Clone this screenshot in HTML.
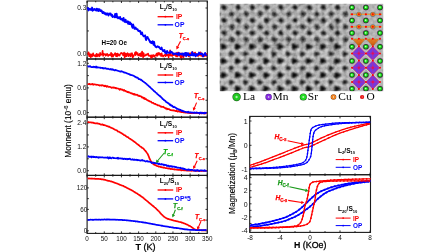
<!DOCTYPE html>
<html><head><meta charset="utf-8"><style>
html,body{margin:0;padding:0;background:#fff;}
body{width:448px;height:252px;overflow:hidden;}
svg{display:block;}
</style></head><body>
<svg width="448" height="252" viewBox="0 0 448 252">
<rect width="448" height="252" fill="#fff"/>
<g font-family='"Liberation Sans", Arial, sans-serif'>
<rect x="87.1" y="1" width="120.2" height="58" fill="none" stroke="#1a1a1a" stroke-width="1.1"/>
<line x1="87.1" y1="59" x2="87.1" y2="57" stroke="#1a1a1a" stroke-width="0.9"/>
<line x1="87.1" y1="1" x2="87.1" y2="3" stroke="#1a1a1a" stroke-width="0.9"/>
<line x1="95.69" y1="59" x2="95.69" y2="57.7" stroke="#1a1a1a" stroke-width="0.9"/>
<line x1="95.69" y1="1" x2="95.69" y2="2.3" stroke="#1a1a1a" stroke-width="0.9"/>
<line x1="104.27" y1="59" x2="104.27" y2="57" stroke="#1a1a1a" stroke-width="0.9"/>
<line x1="104.27" y1="1" x2="104.27" y2="3" stroke="#1a1a1a" stroke-width="0.9"/>
<line x1="112.86" y1="59" x2="112.86" y2="57.7" stroke="#1a1a1a" stroke-width="0.9"/>
<line x1="112.86" y1="1" x2="112.86" y2="2.3" stroke="#1a1a1a" stroke-width="0.9"/>
<line x1="121.44" y1="59" x2="121.44" y2="57" stroke="#1a1a1a" stroke-width="0.9"/>
<line x1="121.44" y1="1" x2="121.44" y2="3" stroke="#1a1a1a" stroke-width="0.9"/>
<line x1="130.03" y1="59" x2="130.03" y2="57.7" stroke="#1a1a1a" stroke-width="0.9"/>
<line x1="130.03" y1="1" x2="130.03" y2="2.3" stroke="#1a1a1a" stroke-width="0.9"/>
<line x1="138.61" y1="59" x2="138.61" y2="57" stroke="#1a1a1a" stroke-width="0.9"/>
<line x1="138.61" y1="1" x2="138.61" y2="3" stroke="#1a1a1a" stroke-width="0.9"/>
<line x1="147.2" y1="59" x2="147.2" y2="57.7" stroke="#1a1a1a" stroke-width="0.9"/>
<line x1="147.2" y1="1" x2="147.2" y2="2.3" stroke="#1a1a1a" stroke-width="0.9"/>
<line x1="155.79" y1="59" x2="155.79" y2="57" stroke="#1a1a1a" stroke-width="0.9"/>
<line x1="155.79" y1="1" x2="155.79" y2="3" stroke="#1a1a1a" stroke-width="0.9"/>
<line x1="164.37" y1="59" x2="164.37" y2="57.7" stroke="#1a1a1a" stroke-width="0.9"/>
<line x1="164.37" y1="1" x2="164.37" y2="2.3" stroke="#1a1a1a" stroke-width="0.9"/>
<line x1="172.96" y1="59" x2="172.96" y2="57" stroke="#1a1a1a" stroke-width="0.9"/>
<line x1="172.96" y1="1" x2="172.96" y2="3" stroke="#1a1a1a" stroke-width="0.9"/>
<line x1="181.54" y1="59" x2="181.54" y2="57.7" stroke="#1a1a1a" stroke-width="0.9"/>
<line x1="181.54" y1="1" x2="181.54" y2="2.3" stroke="#1a1a1a" stroke-width="0.9"/>
<line x1="190.13" y1="59" x2="190.13" y2="57" stroke="#1a1a1a" stroke-width="0.9"/>
<line x1="190.13" y1="1" x2="190.13" y2="3" stroke="#1a1a1a" stroke-width="0.9"/>
<line x1="198.71" y1="59" x2="198.71" y2="57.7" stroke="#1a1a1a" stroke-width="0.9"/>
<line x1="198.71" y1="1" x2="198.71" y2="2.3" stroke="#1a1a1a" stroke-width="0.9"/>
<line x1="207.3" y1="59" x2="207.3" y2="57" stroke="#1a1a1a" stroke-width="0.9"/>
<line x1="207.3" y1="1" x2="207.3" y2="3" stroke="#1a1a1a" stroke-width="0.9"/>
<line x1="87.1" y1="8" x2="88.9" y2="8" stroke="#1a1a1a" stroke-width="0.9"/>
<line x1="207.3" y1="8" x2="205.5" y2="8" stroke="#1a1a1a" stroke-width="0.9"/>
<line x1="87.1" y1="53.9" x2="88.9" y2="53.9" stroke="#1a1a1a" stroke-width="0.9"/>
<line x1="207.3" y1="53.9" x2="205.5" y2="53.9" stroke="#1a1a1a" stroke-width="0.9"/>
<line x1="87.1" y1="30.95" x2="88.9" y2="30.95" stroke="#1a1a1a" stroke-width="0.9"/>
<line x1="207.3" y1="30.95" x2="205.5" y2="30.95" stroke="#1a1a1a" stroke-width="0.9"/>
<text transform="translate(86.4,10.45) scale(0.95,1)" text-anchor="end" font-size="7.0" fill="#111">0.3</text>
<text transform="translate(86.4,56.35) scale(0.95,1)" text-anchor="end" font-size="7.0" fill="#111">0.0</text>
<rect x="87.1" y="59" width="120.2" height="58.2" fill="none" stroke="#1a1a1a" stroke-width="1.1"/>
<line x1="87.1" y1="117.2" x2="87.1" y2="115.2" stroke="#1a1a1a" stroke-width="0.9"/>
<line x1="87.1" y1="59" x2="87.1" y2="61" stroke="#1a1a1a" stroke-width="0.9"/>
<line x1="95.69" y1="117.2" x2="95.69" y2="115.9" stroke="#1a1a1a" stroke-width="0.9"/>
<line x1="95.69" y1="59" x2="95.69" y2="60.3" stroke="#1a1a1a" stroke-width="0.9"/>
<line x1="104.27" y1="117.2" x2="104.27" y2="115.2" stroke="#1a1a1a" stroke-width="0.9"/>
<line x1="104.27" y1="59" x2="104.27" y2="61" stroke="#1a1a1a" stroke-width="0.9"/>
<line x1="112.86" y1="117.2" x2="112.86" y2="115.9" stroke="#1a1a1a" stroke-width="0.9"/>
<line x1="112.86" y1="59" x2="112.86" y2="60.3" stroke="#1a1a1a" stroke-width="0.9"/>
<line x1="121.44" y1="117.2" x2="121.44" y2="115.2" stroke="#1a1a1a" stroke-width="0.9"/>
<line x1="121.44" y1="59" x2="121.44" y2="61" stroke="#1a1a1a" stroke-width="0.9"/>
<line x1="130.03" y1="117.2" x2="130.03" y2="115.9" stroke="#1a1a1a" stroke-width="0.9"/>
<line x1="130.03" y1="59" x2="130.03" y2="60.3" stroke="#1a1a1a" stroke-width="0.9"/>
<line x1="138.61" y1="117.2" x2="138.61" y2="115.2" stroke="#1a1a1a" stroke-width="0.9"/>
<line x1="138.61" y1="59" x2="138.61" y2="61" stroke="#1a1a1a" stroke-width="0.9"/>
<line x1="147.2" y1="117.2" x2="147.2" y2="115.9" stroke="#1a1a1a" stroke-width="0.9"/>
<line x1="147.2" y1="59" x2="147.2" y2="60.3" stroke="#1a1a1a" stroke-width="0.9"/>
<line x1="155.79" y1="117.2" x2="155.79" y2="115.2" stroke="#1a1a1a" stroke-width="0.9"/>
<line x1="155.79" y1="59" x2="155.79" y2="61" stroke="#1a1a1a" stroke-width="0.9"/>
<line x1="164.37" y1="117.2" x2="164.37" y2="115.9" stroke="#1a1a1a" stroke-width="0.9"/>
<line x1="164.37" y1="59" x2="164.37" y2="60.3" stroke="#1a1a1a" stroke-width="0.9"/>
<line x1="172.96" y1="117.2" x2="172.96" y2="115.2" stroke="#1a1a1a" stroke-width="0.9"/>
<line x1="172.96" y1="59" x2="172.96" y2="61" stroke="#1a1a1a" stroke-width="0.9"/>
<line x1="181.54" y1="117.2" x2="181.54" y2="115.9" stroke="#1a1a1a" stroke-width="0.9"/>
<line x1="181.54" y1="59" x2="181.54" y2="60.3" stroke="#1a1a1a" stroke-width="0.9"/>
<line x1="190.13" y1="117.2" x2="190.13" y2="115.2" stroke="#1a1a1a" stroke-width="0.9"/>
<line x1="190.13" y1="59" x2="190.13" y2="61" stroke="#1a1a1a" stroke-width="0.9"/>
<line x1="198.71" y1="117.2" x2="198.71" y2="115.9" stroke="#1a1a1a" stroke-width="0.9"/>
<line x1="198.71" y1="59" x2="198.71" y2="60.3" stroke="#1a1a1a" stroke-width="0.9"/>
<line x1="207.3" y1="117.2" x2="207.3" y2="115.2" stroke="#1a1a1a" stroke-width="0.9"/>
<line x1="207.3" y1="59" x2="207.3" y2="61" stroke="#1a1a1a" stroke-width="0.9"/>
<line x1="87.1" y1="63.3" x2="88.9" y2="63.3" stroke="#1a1a1a" stroke-width="0.9"/>
<line x1="207.3" y1="63.3" x2="205.5" y2="63.3" stroke="#1a1a1a" stroke-width="0.9"/>
<line x1="87.1" y1="87.9" x2="88.9" y2="87.9" stroke="#1a1a1a" stroke-width="0.9"/>
<line x1="207.3" y1="87.9" x2="205.5" y2="87.9" stroke="#1a1a1a" stroke-width="0.9"/>
<line x1="87.1" y1="112.6" x2="88.9" y2="112.6" stroke="#1a1a1a" stroke-width="0.9"/>
<line x1="207.3" y1="112.6" x2="205.5" y2="112.6" stroke="#1a1a1a" stroke-width="0.9"/>
<line x1="87.1" y1="75.6" x2="88.9" y2="75.6" stroke="#1a1a1a" stroke-width="0.9"/>
<line x1="207.3" y1="75.6" x2="205.5" y2="75.6" stroke="#1a1a1a" stroke-width="0.9"/>
<line x1="87.1" y1="100.25" x2="88.9" y2="100.25" stroke="#1a1a1a" stroke-width="0.9"/>
<line x1="207.3" y1="100.25" x2="205.5" y2="100.25" stroke="#1a1a1a" stroke-width="0.9"/>
<text transform="translate(86.4,65.75) scale(0.95,1)" text-anchor="end" font-size="7.0" fill="#111">1.2</text>
<text transform="translate(86.4,90.35) scale(0.95,1)" text-anchor="end" font-size="7.0" fill="#111">0.6</text>
<text transform="translate(86.4,115.05) scale(0.95,1)" text-anchor="end" font-size="7.0" fill="#111">0.0</text>
<rect x="87.1" y="117.2" width="120.2" height="58.2" fill="none" stroke="#1a1a1a" stroke-width="1.1"/>
<line x1="87.1" y1="175.4" x2="87.1" y2="173.4" stroke="#1a1a1a" stroke-width="0.9"/>
<line x1="87.1" y1="117.2" x2="87.1" y2="119.2" stroke="#1a1a1a" stroke-width="0.9"/>
<line x1="95.69" y1="175.4" x2="95.69" y2="174.1" stroke="#1a1a1a" stroke-width="0.9"/>
<line x1="95.69" y1="117.2" x2="95.69" y2="118.5" stroke="#1a1a1a" stroke-width="0.9"/>
<line x1="104.27" y1="175.4" x2="104.27" y2="173.4" stroke="#1a1a1a" stroke-width="0.9"/>
<line x1="104.27" y1="117.2" x2="104.27" y2="119.2" stroke="#1a1a1a" stroke-width="0.9"/>
<line x1="112.86" y1="175.4" x2="112.86" y2="174.1" stroke="#1a1a1a" stroke-width="0.9"/>
<line x1="112.86" y1="117.2" x2="112.86" y2="118.5" stroke="#1a1a1a" stroke-width="0.9"/>
<line x1="121.44" y1="175.4" x2="121.44" y2="173.4" stroke="#1a1a1a" stroke-width="0.9"/>
<line x1="121.44" y1="117.2" x2="121.44" y2="119.2" stroke="#1a1a1a" stroke-width="0.9"/>
<line x1="130.03" y1="175.4" x2="130.03" y2="174.1" stroke="#1a1a1a" stroke-width="0.9"/>
<line x1="130.03" y1="117.2" x2="130.03" y2="118.5" stroke="#1a1a1a" stroke-width="0.9"/>
<line x1="138.61" y1="175.4" x2="138.61" y2="173.4" stroke="#1a1a1a" stroke-width="0.9"/>
<line x1="138.61" y1="117.2" x2="138.61" y2="119.2" stroke="#1a1a1a" stroke-width="0.9"/>
<line x1="147.2" y1="175.4" x2="147.2" y2="174.1" stroke="#1a1a1a" stroke-width="0.9"/>
<line x1="147.2" y1="117.2" x2="147.2" y2="118.5" stroke="#1a1a1a" stroke-width="0.9"/>
<line x1="155.79" y1="175.4" x2="155.79" y2="173.4" stroke="#1a1a1a" stroke-width="0.9"/>
<line x1="155.79" y1="117.2" x2="155.79" y2="119.2" stroke="#1a1a1a" stroke-width="0.9"/>
<line x1="164.37" y1="175.4" x2="164.37" y2="174.1" stroke="#1a1a1a" stroke-width="0.9"/>
<line x1="164.37" y1="117.2" x2="164.37" y2="118.5" stroke="#1a1a1a" stroke-width="0.9"/>
<line x1="172.96" y1="175.4" x2="172.96" y2="173.4" stroke="#1a1a1a" stroke-width="0.9"/>
<line x1="172.96" y1="117.2" x2="172.96" y2="119.2" stroke="#1a1a1a" stroke-width="0.9"/>
<line x1="181.54" y1="175.4" x2="181.54" y2="174.1" stroke="#1a1a1a" stroke-width="0.9"/>
<line x1="181.54" y1="117.2" x2="181.54" y2="118.5" stroke="#1a1a1a" stroke-width="0.9"/>
<line x1="190.13" y1="175.4" x2="190.13" y2="173.4" stroke="#1a1a1a" stroke-width="0.9"/>
<line x1="190.13" y1="117.2" x2="190.13" y2="119.2" stroke="#1a1a1a" stroke-width="0.9"/>
<line x1="198.71" y1="175.4" x2="198.71" y2="174.1" stroke="#1a1a1a" stroke-width="0.9"/>
<line x1="198.71" y1="117.2" x2="198.71" y2="118.5" stroke="#1a1a1a" stroke-width="0.9"/>
<line x1="207.3" y1="175.4" x2="207.3" y2="173.4" stroke="#1a1a1a" stroke-width="0.9"/>
<line x1="207.3" y1="117.2" x2="207.3" y2="119.2" stroke="#1a1a1a" stroke-width="0.9"/>
<line x1="87.1" y1="123" x2="88.9" y2="123" stroke="#1a1a1a" stroke-width="0.9"/>
<line x1="207.3" y1="123" x2="205.5" y2="123" stroke="#1a1a1a" stroke-width="0.9"/>
<line x1="87.1" y1="146.9" x2="88.9" y2="146.9" stroke="#1a1a1a" stroke-width="0.9"/>
<line x1="207.3" y1="146.9" x2="205.5" y2="146.9" stroke="#1a1a1a" stroke-width="0.9"/>
<line x1="87.1" y1="170.7" x2="88.9" y2="170.7" stroke="#1a1a1a" stroke-width="0.9"/>
<line x1="207.3" y1="170.7" x2="205.5" y2="170.7" stroke="#1a1a1a" stroke-width="0.9"/>
<line x1="87.1" y1="134.95" x2="88.9" y2="134.95" stroke="#1a1a1a" stroke-width="0.9"/>
<line x1="207.3" y1="134.95" x2="205.5" y2="134.95" stroke="#1a1a1a" stroke-width="0.9"/>
<line x1="87.1" y1="158.8" x2="88.9" y2="158.8" stroke="#1a1a1a" stroke-width="0.9"/>
<line x1="207.3" y1="158.8" x2="205.5" y2="158.8" stroke="#1a1a1a" stroke-width="0.9"/>
<text transform="translate(86.4,125.45) scale(0.95,1)" text-anchor="end" font-size="7.0" fill="#111">2.4</text>
<text transform="translate(86.4,149.35) scale(0.95,1)" text-anchor="end" font-size="7.0" fill="#111">1.2</text>
<text transform="translate(86.4,173.15) scale(0.95,1)" text-anchor="end" font-size="7.0" fill="#111">0.0</text>
<rect x="87.1" y="175.4" width="120.2" height="58" fill="none" stroke="#1a1a1a" stroke-width="1.1"/>
<line x1="87.1" y1="233.4" x2="87.1" y2="231.4" stroke="#1a1a1a" stroke-width="0.9"/>
<line x1="87.1" y1="175.4" x2="87.1" y2="177.4" stroke="#1a1a1a" stroke-width="0.9"/>
<line x1="95.69" y1="233.4" x2="95.69" y2="232.1" stroke="#1a1a1a" stroke-width="0.9"/>
<line x1="95.69" y1="175.4" x2="95.69" y2="176.7" stroke="#1a1a1a" stroke-width="0.9"/>
<line x1="104.27" y1="233.4" x2="104.27" y2="231.4" stroke="#1a1a1a" stroke-width="0.9"/>
<line x1="104.27" y1="175.4" x2="104.27" y2="177.4" stroke="#1a1a1a" stroke-width="0.9"/>
<line x1="112.86" y1="233.4" x2="112.86" y2="232.1" stroke="#1a1a1a" stroke-width="0.9"/>
<line x1="112.86" y1="175.4" x2="112.86" y2="176.7" stroke="#1a1a1a" stroke-width="0.9"/>
<line x1="121.44" y1="233.4" x2="121.44" y2="231.4" stroke="#1a1a1a" stroke-width="0.9"/>
<line x1="121.44" y1="175.4" x2="121.44" y2="177.4" stroke="#1a1a1a" stroke-width="0.9"/>
<line x1="130.03" y1="233.4" x2="130.03" y2="232.1" stroke="#1a1a1a" stroke-width="0.9"/>
<line x1="130.03" y1="175.4" x2="130.03" y2="176.7" stroke="#1a1a1a" stroke-width="0.9"/>
<line x1="138.61" y1="233.4" x2="138.61" y2="231.4" stroke="#1a1a1a" stroke-width="0.9"/>
<line x1="138.61" y1="175.4" x2="138.61" y2="177.4" stroke="#1a1a1a" stroke-width="0.9"/>
<line x1="147.2" y1="233.4" x2="147.2" y2="232.1" stroke="#1a1a1a" stroke-width="0.9"/>
<line x1="147.2" y1="175.4" x2="147.2" y2="176.7" stroke="#1a1a1a" stroke-width="0.9"/>
<line x1="155.79" y1="233.4" x2="155.79" y2="231.4" stroke="#1a1a1a" stroke-width="0.9"/>
<line x1="155.79" y1="175.4" x2="155.79" y2="177.4" stroke="#1a1a1a" stroke-width="0.9"/>
<line x1="164.37" y1="233.4" x2="164.37" y2="232.1" stroke="#1a1a1a" stroke-width="0.9"/>
<line x1="164.37" y1="175.4" x2="164.37" y2="176.7" stroke="#1a1a1a" stroke-width="0.9"/>
<line x1="172.96" y1="233.4" x2="172.96" y2="231.4" stroke="#1a1a1a" stroke-width="0.9"/>
<line x1="172.96" y1="175.4" x2="172.96" y2="177.4" stroke="#1a1a1a" stroke-width="0.9"/>
<line x1="181.54" y1="233.4" x2="181.54" y2="232.1" stroke="#1a1a1a" stroke-width="0.9"/>
<line x1="181.54" y1="175.4" x2="181.54" y2="176.7" stroke="#1a1a1a" stroke-width="0.9"/>
<line x1="190.13" y1="233.4" x2="190.13" y2="231.4" stroke="#1a1a1a" stroke-width="0.9"/>
<line x1="190.13" y1="175.4" x2="190.13" y2="177.4" stroke="#1a1a1a" stroke-width="0.9"/>
<line x1="198.71" y1="233.4" x2="198.71" y2="232.1" stroke="#1a1a1a" stroke-width="0.9"/>
<line x1="198.71" y1="175.4" x2="198.71" y2="176.7" stroke="#1a1a1a" stroke-width="0.9"/>
<line x1="207.3" y1="233.4" x2="207.3" y2="231.4" stroke="#1a1a1a" stroke-width="0.9"/>
<line x1="207.3" y1="175.4" x2="207.3" y2="177.4" stroke="#1a1a1a" stroke-width="0.9"/>
<line x1="87.1" y1="187.9" x2="88.9" y2="187.9" stroke="#1a1a1a" stroke-width="0.9"/>
<line x1="207.3" y1="187.9" x2="205.5" y2="187.9" stroke="#1a1a1a" stroke-width="0.9"/>
<line x1="87.1" y1="209.4" x2="88.9" y2="209.4" stroke="#1a1a1a" stroke-width="0.9"/>
<line x1="207.3" y1="209.4" x2="205.5" y2="209.4" stroke="#1a1a1a" stroke-width="0.9"/>
<line x1="87.1" y1="230.8" x2="88.9" y2="230.8" stroke="#1a1a1a" stroke-width="0.9"/>
<line x1="207.3" y1="230.8" x2="205.5" y2="230.8" stroke="#1a1a1a" stroke-width="0.9"/>
<line x1="87.1" y1="198.65" x2="88.9" y2="198.65" stroke="#1a1a1a" stroke-width="0.9"/>
<line x1="207.3" y1="198.65" x2="205.5" y2="198.65" stroke="#1a1a1a" stroke-width="0.9"/>
<line x1="87.1" y1="220.1" x2="88.9" y2="220.1" stroke="#1a1a1a" stroke-width="0.9"/>
<line x1="207.3" y1="220.1" x2="205.5" y2="220.1" stroke="#1a1a1a" stroke-width="0.9"/>
<text transform="translate(87.2,190.35) scale(0.9,1)" text-anchor="end" font-size="7.0" fill="#111">120</text>
<text transform="translate(87.2,211.85) scale(0.9,1)" text-anchor="end" font-size="7.0" fill="#111">60</text>
<text transform="translate(87.2,233.25) scale(0.9,1)" text-anchor="end" font-size="7.0" fill="#111">0</text>
<polyline points="87.6,54.02 88.1,54.27 88.6,52.22 89.1,56.24 89.6,54.07 90.1,54.24 90.6,57.24 91.1,54.26 91.6,56.61 92.1,56.41 92.6,54.72 93.1,53.27 93.6,55.42 94.1,55.67 94.6,56.01 95.1,54.98 95.6,56.29 96.1,55.91 96.6,53.69 97.1,56.54 97.6,55.1 98.1,54.25 98.6,54.53 99.1,56.39 99.6,56.03 100.1,52.84 100.6,55 101.1,54.74 101.6,54.7 102.1,53.82 102.6,50.81 103.1,55.89 103.6,53.82 104.1,54.47 104.6,54.21 105.1,54.06 105.6,55.75 106.1,55.34 106.6,54.12 107.1,53.81 107.6,54.36 108.1,56.01 108.6,55.04 109.1,55.17 109.6,54.52 110.1,54.6 110.6,55.15 111.1,52.78 111.6,56.75 112.1,53.99 112.6,54.25 113.1,56.44 113.6,55.16 114.1,54.95 114.6,54.23 115.1,53.1 115.6,54.31 116.1,56.27 116.6,53.87 117.1,56.47 117.6,53.6 118.1,54.06 118.6,55.48 119.1,54.9 119.6,55.69 120.1,54.05 120.6,53.71 121.1,52.75 121.6,53.52 122.1,53.66 122.6,53.26 123.1,55.25 123.6,54.14 124.1,52.61 124.6,57.76 125.1,53.94 125.6,53.46 126.1,56.33 126.6,56.24 127.1,53.58 127.6,53.2 128.1,53.75 128.6,56.2 129.1,54.29 129.6,53.97 130.1,54.87 130.6,56.28 131.1,53.3 131.6,54.46 132.1,53.31 132.6,57.4 133.1,56.99 133.6,55.99 134.1,54.75 134.6,54.34 135.1,52.48 135.6,55.22 136.1,51.93 136.6,53.38 137.1,54.09 137.6,53.07 138.1,55.56 138.6,55.52 139.1,55.2 139.6,53.81 140.1,55.68 140.6,53.23 141.1,56.26 141.6,53.85 142.1,51.5 142.6,54.35 143.1,57.37 143.6,53.15 144.1,54.68 144.6,55.92 145.1,55.48 145.6,55.43 146.1,54.31 146.6,54.99 147.1,54.94 147.6,54.16 148.1,53.61 148.6,55.06 149.1,56.01 149.6,55.64 150.1,55.47 150.6,55.48 151.1,57.87 151.6,55.2 152.1,56.1 152.6,57.15 153.1,54.96 153.6,55.2 154.1,56.1 154.6,56.84 155.1,55.26 155.6,55.32 156.1,55 156.6,53.51 157.1,55.97 157.6,54.61 158.1,52.92 158.6,54.73 159.1,52.91 159.6,53.74 160.1,54.92 160.6,53.85 161.1,56.14 161.6,53.22 162.1,55.21 162.6,55.55 163.1,56.59 163.6,55.97 164.1,55.18 164.6,55 165.1,54.84 165.6,56.22 166.1,53.64 166.6,55.51 167.1,54.8 167.6,55.19 168.1,54.61 168.6,57.37 169.1,54.16 169.6,55.2 170.1,50.19 170.6,55.61 171.1,55.43 171.6,55.4 172.1,56.04 172.6,53.18 173.1,54.92 173.6,53.5 174.1,55.18 174.6,53.55 175.1,53.81 175.6,54.84 176.1,56.52 176.6,55.58 177.1,52.57 177.6,56.53 178.1,53.83 178.6,52.51 179.1,54.43 179.6,54.6 180.1,56.34 180.6,57.38 181.1,53.39 181.6,57.76 182.1,56.71 182.6,55.88 183.1,55.34 183.6,57.25 184.1,53.96 184.6,54.37 185.1,55.08 185.6,53.34 186.1,55.46 186.6,54.79 187.1,53.34 187.6,55.33 188.1,53.7 188.6,56.43 189.1,53.75 189.6,55.94 190.1,53.08 190.6,55.34 191.1,53.97 191.6,54.97 192.1,54.17 192.6,51.93 193.1,53.64 193.6,55 194.1,55.12 194.6,53.23 195.1,52.47 195.6,53.91 196.1,54.67 196.6,54.19 197.1,53.99 197.6,55.9 198.1,56.03 198.6,55.77 199.1,53.84 199.6,55.01 200.1,54.7 200.6,52.27 201.1,55.93 201.6,55.02 202.1,53.59 202.6,56.55 203.1,55.8 203.6,55.9 204.1,56.3 204.6,55.74 205.1,53.46 205.6,54.47 206.1,56.07 206.6,53.04" fill="none" stroke="#f00" stroke-width="1.6" stroke-linejoin="round"/>
<polyline points="87.6,7.17 88.1,9.28 88.6,10.47 89.1,8.82 89.6,9.02 90.1,8.81 90.6,9.86 91.1,9.27 91.6,10.04 92.1,7.58 92.6,10.83 93.1,9.26 93.6,10.01 94.1,9.1 94.6,9.03 95.1,9.85 95.6,10.27 96.1,9.43 96.6,8.63 97.1,10.67 97.6,9.42 98.1,9.03 98.6,11.06 99.1,10.24 99.6,9.24 100.1,10.48 100.6,11.01 101.1,10.52 101.6,10.44 102.1,12.1 102.6,13.12 103.1,12.25 103.6,11.97 104.1,13.24 104.6,13.76 105.1,12.99 105.6,13.98 106.1,14.64 106.6,13.63 107.1,13.23 107.6,14.5 108.1,14.57 108.6,15.53 109.1,13.37 109.6,14.16 110.1,14.13 110.6,13.42 111.1,15.33 111.6,15.86 112.1,14.8 112.6,16.96 113.1,16.57 113.6,16.53 114.1,16.47 114.6,17.15 115.1,14.04 115.6,17.15 116.1,17.32 116.6,13.67 117.1,17.44 117.6,17.07 118.1,18.26 118.6,17.3 119.1,17.92 119.6,18.48 120.1,16.85 120.6,19.18 121.1,18.75 121.6,19.55 122.1,18.84 122.6,20.61 123.1,20.21 123.6,18.04 124.1,20.96 124.6,21.83 125.1,21.06 125.6,19.68 126.1,22.3 126.6,22.18 127.1,21.94 127.6,21.38 128.1,23.84 128.6,21.77 129.1,23.84 129.6,24.02 130.1,22.46 130.6,24.05 131.1,23.45 131.6,25.07 132.1,26.87 132.6,27.72 133.1,24.49 133.6,26.02 134.1,27.64 134.6,28.87 135.1,28.19 135.6,27.5 136.1,28.92 136.6,29.05 137.1,29.3 137.6,29.23 138.1,30.73 138.6,31.09 139.1,30.75 139.6,31.47 140.1,30.91 140.6,32.13 141.1,34.19 141.6,33.33 142.1,32.6 142.6,34.89 143.1,35.4 143.6,36.27 144.1,35.89 144.6,35.85 145.1,35.37 145.6,38.46 146.1,40.09 146.6,37.31 147.1,37.92 147.6,37.04 148.1,38.64 148.6,39.06 149.1,39.99 149.6,40.95 150.1,42.25 150.6,41.67 151.1,42.96 151.6,42.11 152.1,43.24 152.6,41.31 153.1,41.58 153.6,44.89 154.1,41.95 154.6,45.42 155.1,45.75 155.6,46.84 156.1,46.71 156.6,47.26 157.1,46.53 157.6,46.32 158.1,46.62 158.6,47.18 159.1,46.89 159.6,47.76 160.1,48.49 160.6,49.12 161.1,48.84 161.6,47.6 162.1,49.62 162.6,50.15 163.1,51.2 163.6,50.93 164.1,49.98 164.6,50.11 165.1,52.91 165.6,51.91 166.1,53.12 166.6,53.58 167.1,50.96 167.6,52.27 168.1,52.5 168.6,52.75 169.1,52.88 169.6,52.7 170.1,52.8 170.6,51.33 171.1,52.72 171.6,52.28 172.1,52.3 172.6,52.76 173.1,53.9 173.6,54.2 174.1,53.81 174.6,53.91 175.1,53.79 175.6,53.37 176.1,53.72 176.6,53.48 177.1,54.39 177.6,54.09 178.1,54.68 178.6,52.91 179.1,55.05 179.6,53.51 180.1,53.57 180.6,54.1 181.1,53.78 181.6,54.62 182.1,53.82 182.6,53.37 183.1,53.6 183.6,55.67 184.1,54.49 184.6,53.35 185.1,54.49 185.6,53.02 186.1,56.21 186.6,53.08 187.1,54.99 187.6,55.07 188.1,53.18 188.6,54.86 189.1,55.53 189.6,55.04 190.1,54.85 190.6,55.51 191.1,54.77 191.6,54.95 192.1,52.12 192.6,55.25 193.1,53.76 193.6,55.42 194.1,54.19 194.6,53.65 195.1,55.04 195.6,56.31 196.1,55.62 196.6,54.22 197.1,55.38 197.6,54.3 198.1,54.62 198.6,54.34 199.1,52.55 199.6,53.76 200.1,53.78 200.6,54.1 201.1,53.37 201.6,53.33 202.1,53.88 202.6,55.57 203.1,56.37 203.6,54.77 204.1,54.29 204.6,54.54 205.1,52.98 205.6,54.94 206.1,55.22 206.6,54.39" fill="none" stroke="#00f" stroke-width="1.9" stroke-linejoin="round"/>
<polyline points="87.6,84.12 88.1,84.18 88.6,84.17 89.1,83.94 89.6,83.82 90.1,84.48 90.6,84.23 91.1,84.38 91.6,84.23 92.1,83.88 92.6,84.11 93.1,84.82 93.6,84.32 94.1,84.47 94.6,84.25 95.1,84.53 95.6,84.62 96.1,84.71 96.6,84.8 97.1,84.72 97.6,84.78 98.1,84.98 98.6,85.12 99.1,85.07 99.6,85.6 100.1,85.28 100.6,85.34 101.1,85.21 101.6,85.71 102.1,85.27 102.6,85.2 103.1,85.45 103.6,85.93 104.1,85.57 104.6,86.27 105.1,86.03 105.6,85.74 106.1,86.15 106.6,86.75 107.1,86.18 107.6,86.16 108.1,86.71 108.6,87 109.1,87.02 109.6,86.77 110.1,87 110.6,87.12 111.1,87.43 111.6,87.77 112.1,87.3 112.6,87.75 113.1,87.44 113.6,87.77 114.1,87.49 114.6,87.64 115.1,88.03 115.6,87.81 116.1,88.37 116.6,88.12 117.1,88.39 117.6,88.47 118.1,88.53 118.6,88.77 119.1,89.13 119.6,89.77 120.1,88.83 120.6,89.34 121.1,89.37 121.6,89.35 122.1,89.81 122.6,89.69 123.1,90.08 123.6,90.59 124.1,89.97 124.6,90.73 125.1,90.99 125.6,90.84 126.1,91.41 126.6,91.58 127.1,91.61 127.6,92.21 128.1,91.78 128.6,92.48 129.1,92.46 129.6,92.45 130.1,92.86 130.6,93.01 131.1,93.48 131.6,93.08 132.1,93.57 132.6,93.67 133.1,94.33 133.6,93.81 134.1,94.51 134.6,93.96 135.1,94.63 135.6,94.66 136.1,94.94 136.6,94.82 137.1,94.66 137.6,94.93 138.1,95.81 138.6,95.71 139.1,95.62 139.6,96.25 140.1,96.03 140.6,96.25 141.1,96.36 141.6,97.2 142.1,97.64 142.6,97.17 143.1,97.76 143.6,98.2 144.1,98.77 144.6,97.93 145.1,98.85 145.6,99.26 146.1,99.01 146.6,99.77 147.1,99.99 147.6,100.39 148.1,100.33 148.6,100.83 149.1,100.83 149.6,101.39 150.1,101.53 150.6,101.65 151.1,101.65 151.6,102.66 152.1,102.78 152.6,102.97 153.1,102.83 153.6,103.15 154.1,103.9 154.6,103.9 155.1,103.74 155.6,104.2 156.1,104.45 156.6,104.58 157.1,104.62 157.6,105.38 158.1,105.43 158.6,105.45 159.1,105.31 159.6,105.77 160.1,106.12 160.6,106.54 161.1,106.43 161.6,107 162.1,106.95 162.6,106.92 163.1,106.6 163.6,107.19 164.1,107.29 164.6,107.8 165.1,108.1 165.6,108.53 166.1,108.35 166.6,108.24 167.1,109.28 167.6,108.94 168.1,108.96 168.6,109.12 169.1,109 169.6,109.65 170.1,109.74 170.6,110.18 171.1,110.2 171.6,110.28 172.1,110.51 172.6,110.25 173.1,110.33 173.6,110.54 174.1,110.35 174.6,110.73 175.1,110.79 175.6,111.14 176.1,111.07 176.6,110.69 177.1,111.27 177.6,111.71 178.1,110.99 178.6,111.34 179.1,111.62 179.6,111.36 180.1,111.63 180.6,111.85 181.1,111.58 181.6,112.05 182.1,112.14 182.6,111.78 183.1,112.17 183.6,112.49 184.1,112.24 184.6,112.45 185.1,112.56 185.6,112.4 186.1,112.76 186.6,112.66 187.1,112.36 187.6,112.78 188.1,112.9 188.6,112.92 189.1,112.59 189.6,112.89 190.1,113.14 190.6,112.87 191.1,113.12 191.6,113.17 192.1,112.85 192.6,113.04 193.1,112.81 193.6,113.17 194.1,112.89 194.6,112.79 195.1,112.93 195.6,112.93 196.1,113.06 196.6,113.09 197.1,112.69 197.6,112.83 198.1,113.1 198.6,113.14 199.1,113.05 199.6,113.69 200.1,113.32 200.6,113.03 201.1,113.24 201.6,113.4 202.1,113.16 202.6,112.64 203.1,113.1 203.6,113.1 204.1,113.62 204.6,112.63 205.1,113.48 205.6,113.06 206.1,113.33 206.6,113.03" fill="none" stroke="#f00" stroke-width="1.7" stroke-linejoin="round"/>
<polyline points="87.6,66.67 88.1,66.25 88.6,66.73 89.1,66.72 89.6,66.37 90.1,66.11 90.6,66.79 91.1,66.78 91.6,67.26 92.1,67.08 92.6,66.97 93.1,67.25 93.6,66.62 94.1,66.99 94.6,66.93 95.1,67.49 95.6,67.25 96.1,66.4 96.6,67.57 97.1,67.06 97.6,67.54 98.1,67.28 98.6,67.52 99.1,67.68 99.6,67.64 100.1,67.41 100.6,68.07 101.1,67.88 101.6,67.85 102.1,68.1 102.6,67.85 103.1,68.53 103.6,68.19 104.1,68.29 104.6,68.36 105.1,68.12 105.6,68.13 106.1,68.56 106.6,68.67 107.1,69 107.6,68.85 108.1,68.55 108.6,69.04 109.1,69.19 109.6,69.32 110.1,69.24 110.6,68.94 111.1,69.63 111.6,69.24 112.1,69.66 112.6,69.22 113.1,69.9 113.6,69.61 114.1,70.18 114.6,70.45 115.1,70.4 115.6,69.92 116.1,70.08 116.6,70.21 117.1,70.7 117.6,70.74 118.1,70.81 118.6,70.96 119.1,71.15 119.6,71.29 120.1,71.68 120.6,71.37 121.1,71.56 121.6,71.19 122.1,71.46 122.6,71.76 123.1,71.78 123.6,72.29 124.1,72.65 124.6,72.43 125.1,72.58 125.6,72.74 126.1,73.07 126.6,73.07 127.1,73.49 127.6,73.64 128.1,73.83 128.6,74.11 129.1,74.12 129.6,74.33 130.1,74.93 130.6,74.67 131.1,75.08 131.6,75.09 132.1,75.17 132.6,75.38 133.1,75.5 133.6,75.92 134.1,75.99 134.6,76.26 135.1,76.9 135.6,76.8 136.1,77.36 136.6,77.39 137.1,77.79 137.6,77.69 138.1,78.14 138.6,79.04 139.1,78.87 139.6,79.21 140.1,79.32 140.6,79.79 141.1,79.62 141.6,80.05 142.1,80.74 142.6,81.21 143.1,81.3 143.6,81.76 144.1,82.12 144.6,82.58 145.1,82.75 145.6,83.12 146.1,83.89 146.6,83.91 147.1,84.53 147.6,85.04 148.1,85.36 148.6,86.11 149.1,86.36 149.6,86.89 150.1,87.09 150.6,87.6 151.1,88.36 151.6,88.76 152.1,89.01 152.6,89.67 153.1,90.07 153.6,90.52 154.1,91.34 154.6,91.29 155.1,91.95 155.6,92.41 156.1,92.69 156.6,92.91 157.1,93.83 157.6,94.18 158.1,94.59 158.6,95.04 159.1,95.51 159.6,95.75 160.1,96.52 160.6,96.46 161.1,97.37 161.6,97.47 162.1,98.21 162.6,98.93 163.1,99.13 163.6,99.51 164.1,100.18 164.6,100.4 165.1,100.77 165.6,101.17 166.1,102.04 166.6,102.22 167.1,102.56 167.6,102.53 168.1,103.36 168.6,103.26 169.1,104.07 169.6,104.03 170.1,105.15 170.6,104.59 171.1,105.65 171.6,105.87 172.1,105.54 172.6,106.22 173.1,106.93 173.6,107.13 174.1,106.71 174.6,107.26 175.1,107.36 175.6,107.65 176.1,108 176.6,108.86 177.1,108.67 177.6,108.81 178.1,109.01 178.6,109.48 179.1,109.69 179.6,109.49 180.1,110.29 180.6,109.83 181.1,110.21 181.6,110.56 182.1,111.04 182.6,110.69 183.1,111.01 183.6,111.42 184.1,111.4 184.6,111.67 185.1,111.79 185.6,111.73 186.1,111.94 186.6,112.12 187.1,111.99 187.6,112.48 188.1,111.66 188.6,111.99 189.1,112.64 189.6,112.44 190.1,112.22 190.6,112.53 191.1,112.75 191.6,112.39 192.1,112.76 192.6,112.57 193.1,112.61 193.6,112.66 194.1,112.98 194.6,112.45 195.1,112.66 195.6,112.94 196.1,112.48 196.6,112.41 197.1,112.96 197.6,112.83 198.1,112.81 198.6,112.89 199.1,112.63 199.6,113.61 200.1,112.65 200.6,112.8 201.1,112.56 201.6,112.82 202.1,113.32 202.6,112.95 203.1,113.1 203.6,112.84 204.1,113.42 204.6,113.01 205.1,112.66 205.6,113.17 206.1,112.89 206.6,113.14" fill="none" stroke="#00f" stroke-width="1.7" stroke-linejoin="round"/>
<polyline points="87.6,122.02 88.1,122.2 88.6,122.14 89.1,122.32 89.6,122.25 90.1,122.29 90.6,122.38 91.1,122.43 91.6,122.55 92.1,122.81 92.6,122.59 93.1,122.61 93.6,122.89 94.1,123.19 94.6,123.2 95.1,123.32 95.6,123.41 96.1,123.26 96.6,123.46 97.1,123.22 97.6,123.57 98.1,123.81 98.6,123.65 99.1,123.69 99.6,123.89 100.1,124.18 100.6,124.4 101.1,124.69 101.6,124.66 102.1,124.43 102.6,124.45 103.1,124.87 103.6,125.11 104.1,124.92 104.6,125.19 105.1,125.34 105.6,125.54 106.1,125.67 106.6,125.9 107.1,126.13 107.6,126.18 108.1,126.44 108.6,126.78 109.1,126.62 109.6,126.82 110.1,127.23 110.6,127.61 111.1,127.64 111.6,127.98 112.1,128.05 112.6,128.45 113.1,128.51 113.6,128.92 114.1,129.14 114.6,129.4 115.1,129.78 115.6,130.01 116.1,130.07 116.6,130.51 117.1,130.47 117.6,131.06 118.1,131.55 118.6,131.57 119.1,131.85 119.6,132.1 120.1,132.49 120.6,132.64 121.1,133.08 121.6,133.28 122.1,133.58 122.6,133.97 123.1,134.27 123.6,134.39 124.1,135.17 124.6,135.26 125.1,135.37 125.6,136.03 126.1,136.22 126.6,136.57 127.1,136.96 127.6,137.09 128.1,137.17 128.6,137.84 129.1,138.21 129.6,138.63 130.1,138.75 130.6,139.14 131.1,139.55 131.6,139.81 132.1,140.15 132.6,140.56 133.1,140.75 133.6,141.41 134.1,141.47 134.6,141.94 135.1,142.26 135.6,142.58 136.1,143.1 136.6,143.54 137.1,143.98 137.6,144.29 138.1,144.58 138.6,145.16 139.1,145.31 139.6,145.9 140.1,146.35 140.6,146.73 141.1,146.88 141.6,147.18 142.1,147.91 142.6,148.01 143.1,148.27 143.6,148.76 144.1,149.39 144.6,150.05 145.1,150.46 145.6,151.2 146.1,151.71 146.6,152.39 147.1,153.16 147.6,153.81 148.1,154.88 148.6,156.06 149.1,157.37 149.6,158.71 150.1,159.59 150.6,160.62 151.1,161.32 151.6,162.13 152.1,162.72 152.6,163.44 153.1,163.77 153.6,164.18 154.1,164.75 154.6,164.53 155.1,165.03 155.6,165.08 156.1,165.61 156.6,165.86 157.1,166.07 157.6,166.19 158.1,166.22 158.6,166.68 159.1,166.65 159.6,166.72 160.1,166.74 160.6,167.04 161.1,167.05 161.6,167.17 162.1,167.35 162.6,167.46 163.1,167.44 163.6,167.8 164.1,167.63 164.6,167.71 165.1,167.97 165.6,168.04 166.1,168.12 166.6,168.15 167.1,168.29 167.6,168.3 168.1,168.24 168.6,168.61 169.1,168.47 169.6,168.64 170.1,168.83 170.6,168.82 171.1,169.22 171.6,168.79 172.1,168.94 172.6,169.11 173.1,169.34 173.6,169.22 174.1,169.14 174.6,169.52 175.1,169.34 175.6,169.49 176.1,169.68 176.6,169.56 177.1,169.65 177.6,169.81 178.1,169.79 178.6,169.9 179.1,169.8 179.6,169.94 180.1,169.87 180.6,169.87 181.1,170.31 181.6,170.2 182.1,170.3 182.6,170.12 183.1,170.27 183.6,170.29 184.1,170.18 184.6,170.45 185.1,170.33 185.6,170.42 186.1,170.29 186.6,170.61 187.1,170.6 187.6,170.57 188.1,170.43 188.6,170.49 189.1,170.72 189.6,170.56 190.1,170.64 190.6,170.64 191.1,170.5 191.6,170.83 192.1,170.43 192.6,170.71 193.1,170.68 193.6,170.51 194.1,170.76 194.6,170.8 195.1,170.75 195.6,170.66 196.1,170.82 196.6,170.91 197.1,170.82 197.6,171.01 198.1,170.91 198.6,170.91 199.1,171 199.6,170.76 200.1,170.78 200.6,170.91 201.1,170.92 201.6,171.05 202.1,171.01 202.6,170.9 203.1,170.91 203.6,170.85 204.1,170.85 204.6,170.84 205.1,171.01 205.6,170.84 206.1,170.86 206.6,170.92" fill="none" stroke="#f00" stroke-width="1.7" stroke-linejoin="round"/>
<polyline points="87.6,156.58 88.1,156.66 88.6,156.19 89.1,156.85 89.6,156.7 90.1,156.85 90.6,156.91 91.1,156.38 91.6,157.46 92.1,156.92 92.6,156.95 93.1,156.48 93.6,157.11 94.1,157.08 94.6,156.91 95.1,157.09 95.6,157.37 96.1,156.99 96.6,156.88 97.1,157.46 97.6,157.22 98.1,157.13 98.6,157.78 99.1,157.27 99.6,157.21 100.1,157.35 100.6,157.2 101.1,157.38 101.6,157.39 102.1,157.22 102.6,157.34 103.1,157.51 103.6,157.55 104.1,157.63 104.6,157.71 105.1,157.6 105.6,157.7 106.1,157.5 106.6,157.56 107.1,157.91 107.6,157.18 108.1,157.8 108.6,158.52 109.1,157.3 109.6,158.17 110.1,157.38 110.6,157.94 111.1,158.29 111.6,158.28 112.1,157.71 112.6,157.65 113.1,157.64 113.6,158.21 114.1,157.97 114.6,158.1 115.1,158.2 115.6,158.27 116.1,158.34 116.6,158.27 117.1,157.87 117.6,158.67 118.1,157.66 118.6,158.69 119.1,158.26 119.6,158.4 120.1,158.36 120.6,158.43 121.1,158.56 121.6,158.53 122.1,158.37 122.6,158.89 123.1,158.57 123.6,159.09 124.1,158.76 124.6,158.66 125.1,158.99 125.6,159.14 126.1,158.73 126.6,158.93 127.1,159.4 127.6,158.83 128.1,158.91 128.6,159.21 129.1,158.91 129.6,158.64 130.1,158.88 130.6,159.44 131.1,159.55 131.6,159.59 132.1,159.58 132.6,159.22 133.1,159.75 133.6,159.91 134.1,159.5 134.6,159.96 135.1,159.68 135.6,159.87 136.1,159.97 136.6,159.56 137.1,160.35 137.6,159.83 138.1,160.07 138.6,160.03 139.1,160.32 139.6,160.37 140.1,160.33 140.6,160.73 141.1,160.51 141.6,160.4 142.1,159.85 142.6,160.56 143.1,160.63 143.6,160.55 144.1,160.63 144.6,161.06 145.1,161.25 145.6,161.54 146.1,161.43 146.6,161.05 147.1,161.38 147.6,161.06 148.1,161.68 148.6,161.68 149.1,161.54 149.6,161.77 150.1,161.84 150.6,161.85 151.1,162.45 151.6,163 152.1,162.54 152.6,162.71 153.1,162.6 153.6,162.58 154.1,163.33 154.6,162.8 155.1,163.1 155.6,163.08 156.1,163.37 156.6,163.31 157.1,163.58 157.6,163.23 158.1,163.63 158.6,164.11 159.1,163.62 159.6,163.82 160.1,164.45 160.6,164.31 161.1,164.59 161.6,163.87 162.1,164.58 162.6,164.33 163.1,164.4 163.6,164.95 164.1,165.25 164.6,164.68 165.1,164.87 165.6,165.1 166.1,165.31 166.6,165.11 167.1,166.1 167.6,165.78 168.1,165.63 168.6,165.69 169.1,166.49 169.6,166.57 170.1,165.98 170.6,166.28 171.1,166.61 171.6,166.09 172.1,166.33 172.6,166.91 173.1,166.5 173.6,166.66 174.1,166.52 174.6,166.76 175.1,167.22 175.6,166.93 176.1,166.91 176.6,167.17 177.1,167.87 177.6,167.57 178.1,167.48 178.6,167.76 179.1,167.94 179.6,167.96 180.1,167.59 180.6,168.23 181.1,168.21 181.6,168.6 182.1,168.16 182.6,168.89 183.1,168.62 183.6,168.43 184.1,169.3 184.6,168.95 185.1,169.27 185.6,169.24 186.1,169.65 186.6,169.73 187.1,169.81 187.6,169.79 188.1,169.28 188.6,169.33 189.1,169.88 189.6,169.66 190.1,170.09 190.6,170.08 191.1,169.75 191.6,169.9 192.1,169.93 192.6,170.04 193.1,170.26 193.6,170.52 194.1,170.71 194.6,170.15 195.1,170.27 195.6,170.82 196.1,170.67 196.6,170.51 197.1,169.87 197.6,170.22 198.1,170.53 198.6,170.35 199.1,171.01 199.6,170.55 200.1,170.6 200.6,170.26 201.1,170.29 201.6,170.39 202.1,170.41 202.6,170.51 203.1,170.67 203.6,170.64 204.1,170.84 204.6,170.25 205.1,170.65 205.6,170.66 206.1,171 206.6,170.54" fill="none" stroke="#00f" stroke-width="1.7" stroke-linejoin="round"/>
<polyline points="87.6,178.53 88.1,178.43 88.6,178.54 89.1,178.54 89.6,178.47 90.1,178.49 90.6,178.53 91.1,178.6 91.6,178.47 92.1,178.65 92.6,178.57 93.1,178.77 93.6,178.76 94.1,178.63 94.6,178.63 95.1,178.91 95.6,178.78 96.1,178.81 96.6,178.75 97.1,178.81 97.6,178.91 98.1,178.93 98.6,178.84 99.1,179.04 99.6,179.01 100.1,178.97 100.6,179.19 101.1,179.16 101.6,179.32 102.1,179.3 102.6,179.46 103.1,179.4 103.6,179.66 104.1,179.61 104.6,179.86 105.1,179.76 105.6,180.07 106.1,180.26 106.6,180.36 107.1,180.55 107.6,180.49 108.1,180.83 108.6,180.97 109.1,180.87 109.6,181.03 110.1,181.18 110.6,181.36 111.1,181.51 111.6,181.44 112.1,181.84 112.6,181.93 113.1,182.03 113.6,182.36 114.1,182.42 114.6,182.72 115.1,182.85 115.6,182.97 116.1,183.27 116.6,183.43 117.1,183.52 117.6,183.63 118.1,183.91 118.6,184.21 119.1,184.34 119.6,184.71 120.1,184.8 120.6,185 121.1,185.22 121.6,185.33 122.1,185.6 122.6,185.77 123.1,185.85 123.6,186.12 124.1,186.55 124.6,186.69 125.1,186.94 125.6,187.07 126.1,187.38 126.6,187.73 127.1,187.92 127.6,188.12 128.1,188.54 128.6,188.67 129.1,188.9 129.6,189.28 130.1,189.32 130.6,189.77 131.1,189.9 131.6,190.2 132.1,190.49 132.6,190.83 133.1,191.11 133.6,191.41 134.1,191.69 134.6,192.09 135.1,192.41 135.6,192.64 136.1,192.96 136.6,193.19 137.1,193.45 137.6,193.92 138.1,194.2 138.6,194.61 139.1,194.73 139.6,195.44 140.1,195.47 140.6,195.93 141.1,196.37 141.6,196.55 142.1,197 142.6,197.26 143.1,197.7 143.6,198.05 144.1,198.61 144.6,199.02 145.1,199.38 145.6,199.91 146.1,200.34 146.6,200.65 147.1,201.05 147.6,201.47 148.1,201.88 148.6,202.45 149.1,202.78 149.6,203.16 150.1,203.58 150.6,204.05 151.1,204.38 151.6,204.84 152.1,205.21 152.6,205.73 153.1,206.12 153.6,206.32 154.1,206.84 154.6,207.33 155.1,207.67 155.6,208.21 156.1,208.63 156.6,209.12 157.1,209.55 157.6,210.08 158.1,210.61 158.6,210.96 159.1,211.53 159.6,212.07 160.1,212.86 160.6,213.32 161.1,213.89 161.6,214.41 162.1,214.85 162.6,215.32 163.1,215.91 163.6,216.26 164.1,216.83 164.6,217.08 165.1,217.4 165.6,217.67 166.1,217.97 166.6,218.24 167.1,218.6 167.6,218.89 168.1,218.82 168.6,219.12 169.1,219.33 169.6,219.35 170.1,219.52 170.6,219.66 171.1,219.63 171.6,220 172.1,220.07 172.6,220.19 173.1,220.33 173.6,220.48 174.1,220.77 174.6,220.73 175.1,220.91 175.6,220.93 176.1,221.12 176.6,221.2 177.1,221.33 177.6,221.4 178.1,221.54 178.6,221.76 179.1,221.91 179.6,222 180.1,222.03 180.6,222.24 181.1,222.14 181.6,222.56 182.1,222.63 182.6,222.82 183.1,223.06 183.6,223.12 184.1,223.42 184.6,223.51 185.1,223.79 185.6,223.93 186.1,224.2 186.6,224.52 187.1,224.59 187.6,224.84 188.1,225.12 188.6,225.43 189.1,225.89 189.6,225.9 190.1,226.06 190.6,226.46 191.1,226.69 191.6,227.09 192.1,227.49 192.6,227.79 193.1,228.21 193.6,228.5 194.1,229.03 194.6,229.26 195.1,229.65 195.6,229.83 196.1,229.85 196.6,230.04 197.1,230.17 197.6,230.27 198.1,230.08 198.6,230.22 199.1,230.39 199.6,230.24 200.1,230.27 200.6,230.26 201.1,230.17 201.6,230.35 202.1,230.3 202.6,230.3 203.1,230.35 203.6,230.36 204.1,230.14 204.6,230.34 205.1,230.25 205.6,230.31 206.1,230.25 206.6,230.23" fill="none" stroke="#f00" stroke-width="1.7" stroke-linejoin="round"/>
<polyline points="87.6,219.98 88.1,219.88 88.6,219.84 89.1,219.83 89.6,219.84 90.1,219.81 90.6,219.61 91.1,219.72 91.6,219.75 92.1,219.82 92.6,219.86 93.1,219.66 93.6,219.88 94.1,219.72 94.6,219.74 95.1,219.65 95.6,219.64 96.1,219.8 96.6,219.66 97.1,219.66 97.6,219.75 98.1,219.79 98.6,219.53 99.1,219.63 99.6,219.64 100.1,219.78 100.6,219.83 101.1,219.62 101.6,219.65 102.1,219.69 102.6,219.71 103.1,219.59 103.6,219.68 104.1,219.56 104.6,219.4 105.1,219.5 105.6,219.63 106.1,219.67 106.6,219.43 107.1,219.46 107.6,219.61 108.1,219.34 108.6,219.65 109.1,219.69 109.6,219.37 110.1,219.67 110.6,219.59 111.1,219.73 111.6,219.64 112.1,219.6 112.6,219.64 113.1,219.71 113.6,219.66 114.1,219.66 114.6,219.55 115.1,219.72 115.6,219.7 116.1,219.86 116.6,219.72 117.1,219.73 117.6,219.71 118.1,219.83 118.6,219.78 119.1,219.76 119.6,219.96 120.1,219.99 120.6,219.83 121.1,219.81 121.6,220 122.1,219.87 122.6,220.19 123.1,219.98 123.6,220.1 124.1,219.96 124.6,220.1 125.1,220.23 125.6,220.22 126.1,220.19 126.6,220.48 127.1,220.39 127.6,220.37 128.1,220.39 128.6,220.47 129.1,220.66 129.6,220.54 130.1,220.67 130.6,220.66 131.1,220.88 131.6,220.83 132.1,220.97 132.6,221 133.1,220.97 133.6,221.13 134.1,221.2 134.6,221.1 135.1,221.31 135.6,221.6 136.1,221.35 136.6,221.49 137.1,221.4 137.6,221.61 138.1,221.6 138.6,221.78 139.1,221.78 139.6,221.76 140.1,222.02 140.6,221.99 141.1,222 141.6,222.16 142.1,222.15 142.6,222.34 143.1,222.37 143.6,222.43 144.1,222.59 144.6,222.51 145.1,222.77 145.6,222.61 146.1,222.99 146.6,222.95 147.1,223 147.6,223.05 148.1,223.25 148.6,223.28 149.1,223.37 149.6,223.56 150.1,223.53 150.6,223.64 151.1,223.79 151.6,223.93 152.1,223.93 152.6,224.05 153.1,224.14 153.6,224.29 154.1,224.44 154.6,224.34 155.1,224.5 155.6,224.6 156.1,224.74 156.6,224.91 157.1,224.88 157.6,224.98 158.1,225.15 158.6,225.04 159.1,225.17 159.6,225.28 160.1,225.4 160.6,225.51 161.1,225.53 161.6,225.8 162.1,225.69 162.6,225.82 163.1,226.01 163.6,226.07 164.1,226.09 164.6,226.21 165.1,226.33 165.6,226.35 166.1,226.48 166.6,226.44 167.1,226.61 167.6,226.55 168.1,226.7 168.6,226.76 169.1,227.04 169.6,226.98 170.1,227.12 170.6,227.11 171.1,227.24 171.6,227.32 172.1,227.35 172.6,227.57 173.1,227.44 173.6,227.71 174.1,227.95 174.6,227.74 175.1,227.88 175.6,227.83 176.1,228.03 176.6,227.96 177.1,228.22 177.6,228.2 178.1,228.16 178.6,228.27 179.1,228.32 179.6,228.5 180.1,228.67 180.6,228.64 181.1,228.65 181.6,228.76 182.1,228.91 182.6,228.78 183.1,229.1 183.6,229.16 184.1,229 184.6,229.37 185.1,229.21 185.6,229.39 186.1,229.57 186.6,229.4 187.1,229.44 187.6,229.56 188.1,229.61 188.6,229.73 189.1,229.74 189.6,229.78 190.1,229.81 190.6,229.86 191.1,229.83 191.6,229.93 192.1,229.92 192.6,229.85 193.1,230.09 193.6,229.85 194.1,230.02 194.6,229.91 195.1,230.01 195.6,230.03 196.1,230.07 196.6,230.13 197.1,229.95 197.6,230.26 198.1,230.07 198.6,229.98 199.1,229.94 199.6,230.25 200.1,230.2 200.6,230.07 201.1,230.14 201.6,230.19 202.1,230.09 202.6,230.05 203.1,230.09 203.6,230.16 204.1,230.1 204.6,230 205.1,230.16 205.6,229.96 206.1,230.04 206.6,230.21" fill="none" stroke="#00f" stroke-width="1.7" stroke-linejoin="round"/>
<text x="159.7" y="9.3" font-size="6.6" font-weight="bold" fill="#000">L<tspan font-size="4.09" dy="1.7">2</tspan><tspan dy="-1.7">/S</tspan><tspan font-size="4.09" dy="1.7">10</tspan></text>
<line x1="157.6" y1="16.7" x2="173.2" y2="16.7" stroke="#f00" stroke-width="1.3"/>
<circle cx="165.4" cy="16.7" r="0.9" fill="#f00"/>
<line x1="157.6" y1="24.8" x2="173.2" y2="24.8" stroke="#00f" stroke-width="1.3"/>
<circle cx="165.4" cy="24.8" r="0.9" fill="#00f"/>
<text x="175.9" y="19.15" font-size="6.8" font-weight="bold" fill="#f00">IP</text>
<text x="174.6" y="27.25" font-size="6.8" font-weight="bold" fill="#00f">OP</text>
<text x="159.7" y="67.9" font-size="6.6" font-weight="bold" fill="#000">L<tspan font-size="4.09" dy="1.7">4</tspan><tspan dy="-1.7">/S</tspan><tspan font-size="4.09" dy="1.7">10</tspan></text>
<line x1="157.6" y1="75" x2="173.2" y2="75" stroke="#f00" stroke-width="1.3"/>
<circle cx="165.4" cy="75" r="0.9" fill="#f00"/>
<line x1="157.6" y1="82.5" x2="173.2" y2="82.5" stroke="#00f" stroke-width="1.3"/>
<circle cx="165.4" cy="82.5" r="0.9" fill="#00f"/>
<text x="175.9" y="77.45" font-size="6.8" font-weight="bold" fill="#f00">IP</text>
<text x="174.6" y="84.95" font-size="6.8" font-weight="bold" fill="#00f">OP</text>
<text x="159.7" y="125.9" font-size="6.6" font-weight="bold" fill="#000">L<tspan font-size="4.09" dy="1.7">6</tspan><tspan dy="-1.7">/S</tspan><tspan font-size="4.09" dy="1.7">10</tspan></text>
<line x1="157.6" y1="132.8" x2="173.2" y2="132.8" stroke="#f00" stroke-width="1.3"/>
<circle cx="165.4" cy="132.8" r="0.9" fill="#f00"/>
<line x1="157.6" y1="140.7" x2="173.2" y2="140.7" stroke="#00f" stroke-width="1.3"/>
<circle cx="165.4" cy="140.7" r="0.9" fill="#00f"/>
<text x="175.9" y="135.25" font-size="6.8" font-weight="bold" fill="#f00">IP</text>
<text x="174.6" y="143.15" font-size="6.8" font-weight="bold" fill="#00f">OP</text>
<text x="159.7" y="183.3" font-size="6.6" font-weight="bold" fill="#000">L<tspan font-size="4.09" dy="1.7">20</tspan><tspan dy="-1.7">/S</tspan><tspan font-size="4.09" dy="1.7">10</tspan></text>
<line x1="157.6" y1="190" x2="173.2" y2="190" stroke="#f00" stroke-width="1.3"/>
<circle cx="165.4" cy="190" r="0.9" fill="#f00"/>
<line x1="157.6" y1="198.9" x2="173.2" y2="198.9" stroke="#00f" stroke-width="1.3"/>
<circle cx="165.4" cy="198.9" r="0.9" fill="#00f"/>
<text x="175.9" y="192.45" font-size="6.8" font-weight="bold" fill="#f00">IP</text>
<text x="174.6" y="201.35" font-size="6.8" font-weight="bold" fill="#00f">OP*5</text>
<text x="101.6" y="45.0" font-size="6.3" font-weight="bold" fill="#000">H=20 Oe</text>
<text x="178.8" y="38.3" font-size="6.6" font-style="italic" font-weight="bold" fill="#f00" stroke="#f00" stroke-width="0.25">T<tspan font-size="3.96" dy="1.9" font-style="normal">C-s</tspan></text>
<line x1="180.5" y1="41.2" x2="177.56" y2="47.07" stroke="#f00" stroke-width="1.1"/><polygon points="176.4,49.4 176.27,45.87 179.31,47.39" fill="#f00"/>
<text x="194" y="98.4" font-size="6.6" font-style="italic" font-weight="bold" fill="#f00" stroke="#f00" stroke-width="0.25">T<tspan font-size="3.96" dy="1.9" font-style="normal">C-s</tspan></text>
<line x1="196.6" y1="102.6" x2="194.2" y2="108.4" stroke="#f00" stroke-width="1.1"/><polygon points="193.2,110.8 192.82,107.29 195.96,108.59" fill="#f00"/>
<text x="163.2" y="154" font-size="6.6" font-style="italic" font-weight="bold" fill="#0a0" stroke="#0a0" stroke-width="0.25">T<tspan font-size="3.96" dy="1.9" font-style="normal">C-f</tspan></text>
<line x1="164.2" y1="153" x2="157.47" y2="161.01" stroke="#1a9a1a" stroke-width="1.1"/><polygon points="155.8,163 156.49,159.53 159.1,161.72" fill="#1a9a1a"/>
<text x="194.6" y="158" font-size="6.6" font-style="italic" font-weight="bold" fill="#f00" stroke="#f00" stroke-width="0.25">T<tspan font-size="3.96" dy="1.9" font-style="normal">C-s</tspan></text>
<line x1="197.2" y1="160.8" x2="194.34" y2="166.66" stroke="#f00" stroke-width="1.1"/><polygon points="193.2,169 193.03,165.47 196.09,166.96" fill="#f00"/>
<text x="173.1" y="207.9" font-size="6.6" font-style="italic" font-weight="bold" fill="#1a9a1a" stroke="#1a9a1a" stroke-width="0.25">T<tspan font-size="3.96" dy="1.9" font-style="normal">C-f</tspan></text>
<line x1="175.4" y1="209.8" x2="173.33" y2="215.17" stroke="#1a9a1a" stroke-width="1.1"/><polygon points="172.4,217.6 171.93,214.1 175.1,215.32" fill="#1a9a1a"/>
<text x="195" y="219.3" font-size="6.6" font-style="italic" font-weight="bold" fill="#f00" stroke="#f00" stroke-width="0.25">T<tspan font-size="3.96" dy="1.9" font-style="normal">C-s</tspan></text>
<line x1="201" y1="221.2" x2="198.25" y2="227.42" stroke="#f00" stroke-width="1.1"/><polygon points="197.2,229.8 196.9,226.28 200.01,227.65" fill="#f00"/>
<text transform="translate(87.1,240.9) scale(0.9,1)" text-anchor="middle" font-size="7.0" fill="#111">0</text>
<text transform="translate(104.27,240.9) scale(0.9,1)" text-anchor="middle" font-size="7.0" fill="#111">50</text>
<text transform="translate(121.44,240.9) scale(0.9,1)" text-anchor="middle" font-size="7.0" fill="#111">100</text>
<text transform="translate(138.61,240.9) scale(0.9,1)" text-anchor="middle" font-size="7.0" fill="#111">150</text>
<text transform="translate(155.79,240.9) scale(0.9,1)" text-anchor="middle" font-size="7.0" fill="#111">200</text>
<text transform="translate(172.96,240.9) scale(0.9,1)" text-anchor="middle" font-size="7.0" fill="#111">250</text>
<text transform="translate(190.13,240.9) scale(0.9,1)" text-anchor="middle" font-size="7.0" fill="#111">300</text>
<text transform="translate(207.3,240.9) scale(0.9,1)" text-anchor="middle" font-size="7.0" fill="#111">350</text>
<text x="135.4" y="249.9" font-size="9.1" fill="#000" stroke="#000" stroke-width="0.3"><tspan font-weight="bold" stroke-width="0.15">T</tspan> (K)</text>
<text transform="translate(70.9,157.8) rotate(-90)" font-size="8.4" fill="#000" stroke="#000" stroke-width="0.12">Monnent (10<tspan font-size="5.9" dy="-3.2">-6</tspan><tspan dy="3.2"> emu)</tspan></text>
</g>
<g font-family='"Liberation Sans", Arial, sans-serif'>
<rect x="249.7" y="116.4" width="120.8" height="58.3" fill="none" stroke="#1a1a1a" stroke-width="1.1"/>
<line x1="250" y1="174.7" x2="250" y2="172.7" stroke="#1a1a1a" stroke-width="0.9"/>
<line x1="250" y1="116.4" x2="250" y2="118.4" stroke="#1a1a1a" stroke-width="0.9"/>
<line x1="265" y1="174.7" x2="265" y2="173.4" stroke="#1a1a1a" stroke-width="0.9"/>
<line x1="265" y1="116.4" x2="265" y2="117.7" stroke="#1a1a1a" stroke-width="0.9"/>
<line x1="280" y1="174.7" x2="280" y2="172.7" stroke="#1a1a1a" stroke-width="0.9"/>
<line x1="280" y1="116.4" x2="280" y2="118.4" stroke="#1a1a1a" stroke-width="0.9"/>
<line x1="295" y1="174.7" x2="295" y2="173.4" stroke="#1a1a1a" stroke-width="0.9"/>
<line x1="295" y1="116.4" x2="295" y2="117.7" stroke="#1a1a1a" stroke-width="0.9"/>
<line x1="310" y1="174.7" x2="310" y2="172.7" stroke="#1a1a1a" stroke-width="0.9"/>
<line x1="310" y1="116.4" x2="310" y2="118.4" stroke="#1a1a1a" stroke-width="0.9"/>
<line x1="325" y1="174.7" x2="325" y2="173.4" stroke="#1a1a1a" stroke-width="0.9"/>
<line x1="325" y1="116.4" x2="325" y2="117.7" stroke="#1a1a1a" stroke-width="0.9"/>
<line x1="340" y1="174.7" x2="340" y2="172.7" stroke="#1a1a1a" stroke-width="0.9"/>
<line x1="340" y1="116.4" x2="340" y2="118.4" stroke="#1a1a1a" stroke-width="0.9"/>
<line x1="355" y1="174.7" x2="355" y2="173.4" stroke="#1a1a1a" stroke-width="0.9"/>
<line x1="355" y1="116.4" x2="355" y2="117.7" stroke="#1a1a1a" stroke-width="0.9"/>
<line x1="370" y1="174.7" x2="370" y2="172.7" stroke="#1a1a1a" stroke-width="0.9"/>
<line x1="370" y1="116.4" x2="370" y2="118.4" stroke="#1a1a1a" stroke-width="0.9"/>
<line x1="249.7" y1="121" x2="251.5" y2="121" stroke="#1a1a1a" stroke-width="0.9"/>
<line x1="249.7" y1="145.3" x2="251.5" y2="145.3" stroke="#1a1a1a" stroke-width="0.9"/>
<line x1="249.7" y1="169.6" x2="251.5" y2="169.6" stroke="#1a1a1a" stroke-width="0.9"/>
<line x1="249.7" y1="133.15" x2="251.5" y2="133.15" stroke="#1a1a1a" stroke-width="0.9"/>
<line x1="249.7" y1="157.45" x2="251.5" y2="157.45" stroke="#1a1a1a" stroke-width="0.9"/>
<text transform="translate(247.6,123.75) scale(0.92,1)" text-anchor="end" font-size="7.6" fill="#111">1</text>
<text transform="translate(247.6,148.05) scale(0.92,1)" text-anchor="end" font-size="7.6" fill="#111">0</text>
<text transform="translate(247.6,172.35) scale(0.92,1)" text-anchor="end" font-size="7.6" fill="#111">-1</text>
<rect x="249.7" y="174.7" width="120.8" height="57.7" fill="none" stroke="#1a1a1a" stroke-width="1.1"/>
<line x1="250" y1="232.4" x2="250" y2="230.4" stroke="#1a1a1a" stroke-width="0.9"/>
<line x1="250" y1="174.7" x2="250" y2="176.7" stroke="#1a1a1a" stroke-width="0.9"/>
<line x1="265" y1="232.4" x2="265" y2="231.1" stroke="#1a1a1a" stroke-width="0.9"/>
<line x1="265" y1="174.7" x2="265" y2="176" stroke="#1a1a1a" stroke-width="0.9"/>
<line x1="280" y1="232.4" x2="280" y2="230.4" stroke="#1a1a1a" stroke-width="0.9"/>
<line x1="280" y1="174.7" x2="280" y2="176.7" stroke="#1a1a1a" stroke-width="0.9"/>
<line x1="295" y1="232.4" x2="295" y2="231.1" stroke="#1a1a1a" stroke-width="0.9"/>
<line x1="295" y1="174.7" x2="295" y2="176" stroke="#1a1a1a" stroke-width="0.9"/>
<line x1="310" y1="232.4" x2="310" y2="230.4" stroke="#1a1a1a" stroke-width="0.9"/>
<line x1="310" y1="174.7" x2="310" y2="176.7" stroke="#1a1a1a" stroke-width="0.9"/>
<line x1="325" y1="232.4" x2="325" y2="231.1" stroke="#1a1a1a" stroke-width="0.9"/>
<line x1="325" y1="174.7" x2="325" y2="176" stroke="#1a1a1a" stroke-width="0.9"/>
<line x1="340" y1="232.4" x2="340" y2="230.4" stroke="#1a1a1a" stroke-width="0.9"/>
<line x1="340" y1="174.7" x2="340" y2="176.7" stroke="#1a1a1a" stroke-width="0.9"/>
<line x1="355" y1="232.4" x2="355" y2="231.1" stroke="#1a1a1a" stroke-width="0.9"/>
<line x1="355" y1="174.7" x2="355" y2="176" stroke="#1a1a1a" stroke-width="0.9"/>
<line x1="370" y1="232.4" x2="370" y2="230.4" stroke="#1a1a1a" stroke-width="0.9"/>
<line x1="370" y1="174.7" x2="370" y2="176.7" stroke="#1a1a1a" stroke-width="0.9"/>
<line x1="249.7" y1="177.6" x2="251.5" y2="177.6" stroke="#1a1a1a" stroke-width="0.9"/>
<line x1="249.7" y1="190.7" x2="251.5" y2="190.7" stroke="#1a1a1a" stroke-width="0.9"/>
<line x1="249.7" y1="203.8" x2="251.5" y2="203.8" stroke="#1a1a1a" stroke-width="0.9"/>
<line x1="249.7" y1="216.9" x2="251.5" y2="216.9" stroke="#1a1a1a" stroke-width="0.9"/>
<line x1="249.7" y1="230" x2="251.5" y2="230" stroke="#1a1a1a" stroke-width="0.9"/>
<line x1="249.7" y1="223.45" x2="251.5" y2="223.45" stroke="#1a1a1a" stroke-width="0.9"/>
<line x1="249.7" y1="210.35" x2="251.5" y2="210.35" stroke="#1a1a1a" stroke-width="0.9"/>
<line x1="249.7" y1="197.25" x2="251.5" y2="197.25" stroke="#1a1a1a" stroke-width="0.9"/>
<line x1="249.7" y1="184.15" x2="251.5" y2="184.15" stroke="#1a1a1a" stroke-width="0.9"/>
<text transform="translate(247.6,180.35) scale(0.92,1)" text-anchor="end" font-size="7.6" fill="#111">4</text>
<text transform="translate(247.6,193.45) scale(0.92,1)" text-anchor="end" font-size="7.6" fill="#111">2</text>
<text transform="translate(247.6,206.55) scale(0.92,1)" text-anchor="end" font-size="7.6" fill="#111">0</text>
<text transform="translate(247.6,219.65) scale(0.92,1)" text-anchor="end" font-size="7.6" fill="#111">-2</text>
<text transform="translate(247.6,232.75) scale(0.92,1)" text-anchor="end" font-size="7.6" fill="#111">-4</text>
<text transform="translate(250,239.5) scale(0.92,1)" text-anchor="middle" font-size="7.0" fill="#111">-8</text>
<text transform="translate(280,239.5) scale(0.92,1)" text-anchor="middle" font-size="7.0" fill="#111">-4</text>
<text transform="translate(310,239.5) scale(0.92,1)" text-anchor="middle" font-size="7.0" fill="#111">0</text>
<text transform="translate(340,239.5) scale(0.92,1)" text-anchor="middle" font-size="7.0" fill="#111">4</text>
<text transform="translate(370,239.5) scale(0.92,1)" text-anchor="middle" font-size="7.0" fill="#111">8</text>
<text x="310.2" y="248.3" text-anchor="middle" font-size="8.8" fill="#000" stroke="#000" stroke-width="0.3"><tspan font-weight="bold" stroke-width="0.1">H</tspan> (KOe)</text>
<text transform="translate(235.0,213.9) rotate(-90)" font-size="8.25" fill="#000" stroke="#000" stroke-width="0.12">Magnetization (μ<tspan font-size="5.0" dy="1.7">B</tspan><tspan dy="-1.7">/Mn)</tspan></text>
<clipPath id="cpT"><rect x="249.7" y="116.4" width="120.80000000000001" height="58.29999999999998"/></clipPath>
<clipPath id="cpB"><rect x="249.7" y="174.7" width="120.80000000000001" height="57.70000000000002"/></clipPath>
<g clip-path="url(#cpT)">
<polyline points="250,165.4 250.64,165.18 251.28,164.95 251.91,164.73 252.55,164.51 253.19,164.29 253.83,164.07 254.47,163.86 255.1,163.64 255.74,163.42 256.38,163.2 257.02,162.98 257.66,162.76 258.3,162.53 258.93,162.31 259.57,162.09 260.21,161.86 260.85,161.63 261.49,161.4 262.12,161.17 262.76,160.94 263.4,160.7 264.04,160.46 264.68,160.22 265.31,159.98 265.95,159.73 266.59,159.48 267.23,159.23 267.87,158.98 268.5,158.73 269.14,158.48 269.78,158.22 270.42,157.97 271.06,157.71 271.7,157.45 272.33,157.2 272.97,156.94 273.61,156.68 274.25,156.42 274.89,156.17 275.52,155.91 276.16,155.66 276.8,155.4 277.44,155.14 278.08,154.89 278.72,154.63 279.35,154.37 279.99,154.11 280.63,153.85 281.27,153.59 281.91,153.33 282.55,153.07 283.19,152.81 283.83,152.54 284.46,152.28 285.1,152.03 285.74,151.77 286.38,151.51 287.02,151.25 287.65,151 288.29,150.75 288.93,150.5 289.56,150.25 290.2,150 290.84,149.75 291.5,149.5 292.16,149.24 292.84,148.99 293.52,148.73 294.21,148.47 294.89,148.21 295.58,147.95 296.26,147.69 296.94,147.44 297.62,147.19 298.28,146.94 298.93,146.7 299.57,146.47 300.2,146.24 300.81,146.03 301.39,145.82 301.96,145.62 302.5,145.44 303.01,145.26 303.5,145.1 304.39,144.83 305.12,144.65 305.73,144.53 306.26,144.45 306.74,144.39 307.23,144.33 307.76,144.23 308.37,144.07 309.1,143.84 310,143.5 310.47,143.31 310.96,143.09 311.48,142.86 312.02,142.61 312.58,142.35 313.16,142.07 313.75,141.78 314.36,141.48 314.99,141.18 315.62,140.86 316.27,140.54 316.92,140.21 317.58,139.88 318.24,139.56 318.9,139.23 319.56,138.9 320.22,138.58 320.87,138.27 321.52,137.96 322.16,137.66 322.78,137.37 323.4,137.1 324.04,136.82 324.68,136.54 325.31,136.27 325.95,135.99 326.59,135.72 327.23,135.45 327.87,135.19 328.5,134.92 329.14,134.66 329.78,134.4 330.42,134.14 331.06,133.88 331.7,133.63 332.33,133.38 332.97,133.13 333.61,132.89 334.25,132.65 334.89,132.4 335.52,132.17 336.16,131.93 336.8,131.7 337.44,131.47 338.08,131.24 338.72,131.02 339.35,130.79 339.99,130.57 340.63,130.35 341.27,130.14 341.91,129.92 342.55,129.71 343.19,129.5 343.83,129.3 344.46,129.09 345.1,128.89 345.74,128.7 346.38,128.5 347.02,128.31 347.65,128.12 348.29,127.94 348.93,127.75 349.56,127.58 350.2,127.4 350.88,127.22 351.56,127.04 352.27,126.86 352.98,126.69 353.69,126.52 354.41,126.35 355.13,126.19 355.85,126.03 356.57,125.87 357.28,125.72 357.98,125.57 358.67,125.42 359.35,125.28 360.01,125.14 360.66,125.01 361.28,124.88 361.87,124.75 362.45,124.63 362.99,124.51 363.5,124.4 364.52,124.17 365.4,123.98 366.17,123.81 366.86,123.67 367.48,123.53 368.09,123.41 368.69,123.28 369.32,123.15 370,123" fill="none" stroke="#f00" stroke-width="1.3" stroke-linejoin="round"/><circle cx="250" cy="165.4" r="0.7" fill="#f00"/><circle cx="253.78" cy="164.09" r="0.7" fill="#f00"/><circle cx="257.56" cy="162.79" r="0.7" fill="#f00"/><circle cx="261.33" cy="161.46" r="0.7" fill="#f00"/><circle cx="265.08" cy="160.06" r="0.7" fill="#f00"/><circle cx="268.81" cy="158.61" r="0.7" fill="#f00"/><circle cx="272.52" cy="157.12" r="0.7" fill="#f00"/><circle cx="276.23" cy="155.63" r="0.7" fill="#f00"/><circle cx="279.94" cy="154.13" r="0.7" fill="#f00"/><circle cx="283.65" cy="152.62" r="0.7" fill="#f00"/><circle cx="287.35" cy="151.12" r="0.7" fill="#f00"/><circle cx="291.08" cy="149.66" r="0.7" fill="#f00"/><circle cx="294.82" cy="148.24" r="0.7" fill="#f00"/><circle cx="298.56" cy="146.84" r="0.7" fill="#f00"/><circle cx="302.33" cy="145.49" r="0.7" fill="#f00"/><circle cx="306.19" cy="144.46" r="0.7" fill="#f00"/><circle cx="310.05" cy="143.48" r="0.7" fill="#f00"/><circle cx="313.68" cy="141.82" r="0.7" fill="#f00"/><circle cx="317.27" cy="140.04" r="0.7" fill="#f00"/><circle cx="320.86" cy="138.27" r="0.7" fill="#f00"/><circle cx="324.5" cy="136.62" r="0.7" fill="#f00"/><circle cx="328.18" cy="135.06" r="0.7" fill="#f00"/><circle cx="331.89" cy="133.56" r="0.7" fill="#f00"/><circle cx="335.63" cy="132.13" r="0.7" fill="#f00"/><circle cx="339.39" cy="130.78" r="0.7" fill="#f00"/><circle cx="343.18" cy="129.5" r="0.7" fill="#f00"/><circle cx="347" cy="128.31" r="0.7" fill="#f00"/><circle cx="350.85" cy="127.23" r="0.7" fill="#f00"/><circle cx="354.74" cy="126.28" r="0.7" fill="#f00"/><circle cx="358.64" cy="125.43" r="0.7" fill="#f00"/><circle cx="362.56" cy="124.61" r="0.7" fill="#f00"/><circle cx="366.47" cy="123.75" r="0.7" fill="#f00"/>
<polyline points="250,167.4 250.67,167.2 251.34,167 252.01,166.81 252.68,166.61 253.35,166.42 254.02,166.23 254.69,166.04 255.36,165.84 256.03,165.65 256.7,165.46 257.37,165.26 258.04,165.06 258.71,164.87 259.38,164.67 260.05,164.46 260.72,164.26 261.39,164.05 262.06,163.84 262.73,163.62 263.4,163.4 264.04,163.19 264.68,162.97 265.31,162.75 265.95,162.53 266.59,162.3 267.23,162.07 267.87,161.84 268.5,161.61 269.14,161.37 269.78,161.14 270.42,160.9 271.06,160.66 271.7,160.42 272.33,160.18 272.97,159.94 273.61,159.7 274.25,159.46 274.89,159.22 275.52,158.98 276.16,158.74 276.8,158.5 277.44,158.26 278.08,158.02 278.72,157.78 279.35,157.55 279.99,157.31 280.63,157.07 281.27,156.83 281.91,156.59 282.55,156.34 283.19,156.1 283.83,155.86 284.46,155.62 285.1,155.37 285.74,155.13 286.38,154.88 287.02,154.64 287.65,154.39 288.29,154.15 288.93,153.9 289.56,153.65 290.2,153.4 290.84,153.15 291.5,152.88 292.16,152.61 292.84,152.33 293.52,152.05 294.21,151.77 294.89,151.48 295.58,151.19 296.26,150.9 296.94,150.62 297.62,150.33 298.28,150.06 298.93,149.79 299.57,149.52 300.2,149.27 300.81,149.02 301.39,148.79 301.96,148.57 302.5,148.36 303.01,148.17 303.5,148 304.39,147.71 305.12,147.52 305.73,147.41 306.26,147.34 306.74,147.29 307.23,147.24 307.76,147.17 308.37,147.03 309.1,146.82 310,146.5 310.47,146.32 310.96,146.12 311.48,145.9 312.02,145.67 312.58,145.42 313.16,145.17 313.75,144.9 314.36,144.62 314.99,144.33 315.62,144.03 316.27,143.73 316.92,143.43 317.58,143.12 318.24,142.8 318.9,142.49 319.56,142.18 320.22,141.87 320.87,141.57 321.52,141.26 322.16,140.97 322.78,140.68 323.4,140.4 324.01,140.12 324.62,139.85 325.23,139.57 325.84,139.29 326.45,139 327.05,138.72 327.66,138.44 328.27,138.16 328.88,137.87 329.49,137.59 330.1,137.31 330.71,137.03 331.32,136.76 331.93,136.48 332.54,136.21 333.15,135.94 333.75,135.67 334.36,135.41 334.97,135.15 335.58,134.9 336.19,134.65 336.8,134.4 337.44,134.15 338.08,133.9 338.72,133.65 339.35,133.41 339.99,133.18 340.63,132.94 341.27,132.71 341.91,132.48 342.55,132.26 343.19,132.04 343.83,131.82 344.46,131.6 345.1,131.38 345.74,131.17 346.38,130.95 347.02,130.74 347.65,130.53 348.29,130.32 348.93,130.11 349.56,129.91 350.2,129.7 350.88,129.48 351.56,129.26 352.27,129.04 352.98,128.82 353.69,128.6 354.41,128.38 355.13,128.16 355.85,127.94 356.57,127.72 357.28,127.51 357.98,127.3 358.67,127.1 359.35,126.9 360.01,126.71 360.66,126.52 361.28,126.34 361.87,126.17 362.45,126 362.99,125.85 363.5,125.7 364.43,125.44 365.24,125.21 365.95,125.02 366.59,124.85 367.18,124.71 367.73,124.57 368.26,124.44 368.81,124.3 369.38,124.16 370,124" fill="none" stroke="#f00" stroke-width="1.3" stroke-linejoin="round"/><circle cx="250" cy="167.4" r="0.7" fill="#f00"/><circle cx="253.84" cy="166.28" r="0.7" fill="#f00"/><circle cx="257.68" cy="165.17" r="0.7" fill="#f00"/><circle cx="261.51" cy="164.01" r="0.7" fill="#f00"/><circle cx="265.31" cy="162.75" r="0.7" fill="#f00"/><circle cx="269.07" cy="161.4" r="0.7" fill="#f00"/><circle cx="272.82" cy="160" r="0.7" fill="#f00"/><circle cx="276.56" cy="158.59" r="0.7" fill="#f00"/><circle cx="280.31" cy="157.19" r="0.7" fill="#f00"/><circle cx="284.05" cy="155.77" r="0.7" fill="#f00"/><circle cx="287.79" cy="154.34" r="0.7" fill="#f00"/><circle cx="291.51" cy="152.88" r="0.7" fill="#f00"/><circle cx="295.2" cy="151.35" r="0.7" fill="#f00"/><circle cx="298.89" cy="149.8" r="0.7" fill="#f00"/><circle cx="302.61" cy="148.32" r="0.7" fill="#f00"/><circle cx="306.47" cy="147.32" r="0.7" fill="#f00"/><circle cx="310.33" cy="146.37" r="0.7" fill="#f00"/><circle cx="314" cy="144.78" r="0.7" fill="#f00"/><circle cx="317.63" cy="143.09" r="0.7" fill="#f00"/><circle cx="321.25" cy="141.39" r="0.7" fill="#f00"/><circle cx="324.89" cy="139.72" r="0.7" fill="#f00"/><circle cx="328.52" cy="138.04" r="0.7" fill="#f00"/><circle cx="332.15" cy="136.38" r="0.7" fill="#f00"/><circle cx="335.83" cy="134.8" r="0.7" fill="#f00"/><circle cx="339.55" cy="133.34" r="0.7" fill="#f00"/><circle cx="343.32" cy="131.99" r="0.7" fill="#f00"/><circle cx="347.11" cy="130.71" r="0.7" fill="#f00"/><circle cx="350.91" cy="129.47" r="0.7" fill="#f00"/><circle cx="354.73" cy="128.28" r="0.7" fill="#f00"/><circle cx="358.56" cy="127.13" r="0.7" fill="#f00"/><circle cx="362.4" cy="126.02" r="0.7" fill="#f00"/><circle cx="366.25" cy="124.94" r="0.7" fill="#f00"/>
<polyline points="370,122.1 369.31,122.12 368.62,122.13 367.92,122.15 367.22,122.17 366.51,122.19 365.79,122.21 365.08,122.22 364.36,122.24 363.64,122.26 362.92,122.28 362.2,122.29 361.49,122.31 360.77,122.33 360.06,122.35 359.35,122.37 358.64,122.38 357.94,122.4 357.24,122.42 356.55,122.43 355.87,122.45 355.2,122.47 354.53,122.49 353.88,122.5 353.24,122.52 352.6,122.54 351.98,122.55 351.37,122.57 350.78,122.58 350.2,122.6 349.39,122.62 348.6,122.64 347.84,122.66 347.11,122.67 346.4,122.68 345.71,122.7 345.04,122.71 344.38,122.72 343.73,122.73 343.1,122.74 342.47,122.76 341.85,122.77 341.24,122.79 340.62,122.81 340,122.83 339.38,122.86 338.75,122.89 338.11,122.92 337.46,122.96 336.8,123 336.12,123.05 335.42,123.1 334.71,123.16 333.99,123.22 333.26,123.29 332.53,123.36 331.79,123.44 331.06,123.51 330.32,123.59 329.6,123.67 328.89,123.75 328.18,123.83 327.5,123.91 326.83,123.99 326.19,124.06 325.57,124.14 324.98,124.21 324.42,124.28 323.89,124.34 323.4,124.4 322.33,124.53 321.44,124.65 320.71,124.76 320.08,124.86 319.53,124.96 319.03,125.06 318.53,125.17 318,125.3 317.16,125.53 316.41,125.79 315.72,126.05 315.09,126.33 314.5,126.6 313.82,126.92 313.22,127.22 312.68,127.57 312.2,128 311.78,128.44 311.43,128.88 311.11,129.51 310.8,130.5 310.68,130.97 310.57,131.5 310.46,132.07 310.35,132.69 310.25,133.34 310.14,134.03 310.04,134.74 309.93,135.48 309.82,136.24 309.71,137.02 309.6,137.8 309.52,138.39 309.43,139.01 309.35,139.65 309.26,140.31 309.17,140.98 309.09,141.67 309,142.36 308.91,143.06 308.82,143.76 308.74,144.46 308.65,145.16 308.56,145.84 308.47,146.51 308.39,147.17 308.3,147.8 308.2,148.53 308.1,149.26 308,150 307.9,150.74 307.8,151.47 307.71,152.19 307.61,152.89 307.51,153.58 307.41,154.23 307.31,154.86 307.21,155.45 307.1,156 307,156.5 306.74,157.59 306.48,158.42 306.22,159.08 305.93,159.65 305.6,160.2 305.14,160.84 304.62,161.36 304.08,161.8 303.5,162.2 302.94,162.56 302.37,162.85 301.72,163.12 300.9,163.4 300.33,163.57 299.69,163.75 299.01,163.92 298.28,164.1 297.53,164.27 296.77,164.44 296,164.6 295.37,164.73 294.79,164.85 294.22,164.96 293.63,165.07 292.97,165.19 292.21,165.31 291.29,165.45 290.2,165.6 289.7,165.67 289.17,165.74 288.6,165.82 288.01,165.89 287.38,165.98 286.74,166.06 286.07,166.15 285.39,166.24 284.69,166.32 283.97,166.41 283.25,166.5 282.52,166.59 281.79,166.68 281.06,166.76 280.33,166.84 279.6,166.92 278.88,167 278.17,167.07 277.48,167.14 276.8,167.2 276.13,167.26 275.46,167.31 274.79,167.37 274.12,167.42 273.45,167.47 272.78,167.51 272.11,167.56 271.44,167.6 270.77,167.64 270.1,167.68 269.43,167.72 268.76,167.75 268.09,167.79 267.42,167.82 266.75,167.85 266.08,167.88 265.41,167.91 264.74,167.94 264.07,167.97 263.4,168 262.73,168.03 262.06,168.05 261.39,168.07 260.72,168.09 260.05,168.11 259.38,168.13 258.71,168.14 258.04,168.16 257.37,168.17 256.7,168.18 256.03,168.19 255.36,168.2 254.69,168.21 254.02,168.23 253.35,168.24 252.68,168.25 252.01,168.26 251.34,168.27 250.67,168.29 250,168.3" fill="none" stroke="#00f" stroke-width="1.2" stroke-linejoin="round"/><circle cx="370" cy="122.1" r="0.8" fill="#00f"/><circle cx="366.6" cy="122.19" r="0.8" fill="#00f"/><circle cx="363.2" cy="122.27" r="0.8" fill="#00f"/><circle cx="359.8" cy="122.35" r="0.8" fill="#00f"/><circle cx="356.4" cy="122.44" r="0.8" fill="#00f"/><circle cx="353.01" cy="122.53" r="0.8" fill="#00f"/><circle cx="349.61" cy="122.62" r="0.8" fill="#00f"/><circle cx="346.21" cy="122.69" r="0.8" fill="#00f"/><circle cx="342.81" cy="122.75" r="0.8" fill="#00f"/><circle cx="339.41" cy="122.86" r="0.8" fill="#00f"/><circle cx="336.02" cy="123.06" r="0.8" fill="#00f"/><circle cx="332.63" cy="123.35" r="0.8" fill="#00f"/><circle cx="329.25" cy="123.71" r="0.8" fill="#00f"/><circle cx="325.87" cy="124.1" r="0.8" fill="#00f"/><circle cx="322.5" cy="124.51" r="0.8" fill="#00f"/><circle cx="319.14" cy="125.04" r="0.8" fill="#00f"/><circle cx="315.88" cy="125.99" r="0.8" fill="#00f"/><circle cx="312.83" cy="127.48" r="0.8" fill="#00f"/><circle cx="310.9" cy="130.19" r="0.8" fill="#00f"/><circle cx="310.22" cy="133.51" r="0.8" fill="#00f"/><circle cx="309.73" cy="136.88" r="0.8" fill="#00f"/><circle cx="309.27" cy="140.25" r="0.8" fill="#00f"/><circle cx="308.84" cy="143.62" r="0.8" fill="#00f"/><circle cx="308.41" cy="146.99" r="0.8" fill="#00f"/><circle cx="307.95" cy="150.36" r="0.8" fill="#00f"/><circle cx="307.48" cy="153.73" r="0.8" fill="#00f"/><circle cx="306.86" cy="157.07" r="0.8" fill="#00f"/><circle cx="305.6" cy="160.2" r="0.8" fill="#00f"/><circle cx="303.09" cy="162.46" r="0.8" fill="#00f"/><circle cx="299.93" cy="163.68" r="0.8" fill="#00f"/><circle cx="296.63" cy="164.47" r="0.8" fill="#00f"/><circle cx="293.29" cy="165.13" r="0.8" fill="#00f"/><circle cx="289.93" cy="165.64" r="0.8" fill="#00f"/><circle cx="286.56" cy="166.08" r="0.8" fill="#00f"/><circle cx="283.19" cy="166.51" r="0.8" fill="#00f"/><circle cx="279.81" cy="166.9" r="0.8" fill="#00f"/><circle cx="276.43" cy="167.23" r="0.8" fill="#00f"/><circle cx="273.04" cy="167.5" r="0.8" fill="#00f"/><circle cx="269.64" cy="167.71" r="0.8" fill="#00f"/><circle cx="266.25" cy="167.88" r="0.8" fill="#00f"/><circle cx="262.85" cy="168.02" r="0.8" fill="#00f"/><circle cx="259.45" cy="168.12" r="0.8" fill="#00f"/><circle cx="256.05" cy="168.19" r="0.8" fill="#00f"/><circle cx="252.65" cy="168.25" r="0.8" fill="#00f"/>
<polyline points="250,168.7 250.67,168.69 251.34,168.68 252.01,168.67 252.68,168.66 253.35,168.66 254.02,168.65 254.69,168.64 255.36,168.63 256.03,168.63 256.7,168.62 257.37,168.61 258.04,168.6 258.71,168.59 259.38,168.58 260.05,168.57 260.72,168.56 261.39,168.55 262.06,168.53 262.73,168.52 263.4,168.5 264.07,168.48 264.74,168.47 265.41,168.45 266.08,168.43 266.75,168.41 267.42,168.39 268.09,168.38 268.76,168.36 269.43,168.33 270.1,168.31 270.77,168.29 271.44,168.26 272.11,168.24 272.78,168.21 273.45,168.18 274.12,168.15 274.79,168.12 275.46,168.08 276.13,168.04 276.8,168 277.48,167.96 278.17,167.91 278.87,167.86 279.59,167.8 280.31,167.75 281.03,167.69 281.76,167.63 282.48,167.57 283.2,167.5 283.92,167.44 284.63,167.37 285.32,167.31 286.01,167.24 286.67,167.17 287.32,167.11 287.95,167.04 288.55,166.98 289.13,166.92 289.68,166.86 290.2,166.8 291.14,166.69 291.98,166.58 292.72,166.47 293.39,166.36 294.01,166.26 294.58,166.15 295.15,166.04 295.71,165.93 296.28,165.82 296.9,165.7 297.62,165.57 298.34,165.43 299.07,165.3 299.79,165.16 300.49,165.02 301.17,164.87 301.82,164.72 302.44,164.56 303,164.4 303.9,164.1 304.68,163.81 305.37,163.49 306,163.12 306.6,162.7 307.16,162.22 307.67,161.69 308.13,161.12 308.57,160.49 309,159.8 309.31,159.29 309.61,158.77 309.9,158.23 310.17,157.65 310.44,157.02 310.68,156.3 310.9,155.5 311.02,154.94 311.14,154.34 311.24,153.71 311.33,153.05 311.42,152.36 311.5,151.65 311.57,150.91 311.65,150.16 311.73,149.39 311.81,148.6 311.9,147.8 311.97,147.19 312.03,146.54 312.1,145.87 312.17,145.17 312.23,144.45 312.3,143.73 312.37,143 312.43,142.27 312.5,141.55 312.57,140.85 312.63,140.17 312.7,139.52 312.77,138.9 312.83,138.33 312.9,137.8 313.04,136.8 313.17,135.93 313.3,135.17 313.44,134.5 313.58,133.89 313.73,133.33 313.9,132.8 314.21,132.01 314.55,131.41 314.94,130.91 315.4,130.4 315.91,129.88 316.46,129.39 317.13,128.91 318,128.4 318.49,128.13 318.97,127.84 319.47,127.55 320.02,127.26 320.67,126.96 321.42,126.67 322.32,126.38 323.4,126.1 323.89,125.99 324.42,125.88 324.98,125.76 325.57,125.65 326.19,125.54 326.83,125.42 327.5,125.31 328.18,125.19 328.89,125.08 329.6,124.97 330.32,124.86 331.06,124.75 331.79,124.65 332.53,124.54 333.26,124.44 333.99,124.35 334.71,124.25 335.42,124.16 336.12,124.08 336.8,124 337.46,123.92 338.11,123.85 338.75,123.79 339.38,123.72 340,123.66 340.62,123.61 341.24,123.55 341.85,123.5 342.47,123.45 343.1,123.41 343.73,123.36 344.38,123.32 345.04,123.28 345.71,123.24 346.4,123.2 347.11,123.16 347.84,123.12 348.6,123.08 349.39,123.04 350.2,123 350.78,122.97 351.37,122.95 351.98,122.92 352.6,122.9 353.24,122.87 353.88,122.85 354.53,122.83 355.2,122.81 355.87,122.78 356.55,122.76 357.24,122.74 357.94,122.72 358.64,122.7 359.35,122.68 360.06,122.67 360.77,122.65 361.49,122.63 362.2,122.61 362.92,122.59 363.64,122.57 364.36,122.55 365.08,122.54 365.79,122.52 366.51,122.5 367.22,122.48 367.92,122.46 368.62,122.44 369.31,122.42 370,122.4" fill="none" stroke="#00f" stroke-width="1.2" stroke-linejoin="round"/><circle cx="250" cy="168.7" r="0.8" fill="#00f"/><circle cx="253.4" cy="168.66" r="0.8" fill="#00f"/><circle cx="256.8" cy="168.62" r="0.8" fill="#00f"/><circle cx="260.2" cy="168.57" r="0.8" fill="#00f"/><circle cx="263.6" cy="168.49" r="0.8" fill="#00f"/><circle cx="267" cy="168.41" r="0.8" fill="#00f"/><circle cx="270.4" cy="168.3" r="0.8" fill="#00f"/><circle cx="273.79" cy="168.17" r="0.8" fill="#00f"/><circle cx="277.19" cy="167.97" r="0.8" fill="#00f"/><circle cx="280.58" cy="167.72" r="0.8" fill="#00f"/><circle cx="283.97" cy="167.43" r="0.8" fill="#00f"/><circle cx="287.35" cy="167.11" r="0.8" fill="#00f"/><circle cx="290.73" cy="166.74" r="0.8" fill="#00f"/><circle cx="294.09" cy="166.24" r="0.8" fill="#00f"/><circle cx="297.43" cy="165.6" r="0.8" fill="#00f"/><circle cx="300.77" cy="164.96" r="0.8" fill="#00f"/><circle cx="304.04" cy="164.05" r="0.8" fill="#00f"/><circle cx="306.98" cy="162.38" r="0.8" fill="#00f"/><circle cx="309.06" cy="159.71" r="0.8" fill="#00f"/><circle cx="310.56" cy="156.66" r="0.8" fill="#00f"/><circle cx="311.29" cy="153.35" r="0.8" fill="#00f"/><circle cx="311.67" cy="149.97" r="0.8" fill="#00f"/><circle cx="312.03" cy="146.59" r="0.8" fill="#00f"/><circle cx="312.35" cy="143.21" r="0.8" fill="#00f"/><circle cx="312.67" cy="139.82" r="0.8" fill="#00f"/><circle cx="313.09" cy="136.45" r="0.8" fill="#00f"/><circle cx="313.8" cy="133.13" r="0.8" fill="#00f"/><circle cx="315.54" cy="130.26" r="0.8" fill="#00f"/><circle cx="318.26" cy="128.25" r="0.8" fill="#00f"/><circle cx="321.29" cy="126.72" r="0.8" fill="#00f"/><circle cx="324.57" cy="125.85" r="0.8" fill="#00f"/><circle cx="327.92" cy="125.24" r="0.8" fill="#00f"/><circle cx="331.28" cy="124.72" r="0.8" fill="#00f"/><circle cx="334.65" cy="124.26" r="0.8" fill="#00f"/><circle cx="338.02" cy="123.86" r="0.8" fill="#00f"/><circle cx="341.41" cy="123.54" r="0.8" fill="#00f"/><circle cx="344.8" cy="123.29" r="0.8" fill="#00f"/><circle cx="348.19" cy="123.1" r="0.8" fill="#00f"/><circle cx="351.59" cy="122.94" r="0.8" fill="#00f"/><circle cx="354.99" cy="122.81" r="0.8" fill="#00f"/><circle cx="358.39" cy="122.71" r="0.8" fill="#00f"/><circle cx="361.79" cy="122.62" r="0.8" fill="#00f"/><circle cx="365.18" cy="122.53" r="0.8" fill="#00f"/><circle cx="368.58" cy="122.44" r="0.8" fill="#00f"/>
</g>
<g clip-path="url(#cpB)">
<polyline points="370.3,180.7 369.63,180.78 368.94,180.87 368.24,180.96 367.54,181.05 366.84,181.14 366.13,181.23 365.42,181.32 364.71,181.4 364,181.49 363.3,181.58 362.61,181.67 361.93,181.75 361.26,181.84 360.6,181.92 359.96,182 359.34,182.08 358.73,182.16 358.16,182.23 357.6,182.3 356.7,182.41 355.87,182.51 355.1,182.6 354.38,182.69 353.69,182.77 353.03,182.85 352.38,182.92 351.73,183.01 351.08,183.1 350.4,183.19 349.7,183.3 349.04,183.41 348.37,183.52 347.7,183.63 347.04,183.75 346.37,183.87 345.7,184 345.03,184.13 344.36,184.26 343.7,184.39 343.03,184.53 342.36,184.66 341.7,184.8 341.04,184.94 340.38,185.07 339.72,185.21 339.06,185.35 338.4,185.49 337.74,185.63 337.09,185.78 336.43,185.93 335.77,186.09 335.12,186.25 334.46,186.42 333.8,186.6 333.14,186.78 332.48,186.97 331.83,187.17 331.17,187.36 330.51,187.57 329.86,187.78 329.2,187.99 328.54,188.21 327.88,188.45 327.22,188.69 326.56,188.94 325.9,189.2 325.29,189.45 324.67,189.69 324.05,189.95 323.43,190.2 322.81,190.46 322.19,190.74 321.57,191.02 320.95,191.31 320.34,191.61 319.72,191.93 319.11,192.27 318.5,192.63 317.9,193 317.34,193.37 316.78,193.76 316.22,194.17 315.66,194.6 315.1,195.04 314.54,195.49 313.99,195.95 313.44,196.42 312.89,196.89 312.36,197.36 311.83,197.83 311.31,198.29 310.8,198.75 310.3,199.2 309.78,199.68 309.27,200.16 308.78,200.65 308.3,201.13 307.83,201.62 307.36,202.11 306.9,202.59 306.44,203.07 305.98,203.55 305.52,204.02 305.06,204.49 304.58,204.95 304.1,205.4 303.57,205.88 303.05,206.36 302.53,206.83 302.01,207.29 301.48,207.75 300.96,208.21 300.42,208.65 299.88,209.1 299.33,209.53 298.77,209.96 298.19,210.38 297.6,210.8 297.04,211.18 296.46,211.55 295.87,211.92 295.28,212.29 294.67,212.65 294.05,213.01 293.43,213.35 292.81,213.7 292.18,214.03 291.56,214.36 290.93,214.68 290.31,215 289.7,215.3 289.06,215.61 288.46,215.91 287.89,216.19 287.33,216.46 286.77,216.72 286.19,216.98 285.59,217.24 284.95,217.49 284.25,217.75 283.49,218.02 282.64,218.3 281.7,218.6 281.19,218.75 280.66,218.91 280.1,219.07 279.52,219.24 278.92,219.41 278.3,219.58 277.67,219.75 277.01,219.93 276.35,220.1 275.67,220.28 274.99,220.45 274.29,220.63 273.59,220.81 272.89,220.98 272.18,221.16 271.46,221.33 270.75,221.5 270.04,221.67 269.33,221.83 268.63,221.99 267.93,222.15 267.24,222.31 266.57,222.46 265.9,222.6 265.24,222.74 264.58,222.88 263.92,223.01 263.26,223.14 262.59,223.26 261.93,223.38 261.27,223.5 260.61,223.62 259.94,223.74 259.28,223.85 258.62,223.96 257.96,224.08 257.29,224.18 256.63,224.29 255.97,224.4 255.3,224.51 254.64,224.62 253.98,224.73 253.31,224.84 252.65,224.95 251.99,225.06 251.33,225.17 250.66,225.28 250,225.4" fill="none" stroke="#00f" stroke-width="1.6" stroke-linejoin="round"/><circle cx="370.3" cy="180.7" r="1.0" fill="#00f"/><circle cx="366.73" cy="181.15" r="1.0" fill="#00f"/><circle cx="363.16" cy="181.6" r="1.0" fill="#00f"/><circle cx="359.58" cy="182.05" r="1.0" fill="#00f"/><circle cx="356.01" cy="182.49" r="1.0" fill="#00f"/><circle cx="352.44" cy="182.92" r="1.0" fill="#00f"/><circle cx="348.87" cy="183.43" r="1.0" fill="#00f"/><circle cx="345.33" cy="184.07" r="1.0" fill="#00f"/><circle cx="341.8" cy="184.78" r="1.0" fill="#00f"/><circle cx="338.28" cy="185.52" r="1.0" fill="#00f"/><circle cx="334.77" cy="186.34" r="1.0" fill="#00f"/><circle cx="331.31" cy="187.32" r="1.0" fill="#00f"/><circle cx="327.89" cy="188.44" r="1.0" fill="#00f"/><circle cx="324.54" cy="189.75" r="1.0" fill="#00f"/><circle cx="321.23" cy="191.18" r="1.0" fill="#00f"/><circle cx="318.07" cy="192.89" r="1.0" fill="#00f"/><circle cx="315.15" cy="195" r="1.0" fill="#00f"/><circle cx="312.4" cy="197.32" r="1.0" fill="#00f"/><circle cx="309.73" cy="199.73" r="1.0" fill="#00f"/><circle cx="307.19" cy="202.29" r="1.0" fill="#00f"/><circle cx="304.68" cy="204.86" r="1.0" fill="#00f"/><circle cx="302.02" cy="207.29" r="1.0" fill="#00f"/><circle cx="299.25" cy="209.59" r="1.0" fill="#00f"/><circle cx="296.3" cy="211.65" r="1.0" fill="#00f"/><circle cx="293.2" cy="213.48" r="1.0" fill="#00f"/><circle cx="290.01" cy="215.15" r="1.0" fill="#00f"/><circle cx="286.77" cy="216.72" r="1.0" fill="#00f"/><circle cx="283.43" cy="218.04" r="1.0" fill="#00f"/><circle cx="279.99" cy="219.11" r="1.0" fill="#00f"/><circle cx="276.52" cy="220.06" r="1.0" fill="#00f"/><circle cx="273.03" cy="220.95" r="1.0" fill="#00f"/><circle cx="269.53" cy="221.79" r="1.0" fill="#00f"/><circle cx="266.01" cy="222.58" r="1.0" fill="#00f"/><circle cx="262.48" cy="223.28" r="1.0" fill="#00f"/><circle cx="258.94" cy="223.91" r="1.0" fill="#00f"/><circle cx="255.39" cy="224.5" r="1.0" fill="#00f"/><circle cx="251.84" cy="225.08" r="1.0" fill="#00f"/>
<polyline points="250,227.3 250.66,227.2 251.33,227.11 251.99,227.02 252.65,226.93 253.31,226.84 253.98,226.75 254.64,226.66 255.3,226.57 255.97,226.48 256.63,226.39 257.29,226.3 257.96,226.21 258.62,226.11 259.28,226.02 259.94,225.93 260.61,225.83 261.27,225.74 261.93,225.64 262.59,225.54 263.26,225.44 263.92,225.33 264.58,225.22 265.24,225.11 265.9,225 266.57,224.88 267.24,224.76 267.93,224.64 268.63,224.51 269.33,224.39 270.04,224.25 270.75,224.12 271.46,223.99 272.18,223.85 272.89,223.71 273.59,223.57 274.29,223.43 274.99,223.29 275.67,223.15 276.35,223.01 277.01,222.87 277.67,222.73 278.3,222.59 278.92,222.46 279.52,222.32 280.1,222.19 280.66,222.06 281.19,221.93 281.7,221.8 282.64,221.56 283.49,221.32 284.25,221.09 284.95,220.87 285.59,220.65 286.19,220.43 286.77,220.2 287.33,219.98 287.89,219.75 288.46,219.51 289.06,219.26 289.7,219 290.31,218.75 290.92,218.51 291.53,218.26 292.13,218.01 292.74,217.76 293.35,217.5 293.95,217.23 294.56,216.96 295.17,216.67 295.77,216.38 296.38,216.07 296.99,215.74 297.6,215.4 298.17,215.06 298.75,214.71 299.34,214.34 299.93,213.95 300.52,213.55 301.12,213.14 301.71,212.73 302.29,212.31 302.87,211.9 303.44,211.48 304,211.07 304.55,210.67 305.08,210.28 305.6,209.9 306.23,209.44 306.84,208.99 307.42,208.56 307.99,208.13 308.55,207.71 309.09,207.28 309.63,206.85 310.16,206.41 310.7,205.96 311.25,205.49 311.8,205 312.27,204.57 312.72,204.12 313.18,203.66 313.62,203.18 314.07,202.71 314.51,202.22 314.96,201.73 315.42,201.24 315.89,200.74 316.36,200.25 316.86,199.76 317.37,199.28 317.9,198.8 318.38,198.39 318.87,197.96 319.38,197.53 319.9,197.1 320.43,196.66 320.97,196.23 321.51,195.8 322.06,195.37 322.62,194.95 323.17,194.54 323.72,194.14 324.28,193.75 324.82,193.38 325.37,193.03 325.9,192.7 326.56,192.31 327.22,191.96 327.88,191.62 328.54,191.31 329.2,191.01 329.86,190.73 330.51,190.46 331.17,190.2 331.83,189.95 332.48,189.7 333.14,189.45 333.8,189.2 334.46,188.95 335.11,188.71 335.77,188.47 336.42,188.25 337.07,188.03 337.73,187.81 338.38,187.6 339.04,187.4 339.7,187.19 340.36,186.99 341.03,186.8 341.7,186.6 342.38,186.41 343.07,186.21 343.76,186.03 344.46,185.84 345.17,185.66 345.87,185.48 346.57,185.31 347.27,185.14 347.96,184.97 348.65,184.81 349.33,184.65 350,184.5 350.7,184.34 351.36,184.19 351.99,184.05 352.6,183.91 353.21,183.78 353.84,183.65 354.49,183.52 355.18,183.39 355.92,183.26 356.72,183.13 357.6,183 358.15,182.92 358.72,182.84 359.32,182.76 359.94,182.68 360.58,182.61 361.23,182.53 361.9,182.45 362.59,182.37 363.28,182.29 363.98,182.21 364.69,182.13 365.4,182.05 366.12,181.97 366.83,181.89 367.54,181.82 368.24,181.74 368.94,181.66 369.62,181.58 370.3,181.5" fill="none" stroke="#00f" stroke-width="1.6" stroke-linejoin="round"/><circle cx="250" cy="227.3" r="1.0" fill="#00f"/><circle cx="253.57" cy="226.8" r="1.0" fill="#00f"/><circle cx="257.13" cy="226.32" r="1.0" fill="#00f"/><circle cx="260.7" cy="225.82" r="1.0" fill="#00f"/><circle cx="264.26" cy="225.28" r="1.0" fill="#00f"/><circle cx="267.8" cy="224.66" r="1.0" fill="#00f"/><circle cx="271.34" cy="224.01" r="1.0" fill="#00f"/><circle cx="274.88" cy="223.31" r="1.0" fill="#00f"/><circle cx="278.4" cy="222.57" r="1.0" fill="#00f"/><circle cx="281.9" cy="221.75" r="1.0" fill="#00f"/><circle cx="285.35" cy="220.73" r="1.0" fill="#00f"/><circle cx="288.7" cy="219.41" r="1.0" fill="#00f"/><circle cx="292.04" cy="218.05" r="1.0" fill="#00f"/><circle cx="295.33" cy="216.59" r="1.0" fill="#00f"/><circle cx="298.49" cy="214.87" r="1.0" fill="#00f"/><circle cx="301.49" cy="212.88" r="1.0" fill="#00f"/><circle cx="304.41" cy="210.78" r="1.0" fill="#00f"/><circle cx="307.31" cy="208.64" r="1.0" fill="#00f"/><circle cx="310.15" cy="206.43" r="1.0" fill="#00f"/><circle cx="312.82" cy="204.02" r="1.0" fill="#00f"/><circle cx="315.28" cy="201.39" r="1.0" fill="#00f"/><circle cx="317.83" cy="198.86" r="1.0" fill="#00f"/><circle cx="320.59" cy="196.54" r="1.0" fill="#00f"/><circle cx="323.44" cy="194.34" r="1.0" fill="#00f"/><circle cx="326.45" cy="192.38" r="1.0" fill="#00f"/><circle cx="329.69" cy="190.8" r="1.0" fill="#00f"/><circle cx="333.04" cy="189.49" r="1.0" fill="#00f"/><circle cx="336.42" cy="188.25" r="1.0" fill="#00f"/><circle cx="339.85" cy="187.15" r="1.0" fill="#00f"/><circle cx="343.3" cy="186.15" r="1.0" fill="#00f"/><circle cx="346.79" cy="185.25" r="1.0" fill="#00f"/><circle cx="350.3" cy="184.43" r="1.0" fill="#00f"/><circle cx="353.81" cy="183.65" r="1.0" fill="#00f"/><circle cx="357.36" cy="183.04" r="1.0" fill="#00f"/><circle cx="360.93" cy="182.56" r="1.0" fill="#00f"/><circle cx="364.5" cy="182.15" r="1.0" fill="#00f"/><circle cx="368.08" cy="181.75" r="1.0" fill="#00f"/>
<polyline points="370.3,178.8 369.62,178.82 368.92,178.84 368.23,178.86 367.52,178.88 366.82,178.89 366.1,178.91 365.39,178.93 364.66,178.95 363.94,178.97 363.21,178.99 362.49,179 361.76,179.02 361.02,179.04 360.29,179.06 359.56,179.08 358.83,179.1 358.1,179.11 357.37,179.13 356.64,179.15 355.92,179.17 355.2,179.19 354.48,179.21 353.77,179.22 353.06,179.24 352.36,179.26 351.66,179.28 350.97,179.3 350.29,179.32 349.61,179.34 348.94,179.36 348.28,179.38 347.62,179.4 346.98,179.42 346.35,179.44 345.73,179.46 345.11,179.48 344.51,179.5 343.92,179.52 343.35,179.54 342.79,179.56 342.24,179.58 341.7,179.6 340.75,179.64 339.85,179.68 338.97,179.72 338.13,179.76 337.32,179.8 336.54,179.84 335.79,179.89 335.06,179.93 334.36,179.97 333.68,180.02 333.02,180.06 332.37,180.1 331.75,180.15 331.13,180.19 330.53,180.24 329.94,180.28 329.35,180.33 328.77,180.37 328.2,180.42 327.62,180.46 327.05,180.51 326.48,180.55 325.9,180.6 325.07,180.67 324.25,180.73 323.44,180.8 322.65,180.87 321.87,180.94 321.11,181.01 320.37,181.09 319.65,181.16 318.96,181.23 318.29,181.3 317.66,181.37 317.05,181.44 316.48,181.5 315.95,181.57 315.46,181.64 315,181.7 313.66,181.93 312.92,182.13 312.47,182.34 312,182.6 311.31,182.98 310.77,183.41 310.3,184 310,184.53 309.75,185.12 309.53,185.85 309.3,186.8 309.19,187.38 309.08,188.03 308.98,188.73 308.88,189.48 308.77,190.26 308.66,191.07 308.54,191.88 308.4,192.7 308.28,193.37 308.16,194.06 308.04,194.77 307.9,195.5 307.77,196.23 307.63,196.97 307.48,197.7 307.33,198.42 307.17,199.12 307,199.8 306.8,200.52 306.58,201.21 306.36,201.88 306.12,202.54 305.88,203.2 305.64,203.86 305.42,204.55 305.2,205.25 305,206 304.85,206.64 304.72,207.31 304.59,208 304.47,208.7 304.35,209.41 304.24,210.13 304.12,210.84 304,211.55 303.88,212.25 303.74,212.94 303.6,213.6 303.43,214.32 303.26,215.04 303.08,215.77 302.9,216.48 302.71,217.19 302.52,217.87 302.32,218.53 302.12,219.16 301.91,219.75 301.7,220.3 301.35,221.12 300.99,221.85 300.62,222.5 300.22,223.08 299.79,223.61 299.3,224.1 298.81,224.54 298.35,224.91 297.84,225.22 297.24,225.5 296.48,225.76 295.5,226 295,226.1 294.47,226.2 293.89,226.28 293.28,226.37 292.64,226.45 291.97,226.52 291.28,226.59 290.56,226.66 289.83,226.72 289.08,226.78 288.32,226.84 287.55,226.9 286.78,226.95 286,227 285.41,227.04 284.83,227.07 284.26,227.1 283.69,227.13 283.13,227.16 282.56,227.18 281.99,227.2 281.4,227.22 280.79,227.24 280.17,227.26 279.51,227.28 278.83,227.3 278.1,227.31 277.34,227.33 276.54,227.35 275.68,227.36 274.77,227.38 273.8,227.4 273.28,227.41 272.73,227.42 272.18,227.43 271.6,227.44 271.01,227.45 270.4,227.46 269.78,227.47 269.15,227.48 268.5,227.48 267.85,227.49 267.18,227.5 266.5,227.51 265.81,227.52 265.12,227.53 264.41,227.54 263.7,227.54 262.99,227.55 262.26,227.56 261.54,227.57 260.81,227.58 260.08,227.58 259.34,227.59 258.61,227.6 257.87,227.61 257.14,227.62 256.4,227.63 255.67,227.63 254.95,227.64 254.22,227.65 253.5,227.66 252.79,227.67 252.08,227.67 251.38,227.68 250.68,227.69 250,227.7" fill="none" stroke="#f00" stroke-width="1.3" stroke-linejoin="round"/><circle cx="370.3" cy="178.8" r="0.85" fill="#f00"/><circle cx="366.7" cy="178.9" r="0.85" fill="#f00"/><circle cx="363.1" cy="178.99" r="0.85" fill="#f00"/><circle cx="359.5" cy="179.08" r="0.85" fill="#f00"/><circle cx="355.9" cy="179.17" r="0.85" fill="#f00"/><circle cx="352.31" cy="179.26" r="0.85" fill="#f00"/><circle cx="348.71" cy="179.36" r="0.85" fill="#f00"/><circle cx="345.11" cy="179.48" r="0.85" fill="#f00"/><circle cx="341.51" cy="179.61" r="0.85" fill="#f00"/><circle cx="337.92" cy="179.77" r="0.85" fill="#f00"/><circle cx="334.32" cy="179.97" r="0.85" fill="#f00"/><circle cx="330.73" cy="180.22" r="0.85" fill="#f00"/><circle cx="327.14" cy="180.5" r="0.85" fill="#f00"/><circle cx="323.55" cy="180.79" r="0.85" fill="#f00"/><circle cx="319.97" cy="181.12" r="0.85" fill="#f00"/><circle cx="316.39" cy="181.52" r="0.85" fill="#f00"/><circle cx="312.86" cy="182.16" r="0.85" fill="#f00"/><circle cx="310.1" cy="184.35" r="0.85" fill="#f00"/><circle cx="309.12" cy="187.8" r="0.85" fill="#f00"/><circle cx="308.61" cy="191.36" r="0.85" fill="#f00"/><circle cx="308.01" cy="194.91" r="0.85" fill="#f00"/><circle cx="307.32" cy="198.45" r="0.85" fill="#f00"/><circle cx="306.35" cy="201.91" r="0.85" fill="#f00"/><circle cx="305.18" cy="205.32" r="0.85" fill="#f00"/><circle cx="304.45" cy="208.84" r="0.85" fill="#f00"/><circle cx="303.85" cy="212.39" r="0.85" fill="#f00"/><circle cx="303.05" cy="215.9" r="0.85" fill="#f00"/><circle cx="302.05" cy="219.35" r="0.85" fill="#f00"/><circle cx="300.54" cy="222.61" r="0.85" fill="#f00"/><circle cx="298" cy="225.13" r="0.85" fill="#f00"/><circle cx="294.58" cy="226.18" r="0.85" fill="#f00"/><circle cx="291.01" cy="226.62" r="0.85" fill="#f00"/><circle cx="287.42" cy="226.91" r="0.85" fill="#f00"/><circle cx="283.83" cy="227.12" r="0.85" fill="#f00"/><circle cx="280.23" cy="227.26" r="0.85" fill="#f00"/><circle cx="276.63" cy="227.34" r="0.85" fill="#f00"/><circle cx="273.03" cy="227.41" r="0.85" fill="#f00"/><circle cx="269.43" cy="227.47" r="0.85" fill="#f00"/><circle cx="265.83" cy="227.52" r="0.85" fill="#f00"/><circle cx="262.23" cy="227.56" r="0.85" fill="#f00"/><circle cx="258.63" cy="227.6" r="0.85" fill="#f00"/><circle cx="255.03" cy="227.64" r="0.85" fill="#f00"/><circle cx="251.43" cy="227.68" r="0.85" fill="#f00"/>
<polyline points="250,228 250.68,227.99 251.36,227.98 252.05,227.98 252.73,227.97 253.42,227.96 254.11,227.96 254.79,227.95 255.48,227.95 256.17,227.94 256.86,227.94 257.55,227.93 258.24,227.93 258.93,227.92 259.62,227.92 260.31,227.91 261,227.91 261.69,227.9 262.37,227.9 263.06,227.89 263.75,227.88 264.43,227.88 265.11,227.87 265.8,227.86 266.48,227.85 267.15,227.84 267.83,227.83 268.5,227.82 269.17,227.81 269.84,227.8 270.51,227.78 271.17,227.77 271.84,227.75 272.49,227.74 273.15,227.72 273.8,227.7 274.51,227.68 275.24,227.65 275.96,227.63 276.7,227.6 277.43,227.58 278.17,227.55 278.92,227.52 279.66,227.49 280.4,227.46 281.15,227.43 281.89,227.4 282.63,227.37 283.36,227.33 284.1,227.3 284.82,227.27 285.54,227.23 286.26,227.2 286.96,227.16 287.66,227.12 288.35,227.08 289.03,227.05 289.69,227.01 290.34,226.97 290.98,226.93 291.61,226.89 292.22,226.85 292.81,226.81 293.39,226.77 293.94,226.73 294.48,226.68 295,226.64 295.5,226.6 296.57,226.5 297.55,226.4 298.44,226.3 299.27,226.2 300.02,226.09 300.72,225.99 301.36,225.88 301.96,225.76 302.52,225.64 303.05,225.52 303.55,225.4 304.04,225.27 304.52,225.14 305,225 306,224.66 306.81,224.29 307.46,223.9 307.99,223.5 308.46,223.1 308.9,222.7 309.43,222.18 309.76,221.71 310.01,221.13 310.3,220.3 310.47,219.77 310.64,219.18 310.8,218.53 310.97,217.84 311.14,217.09 311.31,216.31 311.5,215.47 311.7,214.6 311.83,214.03 311.97,213.41 312.11,212.76 312.26,212.09 312.42,211.39 312.57,210.69 312.73,209.97 312.88,209.26 313.04,208.56 313.19,207.88 313.33,207.22 313.47,206.59 313.6,206 313.78,205.21 313.95,204.49 314.12,203.81 314.28,203.16 314.43,202.52 314.58,201.88 314.73,201.23 314.86,200.54 315,199.8 315.1,199.15 315.2,198.48 315.29,197.78 315.38,197.06 315.46,196.33 315.54,195.6 315.62,194.88 315.71,194.17 315.8,193.49 315.9,192.82 316,192.2 316.16,191.38 316.32,190.58 316.49,189.8 316.67,189.06 316.85,188.35 317.03,187.68 317.22,187.07 317.4,186.5 317.75,185.54 318.11,184.78 318.48,184.15 318.9,183.6 319.45,183 320.07,182.57 321,182.2 321.46,182.05 321.88,181.92 322.33,181.8 322.89,181.69 323.62,181.59 324.6,181.49 325.9,181.4 326.36,181.37 326.83,181.34 327.33,181.32 327.84,181.29 328.37,181.26 328.92,181.24 329.49,181.21 330.08,181.19 330.7,181.16 331.33,181.14 331.98,181.12 332.66,181.1 333.36,181.07 334.08,181.05 334.83,181.03 335.6,181.01 336.39,180.99 337.21,180.98 338.06,180.96 338.93,180.94 339.82,180.93 340.75,180.91 341.7,180.9 342.24,180.89 342.79,180.89 343.35,180.88 343.92,180.87 344.51,180.87 345.11,180.86 345.73,180.86 346.35,180.86 346.98,180.85 347.62,180.85 348.28,180.85 348.94,180.84 349.61,180.84 350.29,180.84 350.97,180.83 351.66,180.83 352.36,180.83 353.06,180.83 353.77,180.83 354.48,180.83 355.2,180.82 355.92,180.82 356.64,180.82 357.37,180.82 358.1,180.82 358.83,180.82 359.56,180.82 360.29,180.82 361.02,180.82 361.76,180.82 362.49,180.82 363.21,180.82 363.94,180.81 364.66,180.81 365.39,180.81 366.1,180.81 366.82,180.81 367.52,180.81 368.23,180.81 368.92,180.8 369.62,180.8 370.3,180.8" fill="none" stroke="#f00" stroke-width="1.3" stroke-linejoin="round"/><circle cx="250" cy="228" r="0.85" fill="#f00"/><circle cx="253.6" cy="227.96" r="0.85" fill="#f00"/><circle cx="257.2" cy="227.94" r="0.85" fill="#f00"/><circle cx="260.8" cy="227.91" r="0.85" fill="#f00"/><circle cx="264.4" cy="227.88" r="0.85" fill="#f00"/><circle cx="268" cy="227.83" r="0.85" fill="#f00"/><circle cx="271.6" cy="227.76" r="0.85" fill="#f00"/><circle cx="275.2" cy="227.66" r="0.85" fill="#f00"/><circle cx="278.79" cy="227.53" r="0.85" fill="#f00"/><circle cx="282.39" cy="227.38" r="0.85" fill="#f00"/><circle cx="285.99" cy="227.21" r="0.85" fill="#f00"/><circle cx="289.58" cy="227.01" r="0.85" fill="#f00"/><circle cx="293.17" cy="226.78" r="0.85" fill="#f00"/><circle cx="296.76" cy="226.48" r="0.85" fill="#f00"/><circle cx="300.34" cy="226.05" r="0.85" fill="#f00"/><circle cx="303.86" cy="225.32" r="0.85" fill="#f00"/><circle cx="307.21" cy="224.05" r="0.85" fill="#f00"/><circle cx="309.81" cy="221.6" r="0.85" fill="#f00"/><circle cx="310.89" cy="218.17" r="0.85" fill="#f00"/><circle cx="311.69" cy="214.66" r="0.85" fill="#f00"/><circle cx="312.47" cy="211.15" r="0.85" fill="#f00"/><circle cx="313.24" cy="207.63" r="0.85" fill="#f00"/><circle cx="314.04" cy="204.12" r="0.85" fill="#f00"/><circle cx="314.85" cy="200.61" r="0.85" fill="#f00"/><circle cx="315.38" cy="197.05" r="0.85" fill="#f00"/><circle cx="315.8" cy="193.48" r="0.85" fill="#f00"/><circle cx="316.46" cy="189.94" r="0.85" fill="#f00"/><circle cx="317.41" cy="186.47" r="0.85" fill="#f00"/><circle cx="319.13" cy="183.35" r="0.85" fill="#f00"/><circle cx="322.32" cy="181.8" r="0.85" fill="#f00"/><circle cx="325.89" cy="181.4" r="0.85" fill="#f00"/><circle cx="329.49" cy="181.21" r="0.85" fill="#f00"/><circle cx="333.08" cy="181.08" r="0.85" fill="#f00"/><circle cx="336.68" cy="180.99" r="0.85" fill="#f00"/><circle cx="340.28" cy="180.92" r="0.85" fill="#f00"/><circle cx="343.88" cy="180.88" r="0.85" fill="#f00"/><circle cx="347.48" cy="180.85" r="0.85" fill="#f00"/><circle cx="351.08" cy="180.83" r="0.85" fill="#f00"/><circle cx="354.68" cy="180.83" r="0.85" fill="#f00"/><circle cx="358.28" cy="180.82" r="0.85" fill="#f00"/><circle cx="361.88" cy="180.82" r="0.85" fill="#f00"/><circle cx="365.48" cy="180.81" r="0.85" fill="#f00"/><circle cx="369.08" cy="180.8" r="0.85" fill="#f00"/>
</g>
<text x="338" y="152.5" font-size="6.6" font-weight="bold" fill="#000">L<tspan font-size="4.09" dy="1.7">2</tspan><tspan dy="-1.7">/S</tspan><tspan font-size="4.09" dy="1.7">10</tspan></text>
<line x1="335.7" y1="159.6" x2="350.6" y2="159.6" stroke="#f00" stroke-width="1.0"/>
<circle cx="343.15" cy="159.6" r="0.9" fill="#f00"/>
<line x1="335.7" y1="167.3" x2="350.6" y2="167.3" stroke="#00f" stroke-width="1.0"/>
<circle cx="343.15" cy="167.3" r="0.9" fill="#00f"/>
<text x="353" y="162.05" font-size="6.4" font-weight="bold" fill="#f00">IP</text>
<text x="353" y="169.75" font-size="6.4" font-weight="bold" fill="#00f">OP</text>
<text x="338" y="211" font-size="6.6" font-weight="bold" fill="#000">L<tspan font-size="4.09" dy="1.7">20</tspan><tspan dy="-1.7">/S</tspan><tspan font-size="4.09" dy="1.7">10</tspan></text>
<line x1="335.7" y1="218.1" x2="350.6" y2="218.1" stroke="#f00" stroke-width="1.0"/>
<circle cx="343.15" cy="218.1" r="0.9" fill="#f00"/>
<line x1="335.7" y1="225.6" x2="350.6" y2="225.6" stroke="#00f" stroke-width="1.0"/>
<circle cx="343.15" cy="225.6" r="0.9" fill="#00f"/>
<text x="353" y="220.55" font-size="6.4" font-weight="bold" fill="#f00">IP</text>
<text x="353" y="228.05" font-size="6.4" font-weight="bold" fill="#00f">OP</text>
<text x="274.6" y="139.3" font-size="6.6" font-style="italic" font-weight="bold" fill="#f00" stroke="#f00" stroke-width="0.25">H<tspan font-size="4.49" dy="1.9" font-style="normal">C-s</tspan></text>
<line x1="287.6" y1="140.8" x2="301.76" y2="143.77" stroke="#f00" stroke-width="1.1"/><polygon points="304.3,144.3 300.92,145.33 301.61,142" fill="#f00"/>
<text x="277.8" y="184.9" font-size="6.6" font-style="italic" font-weight="bold" fill="#1a9a1a" stroke="#1a9a1a" stroke-width="0.25">H<tspan font-size="4.49" dy="1.9" font-style="normal">C-f</tspan></text>
<line x1="289.4" y1="186.7" x2="305.96" y2="190.34" stroke="#1a9a1a" stroke-width="1.1"/><polygon points="308.5,190.9 305.11,191.89 305.84,188.57" fill="#1a9a1a"/>
<text x="275.4" y="199.8" font-size="6.6" font-style="italic" font-weight="bold" fill="#f00" stroke="#f00" stroke-width="0.25">H<tspan font-size="4.49" dy="1.9" font-style="normal">C-s</tspan></text>
<line x1="288.2" y1="200.4" x2="301.73" y2="202.42" stroke="#f00" stroke-width="1.1"/><polygon points="304.3,202.8 300.98,204.02 301.48,200.66" fill="#f00"/>
</g>
<clipPath id="cpS"><rect x="219.7" y="3.8" width="163.60000000000002" height="87.4"/></clipPath>
<filter id="bl1" x="-10%" y="-10%" width="120%" height="120%"><feGaussianBlur stdDeviation="1.4"/></filter>
<filter id="bl2" x="-10%" y="-10%" width="120%" height="120%"><feGaussianBlur stdDeviation="0.8"/></filter>
<filter id="bl3" x="-10%" y="-10%" width="120%" height="120%"><feGaussianBlur stdDeviation="0.6"/></filter>
<filter id="bl4" x="-10%" y="-10%" width="120%" height="120%"><feGaussianBlur stdDeviation="1.0"/></filter>
<filter id="nz" x="0" y="0" width="100%" height="100%" color-interpolation-filters="sRGB"><feTurbulence type="fractalNoise" baseFrequency="0.28" numOctaves="2" seed="9"/><feColorMatrix type="matrix" values="1.3 0 0 0 -0.15  1.3 0 0 0 -0.15  1.3 0 0 0 -0.15  0 0 0 0 1"/><feGaussianBlur stdDeviation="0.5"/></filter>
<filter id="tx" x="0" y="0" width="100%" height="100%"><feTurbulence type="fractalNoise" baseFrequency="0.35" numOctaves="2" seed="4"/><feColorMatrix type="matrix" values="0 0 0 0 1  0 0 0 0 1  0 0 0 0 1  0.9 0 0 0 -0.35"/></filter>
<g clip-path="url(#cpS)">
<rect x="219.7" y="3.8" width="163.60000000000002" height="44" fill="#969696"/>
<rect x="219.7" y="45.8" width="163.60000000000002" height="45.400000000000006" fill="#a8a8a8"/>
<g filter="url(#bl1)" opacity="0.2"><ellipse cx="209.4" cy="7.8" rx="4.8" ry="3.2" transform="rotate(-40 209.8 7.4)" fill="#3a3a3a"/><ellipse cx="223.6" cy="7.8" rx="4.8" ry="3.2" transform="rotate(-40 224 7.4)" fill="#3a3a3a"/><ellipse cx="237.8" cy="7.8" rx="4.8" ry="3.2" transform="rotate(-40 238.2 7.4)" fill="#3a3a3a"/><ellipse cx="252" cy="7.8" rx="4.8" ry="3.2" transform="rotate(-40 252.4 7.4)" fill="#3a3a3a"/><ellipse cx="266.2" cy="7.8" rx="4.8" ry="3.2" transform="rotate(-40 266.6 7.4)" fill="#3a3a3a"/><ellipse cx="280.4" cy="7.8" rx="4.8" ry="3.2" transform="rotate(-40 280.8 7.4)" fill="#3a3a3a"/><ellipse cx="294.6" cy="7.8" rx="4.8" ry="3.2" transform="rotate(-40 295 7.4)" fill="#3a3a3a"/><ellipse cx="308.8" cy="7.8" rx="4.8" ry="3.2" transform="rotate(-40 309.2 7.4)" fill="#3a3a3a"/><ellipse cx="323" cy="7.8" rx="4.8" ry="3.2" transform="rotate(-40 323.4 7.4)" fill="#3a3a3a"/><ellipse cx="337.2" cy="7.8" rx="4.8" ry="3.2" transform="rotate(-40 337.6 7.4)" fill="#3a3a3a"/><ellipse cx="209.4" cy="20.8" rx="4.8" ry="3.2" transform="rotate(-40 209.8 20.4)" fill="#3a3a3a"/><ellipse cx="223.6" cy="20.8" rx="4.8" ry="3.2" transform="rotate(-40 224 20.4)" fill="#3a3a3a"/><ellipse cx="237.8" cy="20.8" rx="4.8" ry="3.2" transform="rotate(-40 238.2 20.4)" fill="#3a3a3a"/><ellipse cx="252" cy="20.8" rx="4.8" ry="3.2" transform="rotate(-40 252.4 20.4)" fill="#3a3a3a"/><ellipse cx="266.2" cy="20.8" rx="4.8" ry="3.2" transform="rotate(-40 266.6 20.4)" fill="#3a3a3a"/><ellipse cx="280.4" cy="20.8" rx="4.8" ry="3.2" transform="rotate(-40 280.8 20.4)" fill="#3a3a3a"/><ellipse cx="294.6" cy="20.8" rx="4.8" ry="3.2" transform="rotate(-40 295 20.4)" fill="#3a3a3a"/><ellipse cx="308.8" cy="20.8" rx="4.8" ry="3.2" transform="rotate(-40 309.2 20.4)" fill="#3a3a3a"/><ellipse cx="323" cy="20.8" rx="4.8" ry="3.2" transform="rotate(-40 323.4 20.4)" fill="#3a3a3a"/><ellipse cx="337.2" cy="20.8" rx="4.8" ry="3.2" transform="rotate(-40 337.6 20.4)" fill="#3a3a3a"/><ellipse cx="209.4" cy="33.4" rx="4.8" ry="3.2" transform="rotate(-40 209.8 33)" fill="#3a3a3a"/><ellipse cx="223.6" cy="33.4" rx="4.8" ry="3.2" transform="rotate(-40 224 33)" fill="#3a3a3a"/><ellipse cx="237.8" cy="33.4" rx="4.8" ry="3.2" transform="rotate(-40 238.2 33)" fill="#3a3a3a"/><ellipse cx="252" cy="33.4" rx="4.8" ry="3.2" transform="rotate(-40 252.4 33)" fill="#3a3a3a"/><ellipse cx="266.2" cy="33.4" rx="4.8" ry="3.2" transform="rotate(-40 266.6 33)" fill="#3a3a3a"/><ellipse cx="280.4" cy="33.4" rx="4.8" ry="3.2" transform="rotate(-40 280.8 33)" fill="#3a3a3a"/><ellipse cx="294.6" cy="33.4" rx="4.8" ry="3.2" transform="rotate(-40 295 33)" fill="#3a3a3a"/><ellipse cx="308.8" cy="33.4" rx="4.8" ry="3.2" transform="rotate(-40 309.2 33)" fill="#3a3a3a"/><ellipse cx="323" cy="33.4" rx="4.8" ry="3.2" transform="rotate(-40 323.4 33)" fill="#3a3a3a"/><ellipse cx="337.2" cy="33.4" rx="4.8" ry="3.2" transform="rotate(-40 337.6 33)" fill="#3a3a3a"/><ellipse cx="209.8" cy="46.7" rx="4.0" ry="3.6" fill="#5a5a5a"/><ellipse cx="224" cy="46.7" rx="4.0" ry="3.6" fill="#5a5a5a"/><ellipse cx="238.2" cy="46.7" rx="4.0" ry="3.6" fill="#5a5a5a"/><ellipse cx="252.4" cy="46.7" rx="4.0" ry="3.6" fill="#5a5a5a"/><ellipse cx="266.6" cy="46.7" rx="4.0" ry="3.6" fill="#5a5a5a"/><ellipse cx="280.8" cy="46.7" rx="4.0" ry="3.6" fill="#5a5a5a"/><ellipse cx="295" cy="46.7" rx="4.0" ry="3.6" fill="#5a5a5a"/><ellipse cx="309.2" cy="46.7" rx="4.0" ry="3.6" fill="#5a5a5a"/><ellipse cx="323.4" cy="46.7" rx="4.0" ry="3.6" fill="#5a5a5a"/><ellipse cx="337.6" cy="46.7" rx="4.0" ry="3.6" fill="#5a5a5a"/><ellipse cx="209.8" cy="61" rx="4.0" ry="3.6" fill="#5a5a5a"/><ellipse cx="224" cy="61" rx="4.0" ry="3.6" fill="#5a5a5a"/><ellipse cx="238.2" cy="61" rx="4.0" ry="3.6" fill="#5a5a5a"/><ellipse cx="252.4" cy="61" rx="4.0" ry="3.6" fill="#5a5a5a"/><ellipse cx="266.6" cy="61" rx="4.0" ry="3.6" fill="#5a5a5a"/><ellipse cx="280.8" cy="61" rx="4.0" ry="3.6" fill="#5a5a5a"/><ellipse cx="295" cy="61" rx="4.0" ry="3.6" fill="#5a5a5a"/><ellipse cx="309.2" cy="61" rx="4.0" ry="3.6" fill="#5a5a5a"/><ellipse cx="323.4" cy="61" rx="4.0" ry="3.6" fill="#5a5a5a"/><ellipse cx="337.6" cy="61" rx="4.0" ry="3.6" fill="#5a5a5a"/><ellipse cx="209.8" cy="75.1" rx="4.0" ry="3.6" fill="#5a5a5a"/><ellipse cx="224" cy="75.1" rx="4.0" ry="3.6" fill="#5a5a5a"/><ellipse cx="238.2" cy="75.1" rx="4.0" ry="3.6" fill="#5a5a5a"/><ellipse cx="252.4" cy="75.1" rx="4.0" ry="3.6" fill="#5a5a5a"/><ellipse cx="266.6" cy="75.1" rx="4.0" ry="3.6" fill="#5a5a5a"/><ellipse cx="280.8" cy="75.1" rx="4.0" ry="3.6" fill="#5a5a5a"/><ellipse cx="295" cy="75.1" rx="4.0" ry="3.6" fill="#5a5a5a"/><ellipse cx="309.2" cy="75.1" rx="4.0" ry="3.6" fill="#5a5a5a"/><ellipse cx="323.4" cy="75.1" rx="4.0" ry="3.6" fill="#5a5a5a"/><ellipse cx="337.6" cy="75.1" rx="4.0" ry="3.6" fill="#5a5a5a"/><ellipse cx="209.8" cy="88.7" rx="4.0" ry="3.6" fill="#5a5a5a"/><ellipse cx="224" cy="88.7" rx="4.0" ry="3.6" fill="#5a5a5a"/><ellipse cx="238.2" cy="88.7" rx="4.0" ry="3.6" fill="#5a5a5a"/><ellipse cx="252.4" cy="88.7" rx="4.0" ry="3.6" fill="#5a5a5a"/><ellipse cx="266.6" cy="88.7" rx="4.0" ry="3.6" fill="#5a5a5a"/><ellipse cx="280.8" cy="88.7" rx="4.0" ry="3.6" fill="#5a5a5a"/><ellipse cx="295" cy="88.7" rx="4.0" ry="3.6" fill="#5a5a5a"/><ellipse cx="309.2" cy="88.7" rx="4.0" ry="3.6" fill="#5a5a5a"/><ellipse cx="323.4" cy="88.7" rx="4.0" ry="3.6" fill="#5a5a5a"/><ellipse cx="337.6" cy="88.7" rx="4.0" ry="3.6" fill="#5a5a5a"/><ellipse cx="217.2" cy="1.2" rx="4.6" ry="3.0" transform="rotate(-40 217.6 0.8)" fill="#3a3a3a"/><ellipse cx="231.4" cy="1.2" rx="4.6" ry="3.0" transform="rotate(-40 231.8 0.8)" fill="#3a3a3a"/><ellipse cx="245.6" cy="1.2" rx="4.6" ry="3.0" transform="rotate(-40 246 0.8)" fill="#3a3a3a"/><ellipse cx="259.8" cy="1.2" rx="4.6" ry="3.0" transform="rotate(-40 260.2 0.8)" fill="#3a3a3a"/><ellipse cx="274" cy="1.2" rx="4.6" ry="3.0" transform="rotate(-40 274.4 0.8)" fill="#3a3a3a"/><ellipse cx="288.2" cy="1.2" rx="4.6" ry="3.0" transform="rotate(-40 288.6 0.8)" fill="#3a3a3a"/><ellipse cx="302.4" cy="1.2" rx="4.6" ry="3.0" transform="rotate(-40 302.8 0.8)" fill="#3a3a3a"/><ellipse cx="316.6" cy="1.2" rx="4.6" ry="3.0" transform="rotate(-40 317 0.8)" fill="#3a3a3a"/><ellipse cx="330.8" cy="1.2" rx="4.6" ry="3.0" transform="rotate(-40 331.2 0.8)" fill="#3a3a3a"/><ellipse cx="345" cy="1.2" rx="4.6" ry="3.0" transform="rotate(-40 345.4 0.8)" fill="#3a3a3a"/><ellipse cx="217.2" cy="14.3" rx="4.6" ry="3.0" transform="rotate(-40 217.6 13.9)" fill="#3a3a3a"/><ellipse cx="231.4" cy="14.3" rx="4.6" ry="3.0" transform="rotate(-40 231.8 13.9)" fill="#3a3a3a"/><ellipse cx="245.6" cy="14.3" rx="4.6" ry="3.0" transform="rotate(-40 246 13.9)" fill="#3a3a3a"/><ellipse cx="259.8" cy="14.3" rx="4.6" ry="3.0" transform="rotate(-40 260.2 13.9)" fill="#3a3a3a"/><ellipse cx="274" cy="14.3" rx="4.6" ry="3.0" transform="rotate(-40 274.4 13.9)" fill="#3a3a3a"/><ellipse cx="288.2" cy="14.3" rx="4.6" ry="3.0" transform="rotate(-40 288.6 13.9)" fill="#3a3a3a"/><ellipse cx="302.4" cy="14.3" rx="4.6" ry="3.0" transform="rotate(-40 302.8 13.9)" fill="#3a3a3a"/><ellipse cx="316.6" cy="14.3" rx="4.6" ry="3.0" transform="rotate(-40 317 13.9)" fill="#3a3a3a"/><ellipse cx="330.8" cy="14.3" rx="4.6" ry="3.0" transform="rotate(-40 331.2 13.9)" fill="#3a3a3a"/><ellipse cx="345" cy="14.3" rx="4.6" ry="3.0" transform="rotate(-40 345.4 13.9)" fill="#3a3a3a"/><ellipse cx="217.2" cy="27.3" rx="4.6" ry="3.0" transform="rotate(-40 217.6 26.9)" fill="#3a3a3a"/><ellipse cx="231.4" cy="27.3" rx="4.6" ry="3.0" transform="rotate(-40 231.8 26.9)" fill="#3a3a3a"/><ellipse cx="245.6" cy="27.3" rx="4.6" ry="3.0" transform="rotate(-40 246 26.9)" fill="#3a3a3a"/><ellipse cx="259.8" cy="27.3" rx="4.6" ry="3.0" transform="rotate(-40 260.2 26.9)" fill="#3a3a3a"/><ellipse cx="274" cy="27.3" rx="4.6" ry="3.0" transform="rotate(-40 274.4 26.9)" fill="#3a3a3a"/><ellipse cx="288.2" cy="27.3" rx="4.6" ry="3.0" transform="rotate(-40 288.6 26.9)" fill="#3a3a3a"/><ellipse cx="302.4" cy="27.3" rx="4.6" ry="3.0" transform="rotate(-40 302.8 26.9)" fill="#3a3a3a"/><ellipse cx="316.6" cy="27.3" rx="4.6" ry="3.0" transform="rotate(-40 317 26.9)" fill="#3a3a3a"/><ellipse cx="330.8" cy="27.3" rx="4.6" ry="3.0" transform="rotate(-40 331.2 26.9)" fill="#3a3a3a"/><ellipse cx="345" cy="27.3" rx="4.6" ry="3.0" transform="rotate(-40 345.4 26.9)" fill="#3a3a3a"/><ellipse cx="217.2" cy="40" rx="4.6" ry="3.0" transform="rotate(-40 217.6 39.6)" fill="#3a3a3a"/><ellipse cx="231.4" cy="40" rx="4.6" ry="3.0" transform="rotate(-40 231.8 39.6)" fill="#3a3a3a"/><ellipse cx="245.6" cy="40" rx="4.6" ry="3.0" transform="rotate(-40 246 39.6)" fill="#3a3a3a"/><ellipse cx="259.8" cy="40" rx="4.6" ry="3.0" transform="rotate(-40 260.2 39.6)" fill="#3a3a3a"/><ellipse cx="274" cy="40" rx="4.6" ry="3.0" transform="rotate(-40 274.4 39.6)" fill="#3a3a3a"/><ellipse cx="288.2" cy="40" rx="4.6" ry="3.0" transform="rotate(-40 288.6 39.6)" fill="#3a3a3a"/><ellipse cx="302.4" cy="40" rx="4.6" ry="3.0" transform="rotate(-40 302.8 39.6)" fill="#3a3a3a"/><ellipse cx="316.6" cy="40" rx="4.6" ry="3.0" transform="rotate(-40 317 39.6)" fill="#3a3a3a"/><ellipse cx="330.8" cy="40" rx="4.6" ry="3.0" transform="rotate(-40 331.2 39.6)" fill="#3a3a3a"/><ellipse cx="345" cy="40" rx="4.6" ry="3.0" transform="rotate(-40 345.4 39.6)" fill="#3a3a3a"/><ellipse cx="217.6" cy="53.9" rx="3.2" ry="3.0" fill="#5a5a5a"/><ellipse cx="231.8" cy="53.9" rx="3.2" ry="3.0" fill="#5a5a5a"/><ellipse cx="246" cy="53.9" rx="3.2" ry="3.0" fill="#5a5a5a"/><ellipse cx="260.2" cy="53.9" rx="3.2" ry="3.0" fill="#5a5a5a"/><ellipse cx="274.4" cy="53.9" rx="3.2" ry="3.0" fill="#5a5a5a"/><ellipse cx="288.6" cy="53.9" rx="3.2" ry="3.0" fill="#5a5a5a"/><ellipse cx="302.8" cy="53.9" rx="3.2" ry="3.0" fill="#5a5a5a"/><ellipse cx="317" cy="53.9" rx="3.2" ry="3.0" fill="#5a5a5a"/><ellipse cx="331.2" cy="53.9" rx="3.2" ry="3.0" fill="#5a5a5a"/><ellipse cx="345.4" cy="53.9" rx="3.2" ry="3.0" fill="#5a5a5a"/><ellipse cx="217.6" cy="68.2" rx="3.2" ry="3.0" fill="#5a5a5a"/><ellipse cx="231.8" cy="68.2" rx="3.2" ry="3.0" fill="#5a5a5a"/><ellipse cx="246" cy="68.2" rx="3.2" ry="3.0" fill="#5a5a5a"/><ellipse cx="260.2" cy="68.2" rx="3.2" ry="3.0" fill="#5a5a5a"/><ellipse cx="274.4" cy="68.2" rx="3.2" ry="3.0" fill="#5a5a5a"/><ellipse cx="288.6" cy="68.2" rx="3.2" ry="3.0" fill="#5a5a5a"/><ellipse cx="302.8" cy="68.2" rx="3.2" ry="3.0" fill="#5a5a5a"/><ellipse cx="317" cy="68.2" rx="3.2" ry="3.0" fill="#5a5a5a"/><ellipse cx="331.2" cy="68.2" rx="3.2" ry="3.0" fill="#5a5a5a"/><ellipse cx="345.4" cy="68.2" rx="3.2" ry="3.0" fill="#5a5a5a"/><ellipse cx="217.6" cy="82.2" rx="3.2" ry="3.0" fill="#5a5a5a"/><ellipse cx="231.8" cy="82.2" rx="3.2" ry="3.0" fill="#5a5a5a"/><ellipse cx="246" cy="82.2" rx="3.2" ry="3.0" fill="#5a5a5a"/><ellipse cx="260.2" cy="82.2" rx="3.2" ry="3.0" fill="#5a5a5a"/><ellipse cx="274.4" cy="82.2" rx="3.2" ry="3.0" fill="#5a5a5a"/><ellipse cx="288.6" cy="82.2" rx="3.2" ry="3.0" fill="#5a5a5a"/><ellipse cx="302.8" cy="82.2" rx="3.2" ry="3.0" fill="#5a5a5a"/><ellipse cx="317" cy="82.2" rx="3.2" ry="3.0" fill="#5a5a5a"/><ellipse cx="331.2" cy="82.2" rx="3.2" ry="3.0" fill="#5a5a5a"/><ellipse cx="345.4" cy="82.2" rx="3.2" ry="3.0" fill="#5a5a5a"/></g>
<g filter="url(#bl1)" opacity="0.85"><ellipse cx="213.35" cy="4" rx="2.2" ry="2.0" fill="#f8f8f8"/><ellipse cx="213.35" cy="10.8" rx="2.2" ry="2.0" fill="#f8f8f8"/><ellipse cx="216.9" cy="7.4" rx="2.4" ry="2.0" fill="#e4e4e4" opacity="0.6"/><ellipse cx="227.55" cy="4" rx="2.2" ry="2.0" fill="#f8f8f8"/><ellipse cx="227.55" cy="10.8" rx="2.2" ry="2.0" fill="#f8f8f8"/><ellipse cx="231.1" cy="7.4" rx="2.4" ry="2.0" fill="#e4e4e4" opacity="0.6"/><ellipse cx="241.75" cy="4" rx="2.2" ry="2.0" fill="#f8f8f8"/><ellipse cx="241.75" cy="10.8" rx="2.2" ry="2.0" fill="#f8f8f8"/><ellipse cx="245.3" cy="7.4" rx="2.4" ry="2.0" fill="#e4e4e4" opacity="0.6"/><ellipse cx="255.95" cy="4" rx="2.2" ry="2.0" fill="#f8f8f8"/><ellipse cx="255.95" cy="10.8" rx="2.2" ry="2.0" fill="#f8f8f8"/><ellipse cx="259.5" cy="7.4" rx="2.4" ry="2.0" fill="#e4e4e4" opacity="0.6"/><ellipse cx="270.15" cy="4" rx="2.2" ry="2.0" fill="#f8f8f8"/><ellipse cx="270.15" cy="10.8" rx="2.2" ry="2.0" fill="#f8f8f8"/><ellipse cx="273.7" cy="7.4" rx="2.4" ry="2.0" fill="#e4e4e4" opacity="0.6"/><ellipse cx="284.35" cy="4" rx="2.2" ry="2.0" fill="#f8f8f8"/><ellipse cx="284.35" cy="10.8" rx="2.2" ry="2.0" fill="#f8f8f8"/><ellipse cx="287.9" cy="7.4" rx="2.4" ry="2.0" fill="#e4e4e4" opacity="0.6"/><ellipse cx="298.55" cy="4" rx="2.2" ry="2.0" fill="#f8f8f8"/><ellipse cx="298.55" cy="10.8" rx="2.2" ry="2.0" fill="#f8f8f8"/><ellipse cx="302.1" cy="7.4" rx="2.4" ry="2.0" fill="#e4e4e4" opacity="0.6"/><ellipse cx="312.75" cy="4" rx="2.2" ry="2.0" fill="#f8f8f8"/><ellipse cx="312.75" cy="10.8" rx="2.2" ry="2.0" fill="#f8f8f8"/><ellipse cx="316.3" cy="7.4" rx="2.4" ry="2.0" fill="#e4e4e4" opacity="0.6"/><ellipse cx="326.95" cy="4" rx="2.2" ry="2.0" fill="#f8f8f8"/><ellipse cx="326.95" cy="10.8" rx="2.2" ry="2.0" fill="#f8f8f8"/><ellipse cx="330.5" cy="7.4" rx="2.4" ry="2.0" fill="#e4e4e4" opacity="0.6"/><ellipse cx="341.15" cy="4" rx="2.2" ry="2.0" fill="#f8f8f8"/><ellipse cx="341.15" cy="10.8" rx="2.2" ry="2.0" fill="#f8f8f8"/><ellipse cx="344.7" cy="7.4" rx="2.4" ry="2.0" fill="#e4e4e4" opacity="0.6"/><ellipse cx="213.35" cy="17" rx="2.2" ry="2.0" fill="#f8f8f8"/><ellipse cx="213.35" cy="23.8" rx="2.2" ry="2.0" fill="#f8f8f8"/><ellipse cx="216.9" cy="20.4" rx="2.4" ry="2.0" fill="#e4e4e4" opacity="0.6"/><ellipse cx="227.55" cy="17" rx="2.2" ry="2.0" fill="#f8f8f8"/><ellipse cx="227.55" cy="23.8" rx="2.2" ry="2.0" fill="#f8f8f8"/><ellipse cx="231.1" cy="20.4" rx="2.4" ry="2.0" fill="#e4e4e4" opacity="0.6"/><ellipse cx="241.75" cy="17" rx="2.2" ry="2.0" fill="#f8f8f8"/><ellipse cx="241.75" cy="23.8" rx="2.2" ry="2.0" fill="#f8f8f8"/><ellipse cx="245.3" cy="20.4" rx="2.4" ry="2.0" fill="#e4e4e4" opacity="0.6"/><ellipse cx="255.95" cy="17" rx="2.2" ry="2.0" fill="#f8f8f8"/><ellipse cx="255.95" cy="23.8" rx="2.2" ry="2.0" fill="#f8f8f8"/><ellipse cx="259.5" cy="20.4" rx="2.4" ry="2.0" fill="#e4e4e4" opacity="0.6"/><ellipse cx="270.15" cy="17" rx="2.2" ry="2.0" fill="#f8f8f8"/><ellipse cx="270.15" cy="23.8" rx="2.2" ry="2.0" fill="#f8f8f8"/><ellipse cx="273.7" cy="20.4" rx="2.4" ry="2.0" fill="#e4e4e4" opacity="0.6"/><ellipse cx="284.35" cy="17" rx="2.2" ry="2.0" fill="#f8f8f8"/><ellipse cx="284.35" cy="23.8" rx="2.2" ry="2.0" fill="#f8f8f8"/><ellipse cx="287.9" cy="20.4" rx="2.4" ry="2.0" fill="#e4e4e4" opacity="0.6"/><ellipse cx="298.55" cy="17" rx="2.2" ry="2.0" fill="#f8f8f8"/><ellipse cx="298.55" cy="23.8" rx="2.2" ry="2.0" fill="#f8f8f8"/><ellipse cx="302.1" cy="20.4" rx="2.4" ry="2.0" fill="#e4e4e4" opacity="0.6"/><ellipse cx="312.75" cy="17" rx="2.2" ry="2.0" fill="#f8f8f8"/><ellipse cx="312.75" cy="23.8" rx="2.2" ry="2.0" fill="#f8f8f8"/><ellipse cx="316.3" cy="20.4" rx="2.4" ry="2.0" fill="#e4e4e4" opacity="0.6"/><ellipse cx="326.95" cy="17" rx="2.2" ry="2.0" fill="#f8f8f8"/><ellipse cx="326.95" cy="23.8" rx="2.2" ry="2.0" fill="#f8f8f8"/><ellipse cx="330.5" cy="20.4" rx="2.4" ry="2.0" fill="#e4e4e4" opacity="0.6"/><ellipse cx="341.15" cy="17" rx="2.2" ry="2.0" fill="#f8f8f8"/><ellipse cx="341.15" cy="23.8" rx="2.2" ry="2.0" fill="#f8f8f8"/><ellipse cx="344.7" cy="20.4" rx="2.4" ry="2.0" fill="#e4e4e4" opacity="0.6"/><ellipse cx="213.35" cy="29.6" rx="2.2" ry="2.0" fill="#f8f8f8"/><ellipse cx="213.35" cy="36.4" rx="2.2" ry="2.0" fill="#f8f8f8"/><ellipse cx="216.9" cy="33" rx="2.4" ry="2.0" fill="#e4e4e4" opacity="0.6"/><ellipse cx="227.55" cy="29.6" rx="2.2" ry="2.0" fill="#f8f8f8"/><ellipse cx="227.55" cy="36.4" rx="2.2" ry="2.0" fill="#f8f8f8"/><ellipse cx="231.1" cy="33" rx="2.4" ry="2.0" fill="#e4e4e4" opacity="0.6"/><ellipse cx="241.75" cy="29.6" rx="2.2" ry="2.0" fill="#f8f8f8"/><ellipse cx="241.75" cy="36.4" rx="2.2" ry="2.0" fill="#f8f8f8"/><ellipse cx="245.3" cy="33" rx="2.4" ry="2.0" fill="#e4e4e4" opacity="0.6"/><ellipse cx="255.95" cy="29.6" rx="2.2" ry="2.0" fill="#f8f8f8"/><ellipse cx="255.95" cy="36.4" rx="2.2" ry="2.0" fill="#f8f8f8"/><ellipse cx="259.5" cy="33" rx="2.4" ry="2.0" fill="#e4e4e4" opacity="0.6"/><ellipse cx="270.15" cy="29.6" rx="2.2" ry="2.0" fill="#f8f8f8"/><ellipse cx="270.15" cy="36.4" rx="2.2" ry="2.0" fill="#f8f8f8"/><ellipse cx="273.7" cy="33" rx="2.4" ry="2.0" fill="#e4e4e4" opacity="0.6"/><ellipse cx="284.35" cy="29.6" rx="2.2" ry="2.0" fill="#f8f8f8"/><ellipse cx="284.35" cy="36.4" rx="2.2" ry="2.0" fill="#f8f8f8"/><ellipse cx="287.9" cy="33" rx="2.4" ry="2.0" fill="#e4e4e4" opacity="0.6"/><ellipse cx="298.55" cy="29.6" rx="2.2" ry="2.0" fill="#f8f8f8"/><ellipse cx="298.55" cy="36.4" rx="2.2" ry="2.0" fill="#f8f8f8"/><ellipse cx="302.1" cy="33" rx="2.4" ry="2.0" fill="#e4e4e4" opacity="0.6"/><ellipse cx="312.75" cy="29.6" rx="2.2" ry="2.0" fill="#f8f8f8"/><ellipse cx="312.75" cy="36.4" rx="2.2" ry="2.0" fill="#f8f8f8"/><ellipse cx="316.3" cy="33" rx="2.4" ry="2.0" fill="#e4e4e4" opacity="0.6"/><ellipse cx="326.95" cy="29.6" rx="2.2" ry="2.0" fill="#f8f8f8"/><ellipse cx="326.95" cy="36.4" rx="2.2" ry="2.0" fill="#f8f8f8"/><ellipse cx="330.5" cy="33" rx="2.4" ry="2.0" fill="#e4e4e4" opacity="0.6"/><ellipse cx="341.15" cy="29.6" rx="2.2" ry="2.0" fill="#f8f8f8"/><ellipse cx="341.15" cy="36.4" rx="2.2" ry="2.0" fill="#f8f8f8"/><ellipse cx="344.7" cy="33" rx="2.4" ry="2.0" fill="#e4e4e4" opacity="0.6"/><ellipse cx="213.35" cy="43.3" rx="2.2" ry="2.0" fill="#f8f8f8"/><ellipse cx="213.35" cy="50.1" rx="2.2" ry="2.0" fill="#f8f8f8"/><ellipse cx="216.9" cy="46.7" rx="2.4" ry="2.0" fill="#e4e4e4" opacity="0.0"/><ellipse cx="227.55" cy="43.3" rx="2.2" ry="2.0" fill="#f8f8f8"/><ellipse cx="227.55" cy="50.1" rx="2.2" ry="2.0" fill="#f8f8f8"/><ellipse cx="231.1" cy="46.7" rx="2.4" ry="2.0" fill="#e4e4e4" opacity="0.0"/><ellipse cx="241.75" cy="43.3" rx="2.2" ry="2.0" fill="#f8f8f8"/><ellipse cx="241.75" cy="50.1" rx="2.2" ry="2.0" fill="#f8f8f8"/><ellipse cx="245.3" cy="46.7" rx="2.4" ry="2.0" fill="#e4e4e4" opacity="0.0"/><ellipse cx="255.95" cy="43.3" rx="2.2" ry="2.0" fill="#f8f8f8"/><ellipse cx="255.95" cy="50.1" rx="2.2" ry="2.0" fill="#f8f8f8"/><ellipse cx="259.5" cy="46.7" rx="2.4" ry="2.0" fill="#e4e4e4" opacity="0.0"/><ellipse cx="270.15" cy="43.3" rx="2.2" ry="2.0" fill="#f8f8f8"/><ellipse cx="270.15" cy="50.1" rx="2.2" ry="2.0" fill="#f8f8f8"/><ellipse cx="273.7" cy="46.7" rx="2.4" ry="2.0" fill="#e4e4e4" opacity="0.0"/><ellipse cx="284.35" cy="43.3" rx="2.2" ry="2.0" fill="#f8f8f8"/><ellipse cx="284.35" cy="50.1" rx="2.2" ry="2.0" fill="#f8f8f8"/><ellipse cx="287.9" cy="46.7" rx="2.4" ry="2.0" fill="#e4e4e4" opacity="0.0"/><ellipse cx="298.55" cy="43.3" rx="2.2" ry="2.0" fill="#f8f8f8"/><ellipse cx="298.55" cy="50.1" rx="2.2" ry="2.0" fill="#f8f8f8"/><ellipse cx="302.1" cy="46.7" rx="2.4" ry="2.0" fill="#e4e4e4" opacity="0.0"/><ellipse cx="312.75" cy="43.3" rx="2.2" ry="2.0" fill="#f8f8f8"/><ellipse cx="312.75" cy="50.1" rx="2.2" ry="2.0" fill="#f8f8f8"/><ellipse cx="316.3" cy="46.7" rx="2.4" ry="2.0" fill="#e4e4e4" opacity="0.0"/><ellipse cx="326.95" cy="43.3" rx="2.2" ry="2.0" fill="#f8f8f8"/><ellipse cx="326.95" cy="50.1" rx="2.2" ry="2.0" fill="#f8f8f8"/><ellipse cx="330.5" cy="46.7" rx="2.4" ry="2.0" fill="#e4e4e4" opacity="0.0"/><ellipse cx="341.15" cy="43.3" rx="2.2" ry="2.0" fill="#f8f8f8"/><ellipse cx="341.15" cy="50.1" rx="2.2" ry="2.0" fill="#f8f8f8"/><ellipse cx="344.7" cy="46.7" rx="2.4" ry="2.0" fill="#e4e4e4" opacity="0.0"/><ellipse cx="213.35" cy="57.6" rx="2.2" ry="2.0" fill="#f8f8f8"/><ellipse cx="213.35" cy="64.4" rx="2.2" ry="2.0" fill="#f8f8f8"/><ellipse cx="216.9" cy="61" rx="2.4" ry="2.0" fill="#e4e4e4" opacity="0.0"/><ellipse cx="227.55" cy="57.6" rx="2.2" ry="2.0" fill="#f8f8f8"/><ellipse cx="227.55" cy="64.4" rx="2.2" ry="2.0" fill="#f8f8f8"/><ellipse cx="231.1" cy="61" rx="2.4" ry="2.0" fill="#e4e4e4" opacity="0.0"/><ellipse cx="241.75" cy="57.6" rx="2.2" ry="2.0" fill="#f8f8f8"/><ellipse cx="241.75" cy="64.4" rx="2.2" ry="2.0" fill="#f8f8f8"/><ellipse cx="245.3" cy="61" rx="2.4" ry="2.0" fill="#e4e4e4" opacity="0.0"/><ellipse cx="255.95" cy="57.6" rx="2.2" ry="2.0" fill="#f8f8f8"/><ellipse cx="255.95" cy="64.4" rx="2.2" ry="2.0" fill="#f8f8f8"/><ellipse cx="259.5" cy="61" rx="2.4" ry="2.0" fill="#e4e4e4" opacity="0.0"/><ellipse cx="270.15" cy="57.6" rx="2.2" ry="2.0" fill="#f8f8f8"/><ellipse cx="270.15" cy="64.4" rx="2.2" ry="2.0" fill="#f8f8f8"/><ellipse cx="273.7" cy="61" rx="2.4" ry="2.0" fill="#e4e4e4" opacity="0.0"/><ellipse cx="284.35" cy="57.6" rx="2.2" ry="2.0" fill="#f8f8f8"/><ellipse cx="284.35" cy="64.4" rx="2.2" ry="2.0" fill="#f8f8f8"/><ellipse cx="287.9" cy="61" rx="2.4" ry="2.0" fill="#e4e4e4" opacity="0.0"/><ellipse cx="298.55" cy="57.6" rx="2.2" ry="2.0" fill="#f8f8f8"/><ellipse cx="298.55" cy="64.4" rx="2.2" ry="2.0" fill="#f8f8f8"/><ellipse cx="302.1" cy="61" rx="2.4" ry="2.0" fill="#e4e4e4" opacity="0.0"/><ellipse cx="312.75" cy="57.6" rx="2.2" ry="2.0" fill="#f8f8f8"/><ellipse cx="312.75" cy="64.4" rx="2.2" ry="2.0" fill="#f8f8f8"/><ellipse cx="316.3" cy="61" rx="2.4" ry="2.0" fill="#e4e4e4" opacity="0.0"/><ellipse cx="326.95" cy="57.6" rx="2.2" ry="2.0" fill="#f8f8f8"/><ellipse cx="326.95" cy="64.4" rx="2.2" ry="2.0" fill="#f8f8f8"/><ellipse cx="330.5" cy="61" rx="2.4" ry="2.0" fill="#e4e4e4" opacity="0.0"/><ellipse cx="341.15" cy="57.6" rx="2.2" ry="2.0" fill="#f8f8f8"/><ellipse cx="341.15" cy="64.4" rx="2.2" ry="2.0" fill="#f8f8f8"/><ellipse cx="344.7" cy="61" rx="2.4" ry="2.0" fill="#e4e4e4" opacity="0.0"/><ellipse cx="213.35" cy="71.7" rx="2.2" ry="2.0" fill="#f8f8f8"/><ellipse cx="213.35" cy="78.5" rx="2.2" ry="2.0" fill="#f8f8f8"/><ellipse cx="216.9" cy="75.1" rx="2.4" ry="2.0" fill="#e4e4e4" opacity="0.0"/><ellipse cx="227.55" cy="71.7" rx="2.2" ry="2.0" fill="#f8f8f8"/><ellipse cx="227.55" cy="78.5" rx="2.2" ry="2.0" fill="#f8f8f8"/><ellipse cx="231.1" cy="75.1" rx="2.4" ry="2.0" fill="#e4e4e4" opacity="0.0"/><ellipse cx="241.75" cy="71.7" rx="2.2" ry="2.0" fill="#f8f8f8"/><ellipse cx="241.75" cy="78.5" rx="2.2" ry="2.0" fill="#f8f8f8"/><ellipse cx="245.3" cy="75.1" rx="2.4" ry="2.0" fill="#e4e4e4" opacity="0.0"/><ellipse cx="255.95" cy="71.7" rx="2.2" ry="2.0" fill="#f8f8f8"/><ellipse cx="255.95" cy="78.5" rx="2.2" ry="2.0" fill="#f8f8f8"/><ellipse cx="259.5" cy="75.1" rx="2.4" ry="2.0" fill="#e4e4e4" opacity="0.0"/><ellipse cx="270.15" cy="71.7" rx="2.2" ry="2.0" fill="#f8f8f8"/><ellipse cx="270.15" cy="78.5" rx="2.2" ry="2.0" fill="#f8f8f8"/><ellipse cx="273.7" cy="75.1" rx="2.4" ry="2.0" fill="#e4e4e4" opacity="0.0"/><ellipse cx="284.35" cy="71.7" rx="2.2" ry="2.0" fill="#f8f8f8"/><ellipse cx="284.35" cy="78.5" rx="2.2" ry="2.0" fill="#f8f8f8"/><ellipse cx="287.9" cy="75.1" rx="2.4" ry="2.0" fill="#e4e4e4" opacity="0.0"/><ellipse cx="298.55" cy="71.7" rx="2.2" ry="2.0" fill="#f8f8f8"/><ellipse cx="298.55" cy="78.5" rx="2.2" ry="2.0" fill="#f8f8f8"/><ellipse cx="302.1" cy="75.1" rx="2.4" ry="2.0" fill="#e4e4e4" opacity="0.0"/><ellipse cx="312.75" cy="71.7" rx="2.2" ry="2.0" fill="#f8f8f8"/><ellipse cx="312.75" cy="78.5" rx="2.2" ry="2.0" fill="#f8f8f8"/><ellipse cx="316.3" cy="75.1" rx="2.4" ry="2.0" fill="#e4e4e4" opacity="0.0"/><ellipse cx="326.95" cy="71.7" rx="2.2" ry="2.0" fill="#f8f8f8"/><ellipse cx="326.95" cy="78.5" rx="2.2" ry="2.0" fill="#f8f8f8"/><ellipse cx="330.5" cy="75.1" rx="2.4" ry="2.0" fill="#e4e4e4" opacity="0.0"/><ellipse cx="341.15" cy="71.7" rx="2.2" ry="2.0" fill="#f8f8f8"/><ellipse cx="341.15" cy="78.5" rx="2.2" ry="2.0" fill="#f8f8f8"/><ellipse cx="344.7" cy="75.1" rx="2.4" ry="2.0" fill="#e4e4e4" opacity="0.0"/><ellipse cx="213.35" cy="85.3" rx="2.2" ry="2.0" fill="#f8f8f8"/><ellipse cx="213.35" cy="92.1" rx="2.2" ry="2.0" fill="#f8f8f8"/><ellipse cx="216.9" cy="88.7" rx="2.4" ry="2.0" fill="#e4e4e4" opacity="0.0"/><ellipse cx="227.55" cy="85.3" rx="2.2" ry="2.0" fill="#f8f8f8"/><ellipse cx="227.55" cy="92.1" rx="2.2" ry="2.0" fill="#f8f8f8"/><ellipse cx="231.1" cy="88.7" rx="2.4" ry="2.0" fill="#e4e4e4" opacity="0.0"/><ellipse cx="241.75" cy="85.3" rx="2.2" ry="2.0" fill="#f8f8f8"/><ellipse cx="241.75" cy="92.1" rx="2.2" ry="2.0" fill="#f8f8f8"/><ellipse cx="245.3" cy="88.7" rx="2.4" ry="2.0" fill="#e4e4e4" opacity="0.0"/><ellipse cx="255.95" cy="85.3" rx="2.2" ry="2.0" fill="#f8f8f8"/><ellipse cx="255.95" cy="92.1" rx="2.2" ry="2.0" fill="#f8f8f8"/><ellipse cx="259.5" cy="88.7" rx="2.4" ry="2.0" fill="#e4e4e4" opacity="0.0"/><ellipse cx="270.15" cy="85.3" rx="2.2" ry="2.0" fill="#f8f8f8"/><ellipse cx="270.15" cy="92.1" rx="2.2" ry="2.0" fill="#f8f8f8"/><ellipse cx="273.7" cy="88.7" rx="2.4" ry="2.0" fill="#e4e4e4" opacity="0.0"/><ellipse cx="284.35" cy="85.3" rx="2.2" ry="2.0" fill="#f8f8f8"/><ellipse cx="284.35" cy="92.1" rx="2.2" ry="2.0" fill="#f8f8f8"/><ellipse cx="287.9" cy="88.7" rx="2.4" ry="2.0" fill="#e4e4e4" opacity="0.0"/><ellipse cx="298.55" cy="85.3" rx="2.2" ry="2.0" fill="#f8f8f8"/><ellipse cx="298.55" cy="92.1" rx="2.2" ry="2.0" fill="#f8f8f8"/><ellipse cx="302.1" cy="88.7" rx="2.4" ry="2.0" fill="#e4e4e4" opacity="0.0"/><ellipse cx="312.75" cy="85.3" rx="2.2" ry="2.0" fill="#f8f8f8"/><ellipse cx="312.75" cy="92.1" rx="2.2" ry="2.0" fill="#f8f8f8"/><ellipse cx="316.3" cy="88.7" rx="2.4" ry="2.0" fill="#e4e4e4" opacity="0.0"/><ellipse cx="326.95" cy="85.3" rx="2.2" ry="2.0" fill="#f8f8f8"/><ellipse cx="326.95" cy="92.1" rx="2.2" ry="2.0" fill="#f8f8f8"/><ellipse cx="330.5" cy="88.7" rx="2.4" ry="2.0" fill="#e4e4e4" opacity="0.0"/><ellipse cx="341.15" cy="85.3" rx="2.2" ry="2.0" fill="#f8f8f8"/><ellipse cx="341.15" cy="92.1" rx="2.2" ry="2.0" fill="#f8f8f8"/><ellipse cx="344.7" cy="88.7" rx="2.4" ry="2.0" fill="#e4e4e4" opacity="0.0"/><ellipse cx="221.15" cy="4.2" rx="2.2" ry="2.0" fill="#f8f8f8"/><ellipse cx="221.15" cy="-2.6" rx="2.2" ry="2.0" fill="#f8f8f8"/><ellipse cx="235.35" cy="4.2" rx="2.2" ry="2.0" fill="#f8f8f8"/><ellipse cx="235.35" cy="-2.6" rx="2.2" ry="2.0" fill="#f8f8f8"/><ellipse cx="249.55" cy="4.2" rx="2.2" ry="2.0" fill="#f8f8f8"/><ellipse cx="249.55" cy="-2.6" rx="2.2" ry="2.0" fill="#f8f8f8"/><ellipse cx="263.75" cy="4.2" rx="2.2" ry="2.0" fill="#f8f8f8"/><ellipse cx="263.75" cy="-2.6" rx="2.2" ry="2.0" fill="#f8f8f8"/><ellipse cx="277.95" cy="4.2" rx="2.2" ry="2.0" fill="#f8f8f8"/><ellipse cx="277.95" cy="-2.6" rx="2.2" ry="2.0" fill="#f8f8f8"/><ellipse cx="292.15" cy="4.2" rx="2.2" ry="2.0" fill="#f8f8f8"/><ellipse cx="292.15" cy="-2.6" rx="2.2" ry="2.0" fill="#f8f8f8"/><ellipse cx="306.35" cy="4.2" rx="2.2" ry="2.0" fill="#f8f8f8"/><ellipse cx="306.35" cy="-2.6" rx="2.2" ry="2.0" fill="#f8f8f8"/><ellipse cx="320.55" cy="4.2" rx="2.2" ry="2.0" fill="#f8f8f8"/><ellipse cx="320.55" cy="-2.6" rx="2.2" ry="2.0" fill="#f8f8f8"/><ellipse cx="334.75" cy="4.2" rx="2.2" ry="2.0" fill="#f8f8f8"/><ellipse cx="334.75" cy="-2.6" rx="2.2" ry="2.0" fill="#f8f8f8"/><ellipse cx="348.95" cy="4.2" rx="2.2" ry="2.0" fill="#f8f8f8"/><ellipse cx="348.95" cy="-2.6" rx="2.2" ry="2.0" fill="#f8f8f8"/><ellipse cx="221.15" cy="17.3" rx="2.2" ry="2.0" fill="#f8f8f8"/><ellipse cx="221.15" cy="10.5" rx="2.2" ry="2.0" fill="#f8f8f8"/><ellipse cx="235.35" cy="17.3" rx="2.2" ry="2.0" fill="#f8f8f8"/><ellipse cx="235.35" cy="10.5" rx="2.2" ry="2.0" fill="#f8f8f8"/><ellipse cx="249.55" cy="17.3" rx="2.2" ry="2.0" fill="#f8f8f8"/><ellipse cx="249.55" cy="10.5" rx="2.2" ry="2.0" fill="#f8f8f8"/><ellipse cx="263.75" cy="17.3" rx="2.2" ry="2.0" fill="#f8f8f8"/><ellipse cx="263.75" cy="10.5" rx="2.2" ry="2.0" fill="#f8f8f8"/><ellipse cx="277.95" cy="17.3" rx="2.2" ry="2.0" fill="#f8f8f8"/><ellipse cx="277.95" cy="10.5" rx="2.2" ry="2.0" fill="#f8f8f8"/><ellipse cx="292.15" cy="17.3" rx="2.2" ry="2.0" fill="#f8f8f8"/><ellipse cx="292.15" cy="10.5" rx="2.2" ry="2.0" fill="#f8f8f8"/><ellipse cx="306.35" cy="17.3" rx="2.2" ry="2.0" fill="#f8f8f8"/><ellipse cx="306.35" cy="10.5" rx="2.2" ry="2.0" fill="#f8f8f8"/><ellipse cx="320.55" cy="17.3" rx="2.2" ry="2.0" fill="#f8f8f8"/><ellipse cx="320.55" cy="10.5" rx="2.2" ry="2.0" fill="#f8f8f8"/><ellipse cx="334.75" cy="17.3" rx="2.2" ry="2.0" fill="#f8f8f8"/><ellipse cx="334.75" cy="10.5" rx="2.2" ry="2.0" fill="#f8f8f8"/><ellipse cx="348.95" cy="17.3" rx="2.2" ry="2.0" fill="#f8f8f8"/><ellipse cx="348.95" cy="10.5" rx="2.2" ry="2.0" fill="#f8f8f8"/><ellipse cx="221.15" cy="30.3" rx="2.2" ry="2.0" fill="#f8f8f8"/><ellipse cx="221.15" cy="23.5" rx="2.2" ry="2.0" fill="#f8f8f8"/><ellipse cx="235.35" cy="30.3" rx="2.2" ry="2.0" fill="#f8f8f8"/><ellipse cx="235.35" cy="23.5" rx="2.2" ry="2.0" fill="#f8f8f8"/><ellipse cx="249.55" cy="30.3" rx="2.2" ry="2.0" fill="#f8f8f8"/><ellipse cx="249.55" cy="23.5" rx="2.2" ry="2.0" fill="#f8f8f8"/><ellipse cx="263.75" cy="30.3" rx="2.2" ry="2.0" fill="#f8f8f8"/><ellipse cx="263.75" cy="23.5" rx="2.2" ry="2.0" fill="#f8f8f8"/><ellipse cx="277.95" cy="30.3" rx="2.2" ry="2.0" fill="#f8f8f8"/><ellipse cx="277.95" cy="23.5" rx="2.2" ry="2.0" fill="#f8f8f8"/><ellipse cx="292.15" cy="30.3" rx="2.2" ry="2.0" fill="#f8f8f8"/><ellipse cx="292.15" cy="23.5" rx="2.2" ry="2.0" fill="#f8f8f8"/><ellipse cx="306.35" cy="30.3" rx="2.2" ry="2.0" fill="#f8f8f8"/><ellipse cx="306.35" cy="23.5" rx="2.2" ry="2.0" fill="#f8f8f8"/><ellipse cx="320.55" cy="30.3" rx="2.2" ry="2.0" fill="#f8f8f8"/><ellipse cx="320.55" cy="23.5" rx="2.2" ry="2.0" fill="#f8f8f8"/><ellipse cx="334.75" cy="30.3" rx="2.2" ry="2.0" fill="#f8f8f8"/><ellipse cx="334.75" cy="23.5" rx="2.2" ry="2.0" fill="#f8f8f8"/><ellipse cx="348.95" cy="30.3" rx="2.2" ry="2.0" fill="#f8f8f8"/><ellipse cx="348.95" cy="23.5" rx="2.2" ry="2.0" fill="#f8f8f8"/><ellipse cx="221.15" cy="43" rx="2.2" ry="2.0" fill="#f8f8f8"/><ellipse cx="221.15" cy="36.2" rx="2.2" ry="2.0" fill="#f8f8f8"/><ellipse cx="235.35" cy="43" rx="2.2" ry="2.0" fill="#f8f8f8"/><ellipse cx="235.35" cy="36.2" rx="2.2" ry="2.0" fill="#f8f8f8"/><ellipse cx="249.55" cy="43" rx="2.2" ry="2.0" fill="#f8f8f8"/><ellipse cx="249.55" cy="36.2" rx="2.2" ry="2.0" fill="#f8f8f8"/><ellipse cx="263.75" cy="43" rx="2.2" ry="2.0" fill="#f8f8f8"/><ellipse cx="263.75" cy="36.2" rx="2.2" ry="2.0" fill="#f8f8f8"/><ellipse cx="277.95" cy="43" rx="2.2" ry="2.0" fill="#f8f8f8"/><ellipse cx="277.95" cy="36.2" rx="2.2" ry="2.0" fill="#f8f8f8"/><ellipse cx="292.15" cy="43" rx="2.2" ry="2.0" fill="#f8f8f8"/><ellipse cx="292.15" cy="36.2" rx="2.2" ry="2.0" fill="#f8f8f8"/><ellipse cx="306.35" cy="43" rx="2.2" ry="2.0" fill="#f8f8f8"/><ellipse cx="306.35" cy="36.2" rx="2.2" ry="2.0" fill="#f8f8f8"/><ellipse cx="320.55" cy="43" rx="2.2" ry="2.0" fill="#f8f8f8"/><ellipse cx="320.55" cy="36.2" rx="2.2" ry="2.0" fill="#f8f8f8"/><ellipse cx="334.75" cy="43" rx="2.2" ry="2.0" fill="#f8f8f8"/><ellipse cx="334.75" cy="36.2" rx="2.2" ry="2.0" fill="#f8f8f8"/><ellipse cx="348.95" cy="43" rx="2.2" ry="2.0" fill="#f8f8f8"/><ellipse cx="348.95" cy="36.2" rx="2.2" ry="2.0" fill="#f8f8f8"/><ellipse cx="221.15" cy="57.3" rx="2.2" ry="2.0" fill="#f8f8f8"/><ellipse cx="221.15" cy="50.5" rx="2.2" ry="2.0" fill="#f8f8f8"/><ellipse cx="235.35" cy="57.3" rx="2.2" ry="2.0" fill="#f8f8f8"/><ellipse cx="235.35" cy="50.5" rx="2.2" ry="2.0" fill="#f8f8f8"/><ellipse cx="249.55" cy="57.3" rx="2.2" ry="2.0" fill="#f8f8f8"/><ellipse cx="249.55" cy="50.5" rx="2.2" ry="2.0" fill="#f8f8f8"/><ellipse cx="263.75" cy="57.3" rx="2.2" ry="2.0" fill="#f8f8f8"/><ellipse cx="263.75" cy="50.5" rx="2.2" ry="2.0" fill="#f8f8f8"/><ellipse cx="277.95" cy="57.3" rx="2.2" ry="2.0" fill="#f8f8f8"/><ellipse cx="277.95" cy="50.5" rx="2.2" ry="2.0" fill="#f8f8f8"/><ellipse cx="292.15" cy="57.3" rx="2.2" ry="2.0" fill="#f8f8f8"/><ellipse cx="292.15" cy="50.5" rx="2.2" ry="2.0" fill="#f8f8f8"/><ellipse cx="306.35" cy="57.3" rx="2.2" ry="2.0" fill="#f8f8f8"/><ellipse cx="306.35" cy="50.5" rx="2.2" ry="2.0" fill="#f8f8f8"/><ellipse cx="320.55" cy="57.3" rx="2.2" ry="2.0" fill="#f8f8f8"/><ellipse cx="320.55" cy="50.5" rx="2.2" ry="2.0" fill="#f8f8f8"/><ellipse cx="334.75" cy="57.3" rx="2.2" ry="2.0" fill="#f8f8f8"/><ellipse cx="334.75" cy="50.5" rx="2.2" ry="2.0" fill="#f8f8f8"/><ellipse cx="348.95" cy="57.3" rx="2.2" ry="2.0" fill="#f8f8f8"/><ellipse cx="348.95" cy="50.5" rx="2.2" ry="2.0" fill="#f8f8f8"/><ellipse cx="221.15" cy="71.6" rx="2.2" ry="2.0" fill="#f8f8f8"/><ellipse cx="221.15" cy="64.8" rx="2.2" ry="2.0" fill="#f8f8f8"/><ellipse cx="235.35" cy="71.6" rx="2.2" ry="2.0" fill="#f8f8f8"/><ellipse cx="235.35" cy="64.8" rx="2.2" ry="2.0" fill="#f8f8f8"/><ellipse cx="249.55" cy="71.6" rx="2.2" ry="2.0" fill="#f8f8f8"/><ellipse cx="249.55" cy="64.8" rx="2.2" ry="2.0" fill="#f8f8f8"/><ellipse cx="263.75" cy="71.6" rx="2.2" ry="2.0" fill="#f8f8f8"/><ellipse cx="263.75" cy="64.8" rx="2.2" ry="2.0" fill="#f8f8f8"/><ellipse cx="277.95" cy="71.6" rx="2.2" ry="2.0" fill="#f8f8f8"/><ellipse cx="277.95" cy="64.8" rx="2.2" ry="2.0" fill="#f8f8f8"/><ellipse cx="292.15" cy="71.6" rx="2.2" ry="2.0" fill="#f8f8f8"/><ellipse cx="292.15" cy="64.8" rx="2.2" ry="2.0" fill="#f8f8f8"/><ellipse cx="306.35" cy="71.6" rx="2.2" ry="2.0" fill="#f8f8f8"/><ellipse cx="306.35" cy="64.8" rx="2.2" ry="2.0" fill="#f8f8f8"/><ellipse cx="320.55" cy="71.6" rx="2.2" ry="2.0" fill="#f8f8f8"/><ellipse cx="320.55" cy="64.8" rx="2.2" ry="2.0" fill="#f8f8f8"/><ellipse cx="334.75" cy="71.6" rx="2.2" ry="2.0" fill="#f8f8f8"/><ellipse cx="334.75" cy="64.8" rx="2.2" ry="2.0" fill="#f8f8f8"/><ellipse cx="348.95" cy="71.6" rx="2.2" ry="2.0" fill="#f8f8f8"/><ellipse cx="348.95" cy="64.8" rx="2.2" ry="2.0" fill="#f8f8f8"/><ellipse cx="221.15" cy="85.6" rx="2.2" ry="2.0" fill="#f8f8f8"/><ellipse cx="221.15" cy="78.8" rx="2.2" ry="2.0" fill="#f8f8f8"/><ellipse cx="235.35" cy="85.6" rx="2.2" ry="2.0" fill="#f8f8f8"/><ellipse cx="235.35" cy="78.8" rx="2.2" ry="2.0" fill="#f8f8f8"/><ellipse cx="249.55" cy="85.6" rx="2.2" ry="2.0" fill="#f8f8f8"/><ellipse cx="249.55" cy="78.8" rx="2.2" ry="2.0" fill="#f8f8f8"/><ellipse cx="263.75" cy="85.6" rx="2.2" ry="2.0" fill="#f8f8f8"/><ellipse cx="263.75" cy="78.8" rx="2.2" ry="2.0" fill="#f8f8f8"/><ellipse cx="277.95" cy="85.6" rx="2.2" ry="2.0" fill="#f8f8f8"/><ellipse cx="277.95" cy="78.8" rx="2.2" ry="2.0" fill="#f8f8f8"/><ellipse cx="292.15" cy="85.6" rx="2.2" ry="2.0" fill="#f8f8f8"/><ellipse cx="292.15" cy="78.8" rx="2.2" ry="2.0" fill="#f8f8f8"/><ellipse cx="306.35" cy="85.6" rx="2.2" ry="2.0" fill="#f8f8f8"/><ellipse cx="306.35" cy="78.8" rx="2.2" ry="2.0" fill="#f8f8f8"/><ellipse cx="320.55" cy="85.6" rx="2.2" ry="2.0" fill="#f8f8f8"/><ellipse cx="320.55" cy="78.8" rx="2.2" ry="2.0" fill="#f8f8f8"/><ellipse cx="334.75" cy="85.6" rx="2.2" ry="2.0" fill="#f8f8f8"/><ellipse cx="334.75" cy="78.8" rx="2.2" ry="2.0" fill="#f8f8f8"/><ellipse cx="348.95" cy="85.6" rx="2.2" ry="2.0" fill="#f8f8f8"/><ellipse cx="348.95" cy="78.8" rx="2.2" ry="2.0" fill="#f8f8f8"/></g>
<g filter="url(#bl4)" opacity="0.3"><circle cx="324.59" cy="74.41" r="1.23" fill="rgb(225,225,225)"/><circle cx="226.73" cy="37.31" r="1.33" fill="rgb(225,225,225)"/><circle cx="225.6" cy="8.06" r="1.52" fill="rgb(70,70,70)"/><circle cx="250.26" cy="41.81" r="1.78" fill="rgb(250,250,250)"/><circle cx="336.67" cy="77.59" r="1.39" fill="rgb(70,70,70)"/><circle cx="307.87" cy="9.11" r="1.44" fill="rgb(90,90,90)"/><circle cx="255.07" cy="80.68" r="1.54" fill="rgb(70,70,70)"/><circle cx="333.07" cy="23.67" r="1.72" fill="rgb(70,70,70)"/><circle cx="333.35" cy="5.42" r="1" fill="rgb(240,240,240)"/><circle cx="285.29" cy="41.96" r="1.16" fill="rgb(240,240,240)"/><circle cx="262.04" cy="74.26" r="1.12" fill="rgb(70,70,70)"/><circle cx="310.72" cy="43" r="1.64" fill="rgb(90,90,90)"/><circle cx="250.39" cy="31.75" r="1.41" fill="rgb(70,70,70)"/><circle cx="285.68" cy="24.44" r="1.01" fill="rgb(240,240,240)"/><circle cx="341.3" cy="11.3" r="1.29" fill="rgb(250,250,250)"/><circle cx="343.62" cy="38.71" r="1.75" fill="rgb(250,250,250)"/><circle cx="292.17" cy="24.79" r="1.54" fill="rgb(90,90,90)"/><circle cx="308.85" cy="44.34" r="1.18" fill="rgb(240,240,240)"/><circle cx="303.21" cy="13.16" r="1.51" fill="rgb(70,70,70)"/><circle cx="268.76" cy="73.59" r="1.16" fill="rgb(240,240,240)"/><circle cx="270.58" cy="73.54" r="1.57" fill="rgb(250,250,250)"/><circle cx="299.51" cy="86.04" r="1.79" fill="rgb(90,90,90)"/><circle cx="314" cy="74.49" r="1.57" fill="rgb(70,70,70)"/><circle cx="330.15" cy="38.87" r="1.44" fill="rgb(70,70,70)"/><circle cx="282.18" cy="87.57" r="1.32" fill="rgb(240,240,240)"/><circle cx="219.82" cy="40.52" r="1.51" fill="rgb(90,90,90)"/><circle cx="341.53" cy="84.53" r="1.79" fill="rgb(225,225,225)"/><circle cx="244.15" cy="75.75" r="1.13" fill="rgb(90,90,90)"/><circle cx="272.48" cy="10.22" r="1.66" fill="rgb(70,70,70)"/><circle cx="237.91" cy="49.87" r="1.21" fill="rgb(250,250,250)"/><circle cx="283.78" cy="52.15" r="1.69" fill="rgb(240,240,240)"/><circle cx="256.01" cy="42.88" r="1.05" fill="rgb(70,70,70)"/><circle cx="220.06" cy="20.86" r="1.74" fill="rgb(240,240,240)"/><circle cx="335.63" cy="45.8" r="1.36" fill="rgb(90,90,90)"/><circle cx="306.61" cy="78.86" r="1.63" fill="rgb(90,90,90)"/><circle cx="271.69" cy="55.72" r="1.59" fill="rgb(90,90,90)"/><circle cx="285.03" cy="64.17" r="1" fill="rgb(240,240,240)"/><circle cx="224.79" cy="16.83" r="1.17" fill="rgb(240,240,240)"/><circle cx="246.18" cy="8.08" r="1.48" fill="rgb(250,250,250)"/><circle cx="335.16" cy="34.35" r="1.29" fill="rgb(90,90,90)"/><circle cx="274" cy="63.26" r="1.75" fill="rgb(70,70,70)"/><circle cx="268.65" cy="65.57" r="1.27" fill="rgb(240,240,240)"/><circle cx="327.07" cy="23.96" r="1.4" fill="rgb(240,240,240)"/><circle cx="314.21" cy="50.56" r="1.25" fill="rgb(250,250,250)"/><circle cx="284.11" cy="8.21" r="1.42" fill="rgb(90,90,90)"/><circle cx="281.88" cy="76.62" r="1.02" fill="rgb(70,70,70)"/><circle cx="292.26" cy="46.68" r="1.58" fill="rgb(250,250,250)"/><circle cx="288.07" cy="53.01" r="1.39" fill="rgb(225,225,225)"/><circle cx="299.86" cy="25.49" r="1.54" fill="rgb(90,90,90)"/><circle cx="244.6" cy="90.36" r="1.6" fill="rgb(225,225,225)"/><circle cx="344.18" cy="29.49" r="1.21" fill="rgb(250,250,250)"/><circle cx="225.78" cy="5.26" r="1.2" fill="rgb(225,225,225)"/><circle cx="331.92" cy="18.11" r="1.2" fill="rgb(90,90,90)"/><circle cx="228.25" cy="20.62" r="1.54" fill="rgb(240,240,240)"/><circle cx="285.07" cy="51.79" r="1.22" fill="rgb(70,70,70)"/><circle cx="283.33" cy="84.42" r="1.16" fill="rgb(225,225,225)"/><circle cx="315.18" cy="25.75" r="1.26" fill="rgb(225,225,225)"/><circle cx="231.79" cy="85.55" r="1.29" fill="rgb(70,70,70)"/><circle cx="242.61" cy="3.8" r="1.17" fill="rgb(225,225,225)"/><circle cx="274.12" cy="56.38" r="1.78" fill="rgb(70,70,70)"/><circle cx="335.73" cy="24.97" r="1.74" fill="rgb(90,90,90)"/><circle cx="232.94" cy="78.44" r="1.32" fill="rgb(240,240,240)"/><circle cx="321.55" cy="31.99" r="1.41" fill="rgb(250,250,250)"/><circle cx="233.31" cy="70.21" r="1.66" fill="rgb(240,240,240)"/><circle cx="282.63" cy="37.71" r="1.3" fill="rgb(90,90,90)"/><circle cx="334.31" cy="40.38" r="1.3" fill="rgb(250,250,250)"/><circle cx="266.79" cy="9.04" r="1.18" fill="rgb(225,225,225)"/><circle cx="227.82" cy="51.13" r="1.35" fill="rgb(90,90,90)"/><circle cx="222.97" cy="17.43" r="1.11" fill="rgb(240,240,240)"/><circle cx="268.34" cy="86.9" r="1.09" fill="rgb(250,250,250)"/><circle cx="273.1" cy="73.82" r="1.05" fill="rgb(250,250,250)"/><circle cx="340.87" cy="63.6" r="1.21" fill="rgb(70,70,70)"/><circle cx="282.28" cy="25.56" r="1.76" fill="rgb(240,240,240)"/><circle cx="228.95" cy="49.6" r="1.15" fill="rgb(250,250,250)"/><circle cx="272.39" cy="68.58" r="1.15" fill="rgb(240,240,240)"/><circle cx="263" cy="40.97" r="1.31" fill="rgb(240,240,240)"/><circle cx="308.58" cy="72.7" r="1.35" fill="rgb(70,70,70)"/><circle cx="228.47" cy="35.86" r="1.76" fill="rgb(90,90,90)"/><circle cx="285.13" cy="52.5" r="1.45" fill="rgb(250,250,250)"/><circle cx="324.52" cy="26.49" r="1.25" fill="rgb(240,240,240)"/><circle cx="335.25" cy="47.49" r="1.11" fill="rgb(70,70,70)"/><circle cx="321.75" cy="45.14" r="1.38" fill="rgb(250,250,250)"/><circle cx="334.5" cy="15.22" r="1.2" fill="rgb(240,240,240)"/><circle cx="264.37" cy="75.23" r="1.32" fill="rgb(225,225,225)"/><circle cx="321.91" cy="4.98" r="1.76" fill="rgb(90,90,90)"/><circle cx="308.11" cy="21" r="1.53" fill="rgb(250,250,250)"/><circle cx="244.49" cy="36.44" r="1.06" fill="rgb(70,70,70)"/><circle cx="240.25" cy="19.69" r="1.67" fill="rgb(70,70,70)"/><circle cx="251.5" cy="75.94" r="1.05" fill="rgb(250,250,250)"/><circle cx="227.63" cy="85.23" r="1.65" fill="rgb(70,70,70)"/><circle cx="221.73" cy="85.22" r="1.21" fill="rgb(240,240,240)"/><circle cx="295.85" cy="21.7" r="1.78" fill="rgb(90,90,90)"/><circle cx="267.42" cy="53.71" r="1.23" fill="rgb(250,250,250)"/><circle cx="315.42" cy="90.53" r="1.48" fill="rgb(225,225,225)"/><circle cx="230.61" cy="74.42" r="1.39" fill="rgb(225,225,225)"/><circle cx="304.96" cy="26.64" r="1.24" fill="rgb(240,240,240)"/><circle cx="286.85" cy="9.78" r="1.15" fill="rgb(90,90,90)"/><circle cx="252.78" cy="82.45" r="1.47" fill="rgb(225,225,225)"/><circle cx="251.48" cy="64.89" r="1.72" fill="rgb(240,240,240)"/><circle cx="323.79" cy="32.87" r="1.47" fill="rgb(250,250,250)"/><circle cx="295.92" cy="11.53" r="1.42" fill="rgb(225,225,225)"/><circle cx="287.71" cy="68.24" r="1.06" fill="rgb(240,240,240)"/><circle cx="247.4" cy="90.13" r="1.2" fill="rgb(70,70,70)"/><circle cx="229.06" cy="31.11" r="1.45" fill="rgb(90,90,90)"/><circle cx="224.8" cy="29.06" r="1.12" fill="rgb(225,225,225)"/><circle cx="322.88" cy="87.9" r="1.73" fill="rgb(90,90,90)"/><circle cx="277.14" cy="9.6" r="1.42" fill="rgb(240,240,240)"/><circle cx="269.25" cy="67.7" r="1.59" fill="rgb(90,90,90)"/><circle cx="336.54" cy="44.8" r="1.73" fill="rgb(70,70,70)"/><circle cx="334.93" cy="14.88" r="1.17" fill="rgb(90,90,90)"/><circle cx="305.71" cy="75.54" r="1.02" fill="rgb(90,90,90)"/><circle cx="244.35" cy="40.77" r="1.44" fill="rgb(250,250,250)"/><circle cx="321.13" cy="52.46" r="1.19" fill="rgb(250,250,250)"/><circle cx="304.41" cy="54.7" r="1.76" fill="rgb(225,225,225)"/><circle cx="244.43" cy="14.7" r="1.26" fill="rgb(240,240,240)"/><circle cx="278.73" cy="18.79" r="1.57" fill="rgb(90,90,90)"/><circle cx="326.89" cy="4.35" r="1.07" fill="rgb(240,240,240)"/><circle cx="259.61" cy="46.31" r="1.34" fill="rgb(250,250,250)"/><circle cx="247.76" cy="67.55" r="1.18" fill="rgb(225,225,225)"/><circle cx="241.17" cy="49.16" r="1.12" fill="rgb(250,250,250)"/><circle cx="342.13" cy="78.2" r="1.33" fill="rgb(240,240,240)"/><circle cx="322.22" cy="38.04" r="1.37" fill="rgb(250,250,250)"/><circle cx="233.53" cy="7.07" r="1.15" fill="rgb(240,240,240)"/><circle cx="344.32" cy="53.18" r="1.46" fill="rgb(240,240,240)"/><circle cx="336.25" cy="29.8" r="1.18" fill="rgb(240,240,240)"/><circle cx="279.35" cy="17.08" r="1.22" fill="rgb(70,70,70)"/><circle cx="315.82" cy="36.74" r="1.19" fill="rgb(250,250,250)"/><circle cx="288.96" cy="90.8" r="1.14" fill="rgb(90,90,90)"/><circle cx="329.61" cy="71.52" r="1.43" fill="rgb(90,90,90)"/><circle cx="287.46" cy="12.78" r="1.46" fill="rgb(240,240,240)"/><circle cx="348.57" cy="67.53" r="1.35" fill="rgb(70,70,70)"/><circle cx="333.03" cy="4.35" r="1.16" fill="rgb(225,225,225)"/><circle cx="344.46" cy="60.92" r="1.43" fill="rgb(90,90,90)"/><circle cx="225.07" cy="50.67" r="1.5" fill="rgb(250,250,250)"/><circle cx="231.22" cy="45.81" r="1.05" fill="rgb(240,240,240)"/><circle cx="225.71" cy="12.81" r="1.55" fill="rgb(250,250,250)"/><circle cx="336.05" cy="17.46" r="1.18" fill="rgb(225,225,225)"/><circle cx="289.84" cy="70.55" r="1.09" fill="rgb(250,250,250)"/><circle cx="281.9" cy="79.54" r="1.64" fill="rgb(90,90,90)"/><circle cx="278.9" cy="86.24" r="1.32" fill="rgb(90,90,90)"/><circle cx="326.9" cy="10.41" r="1.12" fill="rgb(240,240,240)"/><circle cx="272.31" cy="39.22" r="1.19" fill="rgb(90,90,90)"/><circle cx="274.3" cy="63.37" r="1.19" fill="rgb(240,240,240)"/><circle cx="312.39" cy="65.75" r="1.34" fill="rgb(225,225,225)"/><circle cx="279.56" cy="18.94" r="1.29" fill="rgb(225,225,225)"/><circle cx="257.88" cy="84.97" r="1.24" fill="rgb(250,250,250)"/><circle cx="245.5" cy="37.22" r="1.49" fill="rgb(250,250,250)"/><circle cx="271.62" cy="63.6" r="1.02" fill="rgb(225,225,225)"/><circle cx="340.43" cy="44.11" r="1.36" fill="rgb(225,225,225)"/><circle cx="255.64" cy="75.02" r="1.36" fill="rgb(225,225,225)"/><circle cx="232.16" cy="34.4" r="1.29" fill="rgb(250,250,250)"/><circle cx="233.06" cy="81.48" r="1.12" fill="rgb(225,225,225)"/><circle cx="314.69" cy="40.89" r="1.54" fill="rgb(240,240,240)"/><circle cx="221.91" cy="46.59" r="1.37" fill="rgb(225,225,225)"/><circle cx="275.59" cy="3.9" r="1.39" fill="rgb(225,225,225)"/><circle cx="279.08" cy="33.06" r="1.09" fill="rgb(70,70,70)"/><circle cx="267.12" cy="62.61" r="1.61" fill="rgb(225,225,225)"/><circle cx="219.92" cy="33.4" r="1.39" fill="rgb(250,250,250)"/><circle cx="325.8" cy="53.15" r="1.55" fill="rgb(250,250,250)"/><circle cx="229.14" cy="89.54" r="1.45" fill="rgb(250,250,250)"/><circle cx="298.36" cy="26.45" r="1.8" fill="rgb(70,70,70)"/><circle cx="264.38" cy="46.55" r="1.05" fill="rgb(250,250,250)"/><circle cx="319.16" cy="60.03" r="1.66" fill="rgb(240,240,240)"/><circle cx="290.99" cy="84.99" r="1.66" fill="rgb(90,90,90)"/><circle cx="232.8" cy="24.54" r="1.03" fill="rgb(70,70,70)"/><circle cx="236.69" cy="84.16" r="1.65" fill="rgb(250,250,250)"/><circle cx="252.93" cy="33.4" r="1.1" fill="rgb(240,240,240)"/><circle cx="221.16" cy="55.11" r="1.49" fill="rgb(70,70,70)"/><circle cx="238.45" cy="76.64" r="1.48" fill="rgb(70,70,70)"/><circle cx="306.02" cy="21.74" r="1.64" fill="rgb(225,225,225)"/><circle cx="273.23" cy="47.33" r="1.2" fill="rgb(70,70,70)"/><circle cx="279.03" cy="67.1" r="1.37" fill="rgb(70,70,70)"/><circle cx="292.72" cy="69.96" r="1.01" fill="rgb(90,90,90)"/><circle cx="292.86" cy="86.31" r="1.03" fill="rgb(225,225,225)"/><circle cx="280" cy="61" r="1.08" fill="rgb(250,250,250)"/><circle cx="286.65" cy="10.77" r="1.06" fill="rgb(225,225,225)"/><circle cx="263.76" cy="19.3" r="1.76" fill="rgb(225,225,225)"/><circle cx="247.72" cy="90.22" r="1.28" fill="rgb(225,225,225)"/><circle cx="328.58" cy="49.49" r="1.69" fill="rgb(225,225,225)"/><circle cx="329.4" cy="16.7" r="1.71" fill="rgb(240,240,240)"/><circle cx="235.31" cy="67.99" r="1.24" fill="rgb(225,225,225)"/><circle cx="236.89" cy="58.13" r="1.25" fill="rgb(70,70,70)"/><circle cx="293.49" cy="22.89" r="1.72" fill="rgb(240,240,240)"/><circle cx="297.54" cy="46.34" r="1.58" fill="rgb(90,90,90)"/><circle cx="349.02" cy="32.98" r="1.19" fill="rgb(225,225,225)"/><circle cx="240.09" cy="39.22" r="1.59" fill="rgb(70,70,70)"/><circle cx="319.55" cy="13.23" r="1.29" fill="rgb(240,240,240)"/><circle cx="329.72" cy="46.09" r="1.43" fill="rgb(70,70,70)"/><circle cx="257.63" cy="51.86" r="1.27" fill="rgb(240,240,240)"/><circle cx="298.08" cy="69.71" r="1.28" fill="rgb(240,240,240)"/><circle cx="279.11" cy="15.19" r="1.03" fill="rgb(90,90,90)"/><circle cx="227.04" cy="11.16" r="1.72" fill="rgb(90,90,90)"/><circle cx="315.12" cy="54.97" r="1.14" fill="rgb(225,225,225)"/><circle cx="265.55" cy="54.66" r="1.68" fill="rgb(240,240,240)"/><circle cx="290.11" cy="14.78" r="1.03" fill="rgb(240,240,240)"/><circle cx="318.23" cy="81.97" r="1.12" fill="rgb(70,70,70)"/><circle cx="325.24" cy="7.45" r="1.56" fill="rgb(225,225,225)"/><circle cx="281.38" cy="45.51" r="1.18" fill="rgb(250,250,250)"/><circle cx="340.97" cy="27.59" r="1.62" fill="rgb(70,70,70)"/><circle cx="294.87" cy="48.96" r="1.46" fill="rgb(90,90,90)"/><circle cx="234.1" cy="13.33" r="1.56" fill="rgb(240,240,240)"/><circle cx="299.79" cy="52.81" r="1.19" fill="rgb(250,250,250)"/><circle cx="240.12" cy="54.85" r="1.02" fill="rgb(225,225,225)"/><circle cx="264.42" cy="54.99" r="1.74" fill="rgb(70,70,70)"/><circle cx="278.67" cy="30.52" r="1.24" fill="rgb(225,225,225)"/><circle cx="282.4" cy="45.53" r="1.04" fill="rgb(250,250,250)"/><circle cx="233.49" cy="4.52" r="1.3" fill="rgb(225,225,225)"/><circle cx="308.41" cy="42.8" r="1.4" fill="rgb(240,240,240)"/><circle cx="332.27" cy="38.27" r="1.54" fill="rgb(240,240,240)"/><circle cx="223.55" cy="48.86" r="1.29" fill="rgb(70,70,70)"/><circle cx="275.28" cy="67.42" r="1.77" fill="rgb(250,250,250)"/><circle cx="321.3" cy="75.45" r="1.75" fill="rgb(250,250,250)"/><circle cx="269.84" cy="33.8" r="1.36" fill="rgb(90,90,90)"/><circle cx="227.07" cy="22.51" r="1.33" fill="rgb(70,70,70)"/><circle cx="273.34" cy="70.65" r="1.57" fill="rgb(225,225,225)"/><circle cx="222.67" cy="66.83" r="1.61" fill="rgb(225,225,225)"/><circle cx="221.34" cy="34.47" r="1.11" fill="rgb(225,225,225)"/><circle cx="324.72" cy="88.81" r="1.63" fill="rgb(240,240,240)"/><circle cx="300.44" cy="72.29" r="1.76" fill="rgb(70,70,70)"/><circle cx="263.04" cy="60.37" r="1.08" fill="rgb(250,250,250)"/><circle cx="338.97" cy="8.87" r="1.46" fill="rgb(70,70,70)"/><circle cx="248.78" cy="40.6" r="1.28" fill="rgb(90,90,90)"/><circle cx="306.55" cy="49.06" r="1.5" fill="rgb(90,90,90)"/><circle cx="313.64" cy="5.22" r="1.54" fill="rgb(250,250,250)"/><circle cx="338.3" cy="15.68" r="1.63" fill="rgb(225,225,225)"/><circle cx="230.57" cy="57.54" r="1.25" fill="rgb(240,240,240)"/><circle cx="267.88" cy="90.69" r="1.38" fill="rgb(250,250,250)"/><circle cx="323.57" cy="37.97" r="1.1" fill="rgb(225,225,225)"/><circle cx="347.45" cy="17.91" r="1.78" fill="rgb(250,250,250)"/><circle cx="280.77" cy="14.31" r="1.37" fill="rgb(250,250,250)"/><circle cx="290.48" cy="72.55" r="1.2" fill="rgb(250,250,250)"/><circle cx="224.16" cy="89.6" r="1" fill="rgb(250,250,250)"/><circle cx="345.13" cy="81.85" r="1.32" fill="rgb(70,70,70)"/><circle cx="245.82" cy="56.06" r="1.35" fill="rgb(250,250,250)"/><circle cx="312.18" cy="20.58" r="1.73" fill="rgb(70,70,70)"/><circle cx="296.46" cy="84.92" r="1.6" fill="rgb(225,225,225)"/><circle cx="237.21" cy="60.2" r="1.06" fill="rgb(240,240,240)"/><circle cx="298.35" cy="4.57" r="1.04" fill="rgb(70,70,70)"/><circle cx="270.59" cy="19.61" r="1.22" fill="rgb(90,90,90)"/><circle cx="251.21" cy="52" r="1.42" fill="rgb(240,240,240)"/><circle cx="329.9" cy="75.53" r="1.09" fill="rgb(240,240,240)"/><circle cx="227.04" cy="69.48" r="1.32" fill="rgb(250,250,250)"/><circle cx="226.63" cy="50.14" r="1.17" fill="rgb(250,250,250)"/><circle cx="306.32" cy="67.97" r="1.21" fill="rgb(90,90,90)"/><circle cx="306.47" cy="23.54" r="1.32" fill="rgb(240,240,240)"/><circle cx="281.36" cy="18.48" r="1.37" fill="rgb(250,250,250)"/><circle cx="255.8" cy="72.31" r="1.43" fill="rgb(90,90,90)"/><circle cx="272.38" cy="83.57" r="1.52" fill="rgb(70,70,70)"/><circle cx="293.04" cy="16.6" r="1.48" fill="rgb(250,250,250)"/><circle cx="339.63" cy="10.94" r="1.34" fill="rgb(70,70,70)"/><circle cx="267.9" cy="5.75" r="1.37" fill="rgb(240,240,240)"/><circle cx="282.55" cy="76.33" r="1.5" fill="rgb(240,240,240)"/><circle cx="250.98" cy="87.76" r="1.55" fill="rgb(240,240,240)"/><circle cx="235.66" cy="59.13" r="1" fill="rgb(250,250,250)"/><circle cx="257.01" cy="41.83" r="1.63" fill="rgb(90,90,90)"/><circle cx="292.5" cy="60.4" r="1.36" fill="rgb(225,225,225)"/><circle cx="314.98" cy="20.16" r="1.67" fill="rgb(90,90,90)"/><circle cx="338.61" cy="86.95" r="1.63" fill="rgb(250,250,250)"/><circle cx="257.55" cy="83.73" r="1.38" fill="rgb(70,70,70)"/><circle cx="232.49" cy="88.98" r="1.17" fill="rgb(250,250,250)"/><circle cx="242.25" cy="52.24" r="1.22" fill="rgb(250,250,250)"/><circle cx="246.91" cy="72.38" r="1.45" fill="rgb(250,250,250)"/><circle cx="293.68" cy="55.82" r="1.62" fill="rgb(70,70,70)"/><circle cx="254.21" cy="35.51" r="1.8" fill="rgb(250,250,250)"/><circle cx="328.88" cy="51.04" r="1.72" fill="rgb(70,70,70)"/><circle cx="256.56" cy="44.25" r="1.47" fill="rgb(90,90,90)"/><circle cx="319.68" cy="65.59" r="1.17" fill="rgb(70,70,70)"/><circle cx="263.81" cy="69.34" r="1.46" fill="rgb(240,240,240)"/><circle cx="338.6" cy="9.96" r="1.39" fill="rgb(225,225,225)"/><circle cx="258.25" cy="12.56" r="1.05" fill="rgb(250,250,250)"/><circle cx="348.89" cy="72.56" r="1.68" fill="rgb(225,225,225)"/><circle cx="275.82" cy="20.62" r="1.43" fill="rgb(250,250,250)"/><circle cx="250.89" cy="17.73" r="1.46" fill="rgb(225,225,225)"/><circle cx="347.96" cy="74.07" r="1.01" fill="rgb(225,225,225)"/><circle cx="242.07" cy="52.62" r="1.79" fill="rgb(70,70,70)"/><circle cx="291.33" cy="44.81" r="1.01" fill="rgb(240,240,240)"/><circle cx="276.4" cy="79.2" r="1.42" fill="rgb(90,90,90)"/><circle cx="343.58" cy="87.94" r="1.01" fill="rgb(70,70,70)"/><circle cx="259.7" cy="20.81" r="1.64" fill="rgb(240,240,240)"/><circle cx="254.67" cy="37.56" r="1.54" fill="rgb(250,250,250)"/><circle cx="222.96" cy="18.38" r="1.24" fill="rgb(70,70,70)"/><circle cx="250.58" cy="83.37" r="1.58" fill="rgb(240,240,240)"/><circle cx="331.45" cy="72.22" r="1.15" fill="rgb(70,70,70)"/><circle cx="310.28" cy="51.69" r="1.58" fill="rgb(225,225,225)"/><circle cx="307.6" cy="72.8" r="1.13" fill="rgb(225,225,225)"/><circle cx="334.74" cy="63.68" r="1.69" fill="rgb(70,70,70)"/><circle cx="227.04" cy="49.38" r="1.13" fill="rgb(250,250,250)"/><circle cx="225.85" cy="20.37" r="1.21" fill="rgb(70,70,70)"/><circle cx="229.13" cy="60.55" r="1.55" fill="rgb(250,250,250)"/><circle cx="347.04" cy="28.43" r="1.19" fill="rgb(225,225,225)"/><circle cx="259.41" cy="74.96" r="1.6" fill="rgb(250,250,250)"/><circle cx="250.43" cy="15.5" r="1.38" fill="rgb(240,240,240)"/><circle cx="337.47" cy="26.47" r="1.56" fill="rgb(90,90,90)"/><circle cx="267.44" cy="64.97" r="1.74" fill="rgb(240,240,240)"/><circle cx="247.22" cy="26.57" r="1.16" fill="rgb(70,70,70)"/><circle cx="271.91" cy="67.79" r="1.69" fill="rgb(90,90,90)"/><circle cx="306.28" cy="51.16" r="1.15" fill="rgb(225,225,225)"/><circle cx="310.5" cy="36.98" r="1.75" fill="rgb(250,250,250)"/><circle cx="245.1" cy="26.08" r="1.36" fill="rgb(240,240,240)"/><circle cx="309.4" cy="29.3" r="1.72" fill="rgb(70,70,70)"/><circle cx="324" cy="27.48" r="1.53" fill="rgb(240,240,240)"/><circle cx="237.5" cy="60.5" r="1.5" fill="rgb(240,240,240)"/><circle cx="333.2" cy="29.8" r="1.44" fill="rgb(90,90,90)"/><circle cx="331.49" cy="14.31" r="1.17" fill="rgb(70,70,70)"/><circle cx="233.38" cy="90.09" r="1.07" fill="rgb(240,240,240)"/><circle cx="330.19" cy="41.97" r="1.02" fill="rgb(240,240,240)"/><circle cx="227.68" cy="25.51" r="1.13" fill="rgb(90,90,90)"/><circle cx="227.97" cy="16.13" r="1.08" fill="rgb(70,70,70)"/><circle cx="275.06" cy="76" r="1.42" fill="rgb(250,250,250)"/><circle cx="227.8" cy="86.65" r="1.05" fill="rgb(240,240,240)"/><circle cx="221.34" cy="69.23" r="1.61" fill="rgb(90,90,90)"/><circle cx="255.51" cy="81.84" r="1.7" fill="rgb(240,240,240)"/><circle cx="225.45" cy="87.41" r="1.68" fill="rgb(240,240,240)"/><circle cx="282.12" cy="73.28" r="1.73" fill="rgb(240,240,240)"/><circle cx="336.59" cy="28" r="1.52" fill="rgb(70,70,70)"/><circle cx="277.64" cy="78.88" r="1.36" fill="rgb(70,70,70)"/><circle cx="240.4" cy="36.58" r="1.56" fill="rgb(225,225,225)"/><circle cx="241.59" cy="20.22" r="1.31" fill="rgb(250,250,250)"/><circle cx="342.25" cy="48.95" r="1.17" fill="rgb(250,250,250)"/><circle cx="251.96" cy="50.64" r="1.17" fill="rgb(90,90,90)"/><circle cx="233.51" cy="75.68" r="1.48" fill="rgb(225,225,225)"/><circle cx="252.98" cy="40.5" r="1.7" fill="rgb(240,240,240)"/><circle cx="253.84" cy="41.59" r="1.31" fill="rgb(90,90,90)"/><circle cx="230.74" cy="71.15" r="1.8" fill="rgb(70,70,70)"/><circle cx="229.52" cy="35.3" r="1.1" fill="rgb(90,90,90)"/><circle cx="325.3" cy="13.45" r="1.37" fill="rgb(250,250,250)"/><circle cx="321.76" cy="72.77" r="1.26" fill="rgb(225,225,225)"/><circle cx="290" cy="15.07" r="1.79" fill="rgb(250,250,250)"/><circle cx="315.29" cy="38.15" r="1.47" fill="rgb(250,250,250)"/><circle cx="266.42" cy="32.69" r="1.73" fill="rgb(225,225,225)"/><circle cx="240.45" cy="86.86" r="1.37" fill="rgb(70,70,70)"/><circle cx="281" cy="5.08" r="1.26" fill="rgb(225,225,225)"/><circle cx="279.72" cy="7.9" r="1.01" fill="rgb(240,240,240)"/><circle cx="300.3" cy="4.43" r="1.76" fill="rgb(70,70,70)"/><circle cx="301.23" cy="66.59" r="1.41" fill="rgb(250,250,250)"/><circle cx="246.65" cy="84.23" r="1.28" fill="rgb(70,70,70)"/><circle cx="245.61" cy="41.4" r="1.12" fill="rgb(70,70,70)"/><circle cx="321.29" cy="22.79" r="1.73" fill="rgb(90,90,90)"/><circle cx="315.67" cy="79.11" r="1.71" fill="rgb(225,225,225)"/><circle cx="344.39" cy="4.73" r="1.21" fill="rgb(240,240,240)"/><circle cx="337.66" cy="51.46" r="1.37" fill="rgb(70,70,70)"/><circle cx="264.21" cy="76.58" r="1.21" fill="rgb(250,250,250)"/><circle cx="272.77" cy="76.03" r="1.52" fill="rgb(225,225,225)"/><circle cx="239.46" cy="22.15" r="1.78" fill="rgb(90,90,90)"/><circle cx="244.89" cy="18.19" r="1.06" fill="rgb(250,250,250)"/><circle cx="271.75" cy="57.64" r="1.71" fill="rgb(70,70,70)"/><circle cx="348.4" cy="34.84" r="1.32" fill="rgb(70,70,70)"/><circle cx="280.03" cy="78.51" r="1.33" fill="rgb(225,225,225)"/><circle cx="316.57" cy="78.65" r="1.27" fill="rgb(250,250,250)"/><circle cx="231.54" cy="62.67" r="1.64" fill="rgb(225,225,225)"/><circle cx="302.31" cy="27.92" r="1.18" fill="rgb(240,240,240)"/><circle cx="324.51" cy="86.11" r="1.26" fill="rgb(240,240,240)"/><circle cx="298.41" cy="43.54" r="1.71" fill="rgb(70,70,70)"/><circle cx="260.82" cy="73.08" r="1.6" fill="rgb(90,90,90)"/><circle cx="234.25" cy="76.21" r="1.29" fill="rgb(225,225,225)"/><circle cx="277.71" cy="38.75" r="1.34" fill="rgb(90,90,90)"/><circle cx="318.03" cy="30.98" r="1.6" fill="rgb(240,240,240)"/><circle cx="275.64" cy="50.83" r="1.14" fill="rgb(70,70,70)"/><circle cx="307.65" cy="57.43" r="1.74" fill="rgb(250,250,250)"/><circle cx="229.43" cy="49.22" r="1.04" fill="rgb(240,240,240)"/><circle cx="267.56" cy="60.02" r="1.22" fill="rgb(70,70,70)"/><circle cx="336.46" cy="84.31" r="1.74" fill="rgb(250,250,250)"/><circle cx="276.73" cy="58.46" r="1.05" fill="rgb(90,90,90)"/><circle cx="255.39" cy="77" r="1.15" fill="rgb(225,225,225)"/><circle cx="277.67" cy="62.75" r="1.47" fill="rgb(240,240,240)"/><circle cx="293.35" cy="15.05" r="1.03" fill="rgb(225,225,225)"/><circle cx="287.89" cy="59.22" r="1.78" fill="rgb(250,250,250)"/><circle cx="239.59" cy="11.36" r="1.67" fill="rgb(225,225,225)"/><circle cx="335.91" cy="88.51" r="1.32" fill="rgb(225,225,225)"/><circle cx="293.65" cy="59.5" r="1.46" fill="rgb(250,250,250)"/><circle cx="274.44" cy="76.08" r="1.03" fill="rgb(90,90,90)"/><circle cx="338.91" cy="40.61" r="1.58" fill="rgb(240,240,240)"/><circle cx="346.1" cy="60.66" r="1.49" fill="rgb(90,90,90)"/><circle cx="275.82" cy="19.72" r="1.12" fill="rgb(90,90,90)"/><circle cx="319.6" cy="41.38" r="1.29" fill="rgb(90,90,90)"/><circle cx="299.22" cy="58.57" r="1.63" fill="rgb(225,225,225)"/><circle cx="259.23" cy="56.44" r="1.08" fill="rgb(240,240,240)"/><circle cx="331.92" cy="57.08" r="1.39" fill="rgb(225,225,225)"/><circle cx="287.22" cy="49.57" r="1.41" fill="rgb(240,240,240)"/><circle cx="327.19" cy="36.76" r="1.61" fill="rgb(225,225,225)"/><circle cx="221.3" cy="31.62" r="1.52" fill="rgb(70,70,70)"/><circle cx="232.22" cy="35.1" r="1.35" fill="rgb(240,240,240)"/><circle cx="325.84" cy="13.35" r="1.24" fill="rgb(250,250,250)"/><circle cx="272.57" cy="65.53" r="1.32" fill="rgb(70,70,70)"/><circle cx="313.34" cy="23.8" r="1.62" fill="rgb(90,90,90)"/><circle cx="276.23" cy="48.27" r="1.34" fill="rgb(90,90,90)"/><circle cx="231.97" cy="48.17" r="1.13" fill="rgb(250,250,250)"/><circle cx="315.39" cy="68.77" r="1.78" fill="rgb(70,70,70)"/><circle cx="317.32" cy="38.61" r="1.17" fill="rgb(250,250,250)"/><circle cx="252.86" cy="83.63" r="1.34" fill="rgb(90,90,90)"/><circle cx="288.28" cy="48.94" r="1.48" fill="rgb(250,250,250)"/><circle cx="220.36" cy="59.5" r="1.18" fill="rgb(70,70,70)"/><circle cx="344.75" cy="58.88" r="1.09" fill="rgb(225,225,225)"/><circle cx="255.41" cy="28.23" r="1.75" fill="rgb(225,225,225)"/><circle cx="286.96" cy="48.47" r="1.28" fill="rgb(250,250,250)"/><circle cx="306.77" cy="44.63" r="1.45" fill="rgb(225,225,225)"/><circle cx="312.52" cy="60.21" r="1.73" fill="rgb(90,90,90)"/><circle cx="241.95" cy="53.11" r="1.73" fill="rgb(70,70,70)"/><circle cx="347.87" cy="34.91" r="1.52" fill="rgb(70,70,70)"/><circle cx="250.22" cy="40.02" r="1.48" fill="rgb(225,225,225)"/><circle cx="246.83" cy="69.94" r="1" fill="rgb(250,250,250)"/><circle cx="349.56" cy="46.65" r="1.63" fill="rgb(250,250,250)"/><circle cx="284.29" cy="44.62" r="1.22" fill="rgb(225,225,225)"/><circle cx="224.79" cy="51.09" r="1.53" fill="rgb(70,70,70)"/><circle cx="272.15" cy="82.31" r="1.19" fill="rgb(225,225,225)"/><circle cx="262.58" cy="21.25" r="1.17" fill="rgb(250,250,250)"/><circle cx="308.14" cy="70.68" r="1.42" fill="rgb(250,250,250)"/><circle cx="272.5" cy="86.6" r="1.04" fill="rgb(250,250,250)"/><circle cx="287.98" cy="29.88" r="1.26" fill="rgb(240,240,240)"/><circle cx="236.54" cy="87.03" r="1.77" fill="rgb(240,240,240)"/><circle cx="340.88" cy="17.94" r="1.3" fill="rgb(250,250,250)"/><circle cx="272.65" cy="49.73" r="1.66" fill="rgb(90,90,90)"/><circle cx="349.71" cy="69.81" r="1.38" fill="rgb(90,90,90)"/><circle cx="258.52" cy="88.76" r="1.32" fill="rgb(240,240,240)"/><circle cx="345.38" cy="68.87" r="1.16" fill="rgb(240,240,240)"/><circle cx="313.41" cy="62.22" r="1.46" fill="rgb(90,90,90)"/><circle cx="290.28" cy="27.89" r="1.41" fill="rgb(70,70,70)"/><circle cx="339.09" cy="74.17" r="1.6" fill="rgb(250,250,250)"/><circle cx="241.3" cy="16.1" r="1.76" fill="rgb(70,70,70)"/><circle cx="236.67" cy="9" r="1.16" fill="rgb(90,90,90)"/><circle cx="252.69" cy="55.49" r="1.61" fill="rgb(250,250,250)"/><circle cx="295.64" cy="56.17" r="1.66" fill="rgb(70,70,70)"/><circle cx="263.9" cy="86.63" r="1.53" fill="rgb(90,90,90)"/><circle cx="322.45" cy="36.5" r="1.66" fill="rgb(225,225,225)"/><circle cx="225.24" cy="50.46" r="1.07" fill="rgb(250,250,250)"/><circle cx="293.97" cy="89.61" r="1.55" fill="rgb(225,225,225)"/><circle cx="261.4" cy="56.69" r="1.6" fill="rgb(225,225,225)"/><circle cx="317.16" cy="74.09" r="1.32" fill="rgb(240,240,240)"/><circle cx="317.13" cy="46.52" r="1.35" fill="rgb(90,90,90)"/><circle cx="346.64" cy="67.63" r="1.4" fill="rgb(90,90,90)"/><circle cx="348.01" cy="60.57" r="1.52" fill="rgb(240,240,240)"/><circle cx="275.77" cy="7.49" r="1.35" fill="rgb(225,225,225)"/><circle cx="252.09" cy="86.12" r="1.09" fill="rgb(240,240,240)"/><circle cx="243.16" cy="7.32" r="1.63" fill="rgb(240,240,240)"/><circle cx="316.14" cy="32.78" r="1.21" fill="rgb(250,250,250)"/><circle cx="296.96" cy="15.53" r="1.03" fill="rgb(70,70,70)"/><circle cx="257.17" cy="91.15" r="1.54" fill="rgb(90,90,90)"/><circle cx="341.45" cy="81.35" r="1.52" fill="rgb(70,70,70)"/><circle cx="280.57" cy="68.17" r="1.31" fill="rgb(250,250,250)"/><circle cx="292.3" cy="50.45" r="1.01" fill="rgb(250,250,250)"/><circle cx="332.71" cy="77.61" r="1.14" fill="rgb(250,250,250)"/><circle cx="250.57" cy="47.17" r="1.24" fill="rgb(250,250,250)"/><circle cx="240.38" cy="4.42" r="1.14" fill="rgb(240,240,240)"/><circle cx="285.28" cy="81.88" r="1.04" fill="rgb(70,70,70)"/><circle cx="225.5" cy="88.96" r="1.16" fill="rgb(250,250,250)"/><circle cx="316.92" cy="55.8" r="1.33" fill="rgb(70,70,70)"/><circle cx="344.22" cy="13.42" r="1.67" fill="rgb(250,250,250)"/><circle cx="336.39" cy="12.15" r="1.46" fill="rgb(225,225,225)"/><circle cx="251.06" cy="35.24" r="1.07" fill="rgb(90,90,90)"/><circle cx="347.56" cy="34.41" r="1.38" fill="rgb(70,70,70)"/><circle cx="308.75" cy="82.8" r="1.5" fill="rgb(70,70,70)"/><circle cx="343.66" cy="27.14" r="1.66" fill="rgb(250,250,250)"/><circle cx="230.48" cy="67.9" r="1.56" fill="rgb(70,70,70)"/><circle cx="304.95" cy="89.04" r="1.15" fill="rgb(240,240,240)"/><circle cx="284.46" cy="30.4" r="1.61" fill="rgb(225,225,225)"/><circle cx="323.69" cy="43.4" r="1.07" fill="rgb(225,225,225)"/><circle cx="244.19" cy="59.07" r="1.63" fill="rgb(90,90,90)"/><circle cx="269.48" cy="55.93" r="1.23" fill="rgb(240,240,240)"/><circle cx="317.12" cy="14.47" r="1.71" fill="rgb(70,70,70)"/><circle cx="308.5" cy="48.59" r="1.39" fill="rgb(225,225,225)"/><circle cx="234.49" cy="8.33" r="1.18" fill="rgb(250,250,250)"/><circle cx="296.83" cy="22.62" r="1.76" fill="rgb(250,250,250)"/><circle cx="292.86" cy="27.78" r="1.28" fill="rgb(240,240,240)"/><circle cx="245.93" cy="15.25" r="1.25" fill="rgb(240,240,240)"/><circle cx="347.33" cy="45" r="1.36" fill="rgb(225,225,225)"/><circle cx="229.95" cy="80.35" r="1.51" fill="rgb(225,225,225)"/><circle cx="267.05" cy="39.78" r="1.48" fill="rgb(90,90,90)"/><circle cx="262.42" cy="16.33" r="1.79" fill="rgb(250,250,250)"/><circle cx="292.24" cy="63.87" r="1.29" fill="rgb(240,240,240)"/><circle cx="249.66" cy="47.41" r="1.67" fill="rgb(225,225,225)"/><circle cx="225.02" cy="51.92" r="1.13" fill="rgb(225,225,225)"/><circle cx="225.88" cy="51.86" r="1.34" fill="rgb(225,225,225)"/><circle cx="316.99" cy="54.54" r="1.49" fill="rgb(240,240,240)"/><circle cx="300.84" cy="29.26" r="1.19" fill="rgb(90,90,90)"/><circle cx="334.42" cy="50.93" r="1.71" fill="rgb(70,70,70)"/><circle cx="268.58" cy="18.43" r="1.17" fill="rgb(90,90,90)"/><circle cx="256.64" cy="68.3" r="1.74" fill="rgb(90,90,90)"/><circle cx="235.6" cy="40.22" r="1.57" fill="rgb(90,90,90)"/><circle cx="346.89" cy="76.01" r="1.26" fill="rgb(90,90,90)"/><circle cx="222.8" cy="19.22" r="1.09" fill="rgb(90,90,90)"/><circle cx="305.99" cy="8.35" r="1.61" fill="rgb(70,70,70)"/><circle cx="225.86" cy="55.23" r="1.03" fill="rgb(70,70,70)"/><circle cx="276.63" cy="90.75" r="1.79" fill="rgb(225,225,225)"/><circle cx="297.55" cy="72.32" r="1.22" fill="rgb(90,90,90)"/><circle cx="292.59" cy="34.74" r="1.73" fill="rgb(240,240,240)"/><circle cx="349.27" cy="37" r="1.23" fill="rgb(70,70,70)"/><circle cx="311.71" cy="9.82" r="1.03" fill="rgb(70,70,70)"/><circle cx="300.94" cy="85.68" r="1.43" fill="rgb(70,70,70)"/><circle cx="225.26" cy="49.86" r="1.12" fill="rgb(240,240,240)"/><circle cx="267.52" cy="42.4" r="1.31" fill="rgb(250,250,250)"/><circle cx="348.22" cy="65.85" r="1.07" fill="rgb(240,240,240)"/><circle cx="255.84" cy="36.76" r="1.41" fill="rgb(240,240,240)"/><circle cx="286.46" cy="44.45" r="1.37" fill="rgb(70,70,70)"/><circle cx="274.19" cy="13.34" r="1.74" fill="rgb(240,240,240)"/><circle cx="296.88" cy="12.17" r="1.49" fill="rgb(250,250,250)"/><circle cx="298.94" cy="5.14" r="1.73" fill="rgb(90,90,90)"/><circle cx="258.45" cy="81.77" r="1.74" fill="rgb(70,70,70)"/><circle cx="243.53" cy="56.69" r="1.17" fill="rgb(250,250,250)"/><circle cx="309.88" cy="75.44" r="1.21" fill="rgb(225,225,225)"/><circle cx="221.55" cy="86.81" r="1.02" fill="rgb(225,225,225)"/><circle cx="307.01" cy="78.33" r="1.15" fill="rgb(70,70,70)"/><circle cx="265.98" cy="63.2" r="1.72" fill="rgb(90,90,90)"/><circle cx="259.64" cy="44.99" r="1.14" fill="rgb(225,225,225)"/><circle cx="231.84" cy="65.04" r="1.25" fill="rgb(225,225,225)"/><circle cx="225.88" cy="33.95" r="1.2" fill="rgb(240,240,240)"/><circle cx="245.82" cy="59.24" r="1.27" fill="rgb(70,70,70)"/><circle cx="262.5" cy="67.28" r="1.51" fill="rgb(225,225,225)"/><circle cx="318.46" cy="7.7" r="1.64" fill="rgb(225,225,225)"/><circle cx="315.21" cy="81.39" r="1.52" fill="rgb(225,225,225)"/><circle cx="246.73" cy="29.25" r="1.06" fill="rgb(225,225,225)"/><circle cx="222.13" cy="23.14" r="1.19" fill="rgb(225,225,225)"/><circle cx="220.7" cy="4.75" r="1.78" fill="rgb(90,90,90)"/><circle cx="315.27" cy="30.39" r="1.19" fill="rgb(250,250,250)"/><circle cx="257.21" cy="4.55" r="1.49" fill="rgb(70,70,70)"/><circle cx="263.42" cy="15.05" r="1.64" fill="rgb(225,225,225)"/><circle cx="291.97" cy="71.51" r="1.42" fill="rgb(250,250,250)"/><circle cx="246.73" cy="89.32" r="1.05" fill="rgb(250,250,250)"/><circle cx="236.67" cy="36.45" r="1.62" fill="rgb(225,225,225)"/><circle cx="332.92" cy="90.74" r="1.7" fill="rgb(90,90,90)"/><circle cx="305.58" cy="84.79" r="1.78" fill="rgb(240,240,240)"/></g>
<g filter="url(#bl2)"><ellipse cx="209.8" cy="7.4" rx="2.5" ry="2.0" transform="rotate(38 209.8 7.4)" fill="#060606"/><ellipse cx="224" cy="7.4" rx="2.5" ry="2.0" transform="rotate(38 224 7.4)" fill="#060606"/><ellipse cx="238.2" cy="7.4" rx="2.5" ry="2.0" transform="rotate(38 238.2 7.4)" fill="#060606"/><ellipse cx="252.4" cy="7.4" rx="2.5" ry="2.0" transform="rotate(38 252.4 7.4)" fill="#060606"/><ellipse cx="266.6" cy="7.4" rx="2.5" ry="2.0" transform="rotate(38 266.6 7.4)" fill="#060606"/><ellipse cx="280.8" cy="7.4" rx="2.5" ry="2.0" transform="rotate(38 280.8 7.4)" fill="#060606"/><ellipse cx="295" cy="7.4" rx="2.5" ry="2.0" transform="rotate(38 295 7.4)" fill="#060606"/><ellipse cx="309.2" cy="7.4" rx="2.5" ry="2.0" transform="rotate(38 309.2 7.4)" fill="#060606"/><ellipse cx="323.4" cy="7.4" rx="2.5" ry="2.0" transform="rotate(38 323.4 7.4)" fill="#060606"/><ellipse cx="337.6" cy="7.4" rx="2.5" ry="2.0" transform="rotate(38 337.6 7.4)" fill="#060606"/><ellipse cx="209.8" cy="20.4" rx="2.5" ry="2.0" transform="rotate(38 209.8 20.4)" fill="#060606"/><ellipse cx="224" cy="20.4" rx="2.5" ry="2.0" transform="rotate(38 224 20.4)" fill="#060606"/><ellipse cx="238.2" cy="20.4" rx="2.5" ry="2.0" transform="rotate(38 238.2 20.4)" fill="#060606"/><ellipse cx="252.4" cy="20.4" rx="2.5" ry="2.0" transform="rotate(38 252.4 20.4)" fill="#060606"/><ellipse cx="266.6" cy="20.4" rx="2.5" ry="2.0" transform="rotate(38 266.6 20.4)" fill="#060606"/><ellipse cx="280.8" cy="20.4" rx="2.5" ry="2.0" transform="rotate(38 280.8 20.4)" fill="#060606"/><ellipse cx="295" cy="20.4" rx="2.5" ry="2.0" transform="rotate(38 295 20.4)" fill="#060606"/><ellipse cx="309.2" cy="20.4" rx="2.5" ry="2.0" transform="rotate(38 309.2 20.4)" fill="#060606"/><ellipse cx="323.4" cy="20.4" rx="2.5" ry="2.0" transform="rotate(38 323.4 20.4)" fill="#060606"/><ellipse cx="337.6" cy="20.4" rx="2.5" ry="2.0" transform="rotate(38 337.6 20.4)" fill="#060606"/><ellipse cx="209.8" cy="33" rx="2.5" ry="2.0" transform="rotate(38 209.8 33)" fill="#060606"/><ellipse cx="224" cy="33" rx="2.5" ry="2.0" transform="rotate(38 224 33)" fill="#060606"/><ellipse cx="238.2" cy="33" rx="2.5" ry="2.0" transform="rotate(38 238.2 33)" fill="#060606"/><ellipse cx="252.4" cy="33" rx="2.5" ry="2.0" transform="rotate(38 252.4 33)" fill="#060606"/><ellipse cx="266.6" cy="33" rx="2.5" ry="2.0" transform="rotate(38 266.6 33)" fill="#060606"/><ellipse cx="280.8" cy="33" rx="2.5" ry="2.0" transform="rotate(38 280.8 33)" fill="#060606"/><ellipse cx="295" cy="33" rx="2.5" ry="2.0" transform="rotate(38 295 33)" fill="#060606"/><ellipse cx="309.2" cy="33" rx="2.5" ry="2.0" transform="rotate(38 309.2 33)" fill="#060606"/><ellipse cx="323.4" cy="33" rx="2.5" ry="2.0" transform="rotate(38 323.4 33)" fill="#060606"/><ellipse cx="337.6" cy="33" rx="2.5" ry="2.0" transform="rotate(38 337.6 33)" fill="#060606"/><polygon points="207.3,43.9 212.7,46.7 207.3,49.5" fill="#000" stroke="#000" stroke-width="1.2" stroke-linejoin="round"/><polygon points="221.5,43.9 226.9,46.7 221.5,49.5" fill="#000" stroke="#000" stroke-width="1.2" stroke-linejoin="round"/><polygon points="235.7,43.9 241.1,46.7 235.7,49.5" fill="#000" stroke="#000" stroke-width="1.2" stroke-linejoin="round"/><polygon points="249.9,43.9 255.3,46.7 249.9,49.5" fill="#000" stroke="#000" stroke-width="1.2" stroke-linejoin="round"/><polygon points="264.1,43.9 269.5,46.7 264.1,49.5" fill="#000" stroke="#000" stroke-width="1.2" stroke-linejoin="round"/><polygon points="278.3,43.9 283.7,46.7 278.3,49.5" fill="#000" stroke="#000" stroke-width="1.2" stroke-linejoin="round"/><polygon points="292.5,43.9 297.9,46.7 292.5,49.5" fill="#000" stroke="#000" stroke-width="1.2" stroke-linejoin="round"/><polygon points="306.7,43.9 312.1,46.7 306.7,49.5" fill="#000" stroke="#000" stroke-width="1.2" stroke-linejoin="round"/><polygon points="320.9,43.9 326.3,46.7 320.9,49.5" fill="#000" stroke="#000" stroke-width="1.2" stroke-linejoin="round"/><polygon points="335.1,43.9 340.5,46.7 335.1,49.5" fill="#000" stroke="#000" stroke-width="1.2" stroke-linejoin="round"/><polygon points="207.3,58.2 212.7,61 207.3,63.8" fill="#000" stroke="#000" stroke-width="1.2" stroke-linejoin="round"/><polygon points="221.5,58.2 226.9,61 221.5,63.8" fill="#000" stroke="#000" stroke-width="1.2" stroke-linejoin="round"/><polygon points="235.7,58.2 241.1,61 235.7,63.8" fill="#000" stroke="#000" stroke-width="1.2" stroke-linejoin="round"/><polygon points="249.9,58.2 255.3,61 249.9,63.8" fill="#000" stroke="#000" stroke-width="1.2" stroke-linejoin="round"/><polygon points="264.1,58.2 269.5,61 264.1,63.8" fill="#000" stroke="#000" stroke-width="1.2" stroke-linejoin="round"/><polygon points="278.3,58.2 283.7,61 278.3,63.8" fill="#000" stroke="#000" stroke-width="1.2" stroke-linejoin="round"/><polygon points="292.5,58.2 297.9,61 292.5,63.8" fill="#000" stroke="#000" stroke-width="1.2" stroke-linejoin="round"/><polygon points="306.7,58.2 312.1,61 306.7,63.8" fill="#000" stroke="#000" stroke-width="1.2" stroke-linejoin="round"/><polygon points="320.9,58.2 326.3,61 320.9,63.8" fill="#000" stroke="#000" stroke-width="1.2" stroke-linejoin="round"/><polygon points="335.1,58.2 340.5,61 335.1,63.8" fill="#000" stroke="#000" stroke-width="1.2" stroke-linejoin="round"/><polygon points="207.3,72.3 212.7,75.1 207.3,77.9" fill="#000" stroke="#000" stroke-width="1.2" stroke-linejoin="round"/><polygon points="221.5,72.3 226.9,75.1 221.5,77.9" fill="#000" stroke="#000" stroke-width="1.2" stroke-linejoin="round"/><polygon points="235.7,72.3 241.1,75.1 235.7,77.9" fill="#000" stroke="#000" stroke-width="1.2" stroke-linejoin="round"/><polygon points="249.9,72.3 255.3,75.1 249.9,77.9" fill="#000" stroke="#000" stroke-width="1.2" stroke-linejoin="round"/><polygon points="264.1,72.3 269.5,75.1 264.1,77.9" fill="#000" stroke="#000" stroke-width="1.2" stroke-linejoin="round"/><polygon points="278.3,72.3 283.7,75.1 278.3,77.9" fill="#000" stroke="#000" stroke-width="1.2" stroke-linejoin="round"/><polygon points="292.5,72.3 297.9,75.1 292.5,77.9" fill="#000" stroke="#000" stroke-width="1.2" stroke-linejoin="round"/><polygon points="306.7,72.3 312.1,75.1 306.7,77.9" fill="#000" stroke="#000" stroke-width="1.2" stroke-linejoin="round"/><polygon points="320.9,72.3 326.3,75.1 320.9,77.9" fill="#000" stroke="#000" stroke-width="1.2" stroke-linejoin="round"/><polygon points="335.1,72.3 340.5,75.1 335.1,77.9" fill="#000" stroke="#000" stroke-width="1.2" stroke-linejoin="round"/><polygon points="207.3,85.9 212.7,88.7 207.3,91.5" fill="#000" stroke="#000" stroke-width="1.2" stroke-linejoin="round"/><polygon points="221.5,85.9 226.9,88.7 221.5,91.5" fill="#000" stroke="#000" stroke-width="1.2" stroke-linejoin="round"/><polygon points="235.7,85.9 241.1,88.7 235.7,91.5" fill="#000" stroke="#000" stroke-width="1.2" stroke-linejoin="round"/><polygon points="249.9,85.9 255.3,88.7 249.9,91.5" fill="#000" stroke="#000" stroke-width="1.2" stroke-linejoin="round"/><polygon points="264.1,85.9 269.5,88.7 264.1,91.5" fill="#000" stroke="#000" stroke-width="1.2" stroke-linejoin="round"/><polygon points="278.3,85.9 283.7,88.7 278.3,91.5" fill="#000" stroke="#000" stroke-width="1.2" stroke-linejoin="round"/><polygon points="292.5,85.9 297.9,88.7 292.5,91.5" fill="#000" stroke="#000" stroke-width="1.2" stroke-linejoin="round"/><polygon points="306.7,85.9 312.1,88.7 306.7,91.5" fill="#000" stroke="#000" stroke-width="1.2" stroke-linejoin="round"/><polygon points="320.9,85.9 326.3,88.7 320.9,91.5" fill="#000" stroke="#000" stroke-width="1.2" stroke-linejoin="round"/><polygon points="335.1,85.9 340.5,88.7 335.1,91.5" fill="#000" stroke="#000" stroke-width="1.2" stroke-linejoin="round"/><ellipse cx="217.6" cy="0.8" rx="2.4" ry="1.9" transform="rotate(38 217.6 0.8)" fill="#0a0a0a"/><ellipse cx="231.8" cy="0.8" rx="2.4" ry="1.9" transform="rotate(38 231.8 0.8)" fill="#0a0a0a"/><ellipse cx="246" cy="0.8" rx="2.4" ry="1.9" transform="rotate(38 246 0.8)" fill="#0a0a0a"/><ellipse cx="260.2" cy="0.8" rx="2.4" ry="1.9" transform="rotate(38 260.2 0.8)" fill="#0a0a0a"/><ellipse cx="274.4" cy="0.8" rx="2.4" ry="1.9" transform="rotate(38 274.4 0.8)" fill="#0a0a0a"/><ellipse cx="288.6" cy="0.8" rx="2.4" ry="1.9" transform="rotate(38 288.6 0.8)" fill="#0a0a0a"/><ellipse cx="302.8" cy="0.8" rx="2.4" ry="1.9" transform="rotate(38 302.8 0.8)" fill="#0a0a0a"/><ellipse cx="317" cy="0.8" rx="2.4" ry="1.9" transform="rotate(38 317 0.8)" fill="#0a0a0a"/><ellipse cx="331.2" cy="0.8" rx="2.4" ry="1.9" transform="rotate(38 331.2 0.8)" fill="#0a0a0a"/><ellipse cx="345.4" cy="0.8" rx="2.4" ry="1.9" transform="rotate(38 345.4 0.8)" fill="#0a0a0a"/><ellipse cx="217.6" cy="13.9" rx="2.4" ry="1.9" transform="rotate(38 217.6 13.9)" fill="#0a0a0a"/><ellipse cx="231.8" cy="13.9" rx="2.4" ry="1.9" transform="rotate(38 231.8 13.9)" fill="#0a0a0a"/><ellipse cx="246" cy="13.9" rx="2.4" ry="1.9" transform="rotate(38 246 13.9)" fill="#0a0a0a"/><ellipse cx="260.2" cy="13.9" rx="2.4" ry="1.9" transform="rotate(38 260.2 13.9)" fill="#0a0a0a"/><ellipse cx="274.4" cy="13.9" rx="2.4" ry="1.9" transform="rotate(38 274.4 13.9)" fill="#0a0a0a"/><ellipse cx="288.6" cy="13.9" rx="2.4" ry="1.9" transform="rotate(38 288.6 13.9)" fill="#0a0a0a"/><ellipse cx="302.8" cy="13.9" rx="2.4" ry="1.9" transform="rotate(38 302.8 13.9)" fill="#0a0a0a"/><ellipse cx="317" cy="13.9" rx="2.4" ry="1.9" transform="rotate(38 317 13.9)" fill="#0a0a0a"/><ellipse cx="331.2" cy="13.9" rx="2.4" ry="1.9" transform="rotate(38 331.2 13.9)" fill="#0a0a0a"/><ellipse cx="345.4" cy="13.9" rx="2.4" ry="1.9" transform="rotate(38 345.4 13.9)" fill="#0a0a0a"/><ellipse cx="217.6" cy="26.9" rx="2.4" ry="1.9" transform="rotate(38 217.6 26.9)" fill="#0a0a0a"/><ellipse cx="231.8" cy="26.9" rx="2.4" ry="1.9" transform="rotate(38 231.8 26.9)" fill="#0a0a0a"/><ellipse cx="246" cy="26.9" rx="2.4" ry="1.9" transform="rotate(38 246 26.9)" fill="#0a0a0a"/><ellipse cx="260.2" cy="26.9" rx="2.4" ry="1.9" transform="rotate(38 260.2 26.9)" fill="#0a0a0a"/><ellipse cx="274.4" cy="26.9" rx="2.4" ry="1.9" transform="rotate(38 274.4 26.9)" fill="#0a0a0a"/><ellipse cx="288.6" cy="26.9" rx="2.4" ry="1.9" transform="rotate(38 288.6 26.9)" fill="#0a0a0a"/><ellipse cx="302.8" cy="26.9" rx="2.4" ry="1.9" transform="rotate(38 302.8 26.9)" fill="#0a0a0a"/><ellipse cx="317" cy="26.9" rx="2.4" ry="1.9" transform="rotate(38 317 26.9)" fill="#0a0a0a"/><ellipse cx="331.2" cy="26.9" rx="2.4" ry="1.9" transform="rotate(38 331.2 26.9)" fill="#0a0a0a"/><ellipse cx="345.4" cy="26.9" rx="2.4" ry="1.9" transform="rotate(38 345.4 26.9)" fill="#0a0a0a"/><ellipse cx="217.6" cy="39.6" rx="2.4" ry="1.9" transform="rotate(38 217.6 39.6)" fill="#0a0a0a"/><ellipse cx="231.8" cy="39.6" rx="2.4" ry="1.9" transform="rotate(38 231.8 39.6)" fill="#0a0a0a"/><ellipse cx="246" cy="39.6" rx="2.4" ry="1.9" transform="rotate(38 246 39.6)" fill="#0a0a0a"/><ellipse cx="260.2" cy="39.6" rx="2.4" ry="1.9" transform="rotate(38 260.2 39.6)" fill="#0a0a0a"/><ellipse cx="274.4" cy="39.6" rx="2.4" ry="1.9" transform="rotate(38 274.4 39.6)" fill="#0a0a0a"/><ellipse cx="288.6" cy="39.6" rx="2.4" ry="1.9" transform="rotate(38 288.6 39.6)" fill="#0a0a0a"/><ellipse cx="302.8" cy="39.6" rx="2.4" ry="1.9" transform="rotate(38 302.8 39.6)" fill="#0a0a0a"/><ellipse cx="317" cy="39.6" rx="2.4" ry="1.9" transform="rotate(38 317 39.6)" fill="#0a0a0a"/><ellipse cx="331.2" cy="39.6" rx="2.4" ry="1.9" transform="rotate(38 331.2 39.6)" fill="#0a0a0a"/><ellipse cx="345.4" cy="39.6" rx="2.4" ry="1.9" transform="rotate(38 345.4 39.6)" fill="#0a0a0a"/><polygon points="215.7,51.8 219.9,53.9 215.7,56" fill="#000" stroke="#000" stroke-width="0.9" stroke-linejoin="round"/><polygon points="229.9,51.8 234.1,53.9 229.9,56" fill="#000" stroke="#000" stroke-width="0.9" stroke-linejoin="round"/><polygon points="244.1,51.8 248.3,53.9 244.1,56" fill="#000" stroke="#000" stroke-width="0.9" stroke-linejoin="round"/><polygon points="258.3,51.8 262.5,53.9 258.3,56" fill="#000" stroke="#000" stroke-width="0.9" stroke-linejoin="round"/><polygon points="272.5,51.8 276.7,53.9 272.5,56" fill="#000" stroke="#000" stroke-width="0.9" stroke-linejoin="round"/><polygon points="286.7,51.8 290.9,53.9 286.7,56" fill="#000" stroke="#000" stroke-width="0.9" stroke-linejoin="round"/><polygon points="300.9,51.8 305.1,53.9 300.9,56" fill="#000" stroke="#000" stroke-width="0.9" stroke-linejoin="round"/><polygon points="315.1,51.8 319.3,53.9 315.1,56" fill="#000" stroke="#000" stroke-width="0.9" stroke-linejoin="round"/><polygon points="329.3,51.8 333.5,53.9 329.3,56" fill="#000" stroke="#000" stroke-width="0.9" stroke-linejoin="round"/><polygon points="343.5,51.8 347.7,53.9 343.5,56" fill="#000" stroke="#000" stroke-width="0.9" stroke-linejoin="round"/><polygon points="215.7,66.1 219.9,68.2 215.7,70.3" fill="#000" stroke="#000" stroke-width="0.9" stroke-linejoin="round"/><polygon points="229.9,66.1 234.1,68.2 229.9,70.3" fill="#000" stroke="#000" stroke-width="0.9" stroke-linejoin="round"/><polygon points="244.1,66.1 248.3,68.2 244.1,70.3" fill="#000" stroke="#000" stroke-width="0.9" stroke-linejoin="round"/><polygon points="258.3,66.1 262.5,68.2 258.3,70.3" fill="#000" stroke="#000" stroke-width="0.9" stroke-linejoin="round"/><polygon points="272.5,66.1 276.7,68.2 272.5,70.3" fill="#000" stroke="#000" stroke-width="0.9" stroke-linejoin="round"/><polygon points="286.7,66.1 290.9,68.2 286.7,70.3" fill="#000" stroke="#000" stroke-width="0.9" stroke-linejoin="round"/><polygon points="300.9,66.1 305.1,68.2 300.9,70.3" fill="#000" stroke="#000" stroke-width="0.9" stroke-linejoin="round"/><polygon points="315.1,66.1 319.3,68.2 315.1,70.3" fill="#000" stroke="#000" stroke-width="0.9" stroke-linejoin="round"/><polygon points="329.3,66.1 333.5,68.2 329.3,70.3" fill="#000" stroke="#000" stroke-width="0.9" stroke-linejoin="round"/><polygon points="343.5,66.1 347.7,68.2 343.5,70.3" fill="#000" stroke="#000" stroke-width="0.9" stroke-linejoin="round"/><polygon points="215.7,80.1 219.9,82.2 215.7,84.3" fill="#000" stroke="#000" stroke-width="0.9" stroke-linejoin="round"/><polygon points="229.9,80.1 234.1,82.2 229.9,84.3" fill="#000" stroke="#000" stroke-width="0.9" stroke-linejoin="round"/><polygon points="244.1,80.1 248.3,82.2 244.1,84.3" fill="#000" stroke="#000" stroke-width="0.9" stroke-linejoin="round"/><polygon points="258.3,80.1 262.5,82.2 258.3,84.3" fill="#000" stroke="#000" stroke-width="0.9" stroke-linejoin="round"/><polygon points="272.5,80.1 276.7,82.2 272.5,84.3" fill="#000" stroke="#000" stroke-width="0.9" stroke-linejoin="round"/><polygon points="286.7,80.1 290.9,82.2 286.7,84.3" fill="#000" stroke="#000" stroke-width="0.9" stroke-linejoin="round"/><polygon points="300.9,80.1 305.1,82.2 300.9,84.3" fill="#000" stroke="#000" stroke-width="0.9" stroke-linejoin="round"/><polygon points="315.1,80.1 319.3,82.2 315.1,84.3" fill="#000" stroke="#000" stroke-width="0.9" stroke-linejoin="round"/><polygon points="329.3,80.1 333.5,82.2 329.3,84.3" fill="#000" stroke="#000" stroke-width="0.9" stroke-linejoin="round"/><polygon points="343.5,80.1 347.7,82.2 343.5,84.3" fill="#000" stroke="#000" stroke-width="0.9" stroke-linejoin="round"/></g>
<rect x="348.6" y="3.8" width="35" height="88" fill="#b4b4b4"/>
<rect x="219.7" y="3.8" width="163.60000000000002" height="87.4" filter="url(#nz)" style="mix-blend-mode:overlay" opacity="0.3"/>
<polygon points="351.9,38.6 365.9,38.6 358.9,46.3" fill="#f08a2a" stroke="#7fd0d0" stroke-width="0.45" opacity="0.95"/><line x1="351.9" y1="38.6" x2="358.9" y2="46.3" stroke="#b84400" stroke-width="0.4"/><line x1="353.65" y1="38.6" x2="358.9" y2="46.3" stroke="#b84400" stroke-width="0.4"/><line x1="355.4" y1="38.6" x2="358.9" y2="46.3" stroke="#b84400" stroke-width="0.4"/><line x1="357.15" y1="38.6" x2="358.9" y2="46.3" stroke="#b84400" stroke-width="0.4"/><line x1="358.9" y1="38.6" x2="358.9" y2="46.3" stroke="#b84400" stroke-width="0.4"/><line x1="360.65" y1="38.6" x2="358.9" y2="46.3" stroke="#b84400" stroke-width="0.4"/><line x1="362.4" y1="38.6" x2="358.9" y2="46.3" stroke="#b84400" stroke-width="0.4"/><line x1="364.15" y1="38.6" x2="358.9" y2="46.3" stroke="#b84400" stroke-width="0.4"/><line x1="365.9" y1="38.6" x2="358.9" y2="46.3" stroke="#b84400" stroke-width="0.4"/><polygon points="365.8,38.6 379.8,38.6 372.8,46.3" fill="#f08a2a" stroke="#7fd0d0" stroke-width="0.45" opacity="0.95"/><line x1="365.8" y1="38.6" x2="372.8" y2="46.3" stroke="#b84400" stroke-width="0.4"/><line x1="367.55" y1="38.6" x2="372.8" y2="46.3" stroke="#b84400" stroke-width="0.4"/><line x1="369.3" y1="38.6" x2="372.8" y2="46.3" stroke="#b84400" stroke-width="0.4"/><line x1="371.05" y1="38.6" x2="372.8" y2="46.3" stroke="#b84400" stroke-width="0.4"/><line x1="372.8" y1="38.6" x2="372.8" y2="46.3" stroke="#b84400" stroke-width="0.4"/><line x1="374.55" y1="38.6" x2="372.8" y2="46.3" stroke="#b84400" stroke-width="0.4"/><line x1="376.3" y1="38.6" x2="372.8" y2="46.3" stroke="#b84400" stroke-width="0.4"/><line x1="378.05" y1="38.6" x2="372.8" y2="46.3" stroke="#b84400" stroke-width="0.4"/><line x1="379.8" y1="38.6" x2="372.8" y2="46.3" stroke="#b84400" stroke-width="0.4"/><polygon points="358.9,46.2 365.9,53.4 358.9,60.6 351.9,53.4" fill="none" stroke="#c8f4f0" stroke-width="1.8" opacity="0.7"/><polygon points="358.9,46.2 365.9,53.4 358.9,60.6 351.9,53.4" fill="#7038e0" stroke="#e03858" stroke-width="0.7"/><polygon points="358.9,48.8 363.4,53.4 358.9,58 354.4,53.4" fill="none" stroke="#8040d8" stroke-width="0.6"/><polygon points="358.9,51.2 361,53.4 358.9,55.6 356.8,53.4" fill="none" stroke="#b03090" stroke-width="0.5"/><line x1="351.9" y1="53.4" x2="365.9" y2="53.4" stroke="#d02090" stroke-width="0.6"/><line x1="358.9" y1="46.2" x2="358.9" y2="60.6" stroke="#d02090" stroke-width="0.6"/><circle cx="358.9" cy="53.4" r="1.2" fill="#e0105a"/><polygon points="372.8,46.2 379.8,53.4 372.8,60.6 365.8,53.4" fill="none" stroke="#c8f4f0" stroke-width="1.8" opacity="0.7"/><polygon points="372.8,46.2 379.8,53.4 372.8,60.6 365.8,53.4" fill="#7038e0" stroke="#e03858" stroke-width="0.7"/><polygon points="372.8,48.8 377.3,53.4 372.8,58 368.3,53.4" fill="none" stroke="#8040d8" stroke-width="0.6"/><polygon points="372.8,51.2 374.9,53.4 372.8,55.6 370.7,53.4" fill="none" stroke="#b03090" stroke-width="0.5"/><line x1="365.8" y1="53.4" x2="379.8" y2="53.4" stroke="#d02090" stroke-width="0.6"/><line x1="372.8" y1="46.2" x2="372.8" y2="60.6" stroke="#d02090" stroke-width="0.6"/><circle cx="372.8" cy="53.4" r="1.2" fill="#e0105a"/><polygon points="358.9,60.5 365.9,67.7 358.9,74.9 351.9,67.7" fill="none" stroke="#c8f4f0" stroke-width="1.8" opacity="0.7"/><polygon points="358.9,60.5 365.9,67.7 358.9,74.9 351.9,67.7" fill="#7038e0" stroke="#e03858" stroke-width="0.7"/><polygon points="358.9,63.1 363.4,67.7 358.9,72.3 354.4,67.7" fill="none" stroke="#8040d8" stroke-width="0.6"/><polygon points="358.9,65.5 361,67.7 358.9,69.9 356.8,67.7" fill="none" stroke="#b03090" stroke-width="0.5"/><line x1="351.9" y1="67.7" x2="365.9" y2="67.7" stroke="#d02090" stroke-width="0.6"/><line x1="358.9" y1="60.5" x2="358.9" y2="74.9" stroke="#d02090" stroke-width="0.6"/><circle cx="358.9" cy="67.7" r="1.2" fill="#e0105a"/><polygon points="372.8,60.5 379.8,67.7 372.8,74.9 365.8,67.7" fill="none" stroke="#c8f4f0" stroke-width="1.8" opacity="0.7"/><polygon points="372.8,60.5 379.8,67.7 372.8,74.9 365.8,67.7" fill="#7038e0" stroke="#e03858" stroke-width="0.7"/><polygon points="372.8,63.1 377.3,67.7 372.8,72.3 368.3,67.7" fill="none" stroke="#8040d8" stroke-width="0.6"/><polygon points="372.8,65.5 374.9,67.7 372.8,69.9 370.7,67.7" fill="none" stroke="#b03090" stroke-width="0.5"/><line x1="365.8" y1="67.7" x2="379.8" y2="67.7" stroke="#d02090" stroke-width="0.6"/><line x1="372.8" y1="60.5" x2="372.8" y2="74.9" stroke="#d02090" stroke-width="0.6"/><circle cx="372.8" cy="67.7" r="1.2" fill="#e0105a"/><polygon points="358.9,74.8 365.9,82 358.9,89.2 351.9,82" fill="none" stroke="#c8f4f0" stroke-width="1.8" opacity="0.7"/><polygon points="358.9,74.8 365.9,82 358.9,89.2 351.9,82" fill="#7038e0" stroke="#e03858" stroke-width="0.7"/><polygon points="358.9,77.4 363.4,82 358.9,86.6 354.4,82" fill="none" stroke="#8040d8" stroke-width="0.6"/><polygon points="358.9,79.8 361,82 358.9,84.2 356.8,82" fill="none" stroke="#b03090" stroke-width="0.5"/><line x1="351.9" y1="82" x2="365.9" y2="82" stroke="#d02090" stroke-width="0.6"/><line x1="358.9" y1="74.8" x2="358.9" y2="89.2" stroke="#d02090" stroke-width="0.6"/><circle cx="358.9" cy="82" r="1.2" fill="#e0105a"/><polygon points="372.8,74.8 379.8,82 372.8,89.2 365.8,82" fill="none" stroke="#c8f4f0" stroke-width="1.8" opacity="0.7"/><polygon points="372.8,74.8 379.8,82 372.8,89.2 365.8,82" fill="#7038e0" stroke="#e03858" stroke-width="0.7"/><polygon points="372.8,77.4 377.3,82 372.8,86.6 368.3,82" fill="none" stroke="#8040d8" stroke-width="0.6"/><polygon points="372.8,79.8 374.9,82 372.8,84.2 370.7,82" fill="none" stroke="#b03090" stroke-width="0.5"/><line x1="365.8" y1="82" x2="379.8" y2="82" stroke="#d02090" stroke-width="0.6"/><line x1="372.8" y1="74.8" x2="372.8" y2="89.2" stroke="#d02090" stroke-width="0.6"/><circle cx="372.8" cy="82" r="1.2" fill="#e0105a"/><line x1="350" y1="14.3" x2="382" y2="14.3" stroke="#6090c8" stroke-width="2.6" opacity="0.35"/><line x1="350" y1="14.3" x2="382" y2="14.3" stroke="#f0a030" stroke-width="1.2"/><circle cx="352" cy="14.3" r="1.1" fill="#f00"/><circle cx="365.9" cy="14.3" r="1.1" fill="#f00"/><circle cx="380" cy="14.3" r="1.1" fill="#f00"/><circle cx="358.9" cy="14.3" r="2.6" fill="#304868" opacity="0.55"/><circle cx="358.9" cy="14.3" r="2.0" fill="#f07a10"/><circle cx="358.9" cy="14.3" r="1.0" fill="#f01010"/><circle cx="372.8" cy="14.3" r="2.6" fill="#304868" opacity="0.55"/><circle cx="372.8" cy="14.3" r="2.0" fill="#f07a10"/><circle cx="372.8" cy="14.3" r="1.0" fill="#f01010"/><line x1="350" y1="26.8" x2="382" y2="26.8" stroke="#6090c8" stroke-width="2.6" opacity="0.35"/><line x1="350" y1="26.8" x2="382" y2="26.8" stroke="#f0a030" stroke-width="1.2"/><circle cx="352" cy="26.8" r="1.1" fill="#f00"/><circle cx="365.9" cy="26.8" r="1.1" fill="#f00"/><circle cx="380" cy="26.8" r="1.1" fill="#f00"/><circle cx="358.9" cy="26.8" r="2.6" fill="#304868" opacity="0.55"/><circle cx="358.9" cy="26.8" r="2.0" fill="#f07a10"/><circle cx="358.9" cy="26.8" r="1.0" fill="#f01010"/><circle cx="372.8" cy="26.8" r="2.6" fill="#304868" opacity="0.55"/><circle cx="372.8" cy="26.8" r="2.0" fill="#f07a10"/><circle cx="372.8" cy="26.8" r="1.0" fill="#f01010"/><circle cx="352" cy="38.7" r="1.0" fill="#f00"/><circle cx="365.9" cy="38.7" r="1.0" fill="#f00"/><circle cx="380" cy="38.7" r="1.0" fill="#f00"/><circle cx="358.9" cy="38.7" r="1.0" fill="#f00"/><circle cx="372.8" cy="38.7" r="1.0" fill="#f00"/><circle cx="358.9" cy="46.3" r="1.0" fill="#f00"/><circle cx="372.8" cy="46.3" r="1.0" fill="#f00"/><circle cx="358.9" cy="60.5" r="1.0" fill="#f00"/><circle cx="372.8" cy="60.5" r="1.0" fill="#f00"/><circle cx="358.9" cy="74.9" r="1.0" fill="#f00"/><circle cx="372.8" cy="74.9" r="1.0" fill="#f00"/><circle cx="358.9" cy="89.1" r="1.0" fill="#f00"/><circle cx="372.8" cy="89.1" r="1.0" fill="#f00"/><circle cx="352" cy="53.4" r="1.0" fill="#f00"/><circle cx="365.9" cy="53.4" r="1.0" fill="#f00"/><circle cx="380" cy="53.4" r="1.0" fill="#f00"/><circle cx="352" cy="67.7" r="1.0" fill="#f00"/><circle cx="365.9" cy="67.7" r="1.0" fill="#f00"/><circle cx="380" cy="67.7" r="1.0" fill="#f00"/><circle cx="352" cy="82.0" r="1.0" fill="#f00"/><circle cx="365.9" cy="82.0" r="1.0" fill="#f00"/><circle cx="380" cy="82.0" r="1.0" fill="#f00"/><circle cx="352" cy="7.4" r="3.0" fill="none" stroke="#a050b0" stroke-width="0.5" opacity="0.6"/><circle cx="352" cy="7.4" r="2.75" fill="#102410" opacity="0.9"/><circle cx="352" cy="7.4" r="2.0" fill="#14e014"/><circle cx="351.8" cy="7.2" r="0.85" fill="#b8ffb8"/><circle cx="365.9" cy="7.4" r="3.0" fill="none" stroke="#a050b0" stroke-width="0.5" opacity="0.6"/><circle cx="365.9" cy="7.4" r="2.75" fill="#102410" opacity="0.9"/><circle cx="365.9" cy="7.4" r="2.0" fill="#14e014"/><circle cx="365.7" cy="7.2" r="0.85" fill="#b8ffb8"/><circle cx="380" cy="7.4" r="3.0" fill="none" stroke="#a050b0" stroke-width="0.5" opacity="0.6"/><circle cx="380" cy="7.4" r="2.75" fill="#102410" opacity="0.9"/><circle cx="380" cy="7.4" r="2.0" fill="#14e014"/><circle cx="379.8" cy="7.2" r="0.85" fill="#b8ffb8"/><circle cx="352" cy="20.4" r="3.0" fill="none" stroke="#a050b0" stroke-width="0.5" opacity="0.6"/><circle cx="352" cy="20.4" r="2.75" fill="#102410" opacity="0.9"/><circle cx="352" cy="20.4" r="2.0" fill="#14e014"/><circle cx="351.8" cy="20.2" r="0.85" fill="#b8ffb8"/><circle cx="365.9" cy="20.4" r="3.0" fill="none" stroke="#a050b0" stroke-width="0.5" opacity="0.6"/><circle cx="365.9" cy="20.4" r="2.75" fill="#102410" opacity="0.9"/><circle cx="365.9" cy="20.4" r="2.0" fill="#14e014"/><circle cx="365.7" cy="20.2" r="0.85" fill="#b8ffb8"/><circle cx="380" cy="20.4" r="3.0" fill="none" stroke="#a050b0" stroke-width="0.5" opacity="0.6"/><circle cx="380" cy="20.4" r="2.75" fill="#102410" opacity="0.9"/><circle cx="380" cy="20.4" r="2.0" fill="#14e014"/><circle cx="379.8" cy="20.2" r="0.85" fill="#b8ffb8"/><circle cx="352" cy="33.0" r="3.0" fill="none" stroke="#a050b0" stroke-width="0.5" opacity="0.6"/><circle cx="352" cy="33.0" r="2.75" fill="#102410" opacity="0.9"/><circle cx="352" cy="33.0" r="2.0" fill="#14e014"/><circle cx="351.8" cy="32.8" r="0.85" fill="#b8ffb8"/><circle cx="365.9" cy="33.0" r="3.0" fill="none" stroke="#a050b0" stroke-width="0.5" opacity="0.6"/><circle cx="365.9" cy="33.0" r="2.75" fill="#102410" opacity="0.9"/><circle cx="365.9" cy="33.0" r="2.0" fill="#14e014"/><circle cx="365.7" cy="32.8" r="0.85" fill="#b8ffb8"/><circle cx="380" cy="33.0" r="3.0" fill="none" stroke="#a050b0" stroke-width="0.5" opacity="0.6"/><circle cx="380" cy="33.0" r="2.75" fill="#102410" opacity="0.9"/><circle cx="380" cy="33.0" r="2.0" fill="#14e014"/><circle cx="379.8" cy="32.8" r="0.85" fill="#b8ffb8"/><circle cx="352" cy="46.7" r="3.0" fill="none" stroke="#a050b0" stroke-width="0.5" opacity="0.6"/><circle cx="352" cy="46.7" r="2.75" fill="#102410" opacity="0.9"/><circle cx="352" cy="46.7" r="2.0" fill="#14e014"/><circle cx="351.8" cy="46.5" r="0.85" fill="#b8ffb8"/><circle cx="365.9" cy="46.7" r="3.0" fill="none" stroke="#a050b0" stroke-width="0.5" opacity="0.6"/><circle cx="365.9" cy="46.7" r="2.75" fill="#102410" opacity="0.9"/><circle cx="365.9" cy="46.7" r="2.0" fill="#14e014"/><circle cx="365.7" cy="46.5" r="0.85" fill="#b8ffb8"/><circle cx="380" cy="46.7" r="3.0" fill="none" stroke="#a050b0" stroke-width="0.5" opacity="0.6"/><circle cx="380" cy="46.7" r="2.75" fill="#102410" opacity="0.9"/><circle cx="380" cy="46.7" r="2.0" fill="#14e014"/><circle cx="379.8" cy="46.5" r="0.85" fill="#b8ffb8"/><circle cx="352" cy="61.0" r="3.0" fill="none" stroke="#a050b0" stroke-width="0.5" opacity="0.6"/><circle cx="352" cy="61.0" r="2.75" fill="#102410" opacity="0.9"/><circle cx="352" cy="61.0" r="2.0" fill="#14e014"/><circle cx="351.8" cy="60.8" r="0.85" fill="#b8ffb8"/><circle cx="365.9" cy="61.0" r="3.0" fill="none" stroke="#a050b0" stroke-width="0.5" opacity="0.6"/><circle cx="365.9" cy="61.0" r="2.75" fill="#102410" opacity="0.9"/><circle cx="365.9" cy="61.0" r="2.0" fill="#14e014"/><circle cx="365.7" cy="60.8" r="0.85" fill="#b8ffb8"/><circle cx="380" cy="61.0" r="3.0" fill="none" stroke="#a050b0" stroke-width="0.5" opacity="0.6"/><circle cx="380" cy="61.0" r="2.75" fill="#102410" opacity="0.9"/><circle cx="380" cy="61.0" r="2.0" fill="#14e014"/><circle cx="379.8" cy="60.8" r="0.85" fill="#b8ffb8"/><circle cx="352" cy="75.1" r="3.0" fill="none" stroke="#a050b0" stroke-width="0.5" opacity="0.6"/><circle cx="352" cy="75.1" r="2.75" fill="#102410" opacity="0.9"/><circle cx="352" cy="75.1" r="2.0" fill="#14e014"/><circle cx="351.8" cy="74.9" r="0.85" fill="#b8ffb8"/><circle cx="365.9" cy="75.1" r="3.0" fill="none" stroke="#a050b0" stroke-width="0.5" opacity="0.6"/><circle cx="365.9" cy="75.1" r="2.75" fill="#102410" opacity="0.9"/><circle cx="365.9" cy="75.1" r="2.0" fill="#14e014"/><circle cx="365.7" cy="74.9" r="0.85" fill="#b8ffb8"/><circle cx="380" cy="75.1" r="3.0" fill="none" stroke="#a050b0" stroke-width="0.5" opacity="0.6"/><circle cx="380" cy="75.1" r="2.75" fill="#102410" opacity="0.9"/><circle cx="380" cy="75.1" r="2.0" fill="#14e014"/><circle cx="379.8" cy="74.9" r="0.85" fill="#b8ffb8"/><circle cx="352" cy="88.7" r="3.0" fill="none" stroke="#a050b0" stroke-width="0.5" opacity="0.6"/><circle cx="352" cy="88.7" r="2.75" fill="#102410" opacity="0.9"/><circle cx="352" cy="88.7" r="2.0" fill="#14e014"/><circle cx="351.8" cy="88.5" r="0.85" fill="#b8ffb8"/><circle cx="365.9" cy="88.7" r="3.0" fill="none" stroke="#a050b0" stroke-width="0.5" opacity="0.6"/><circle cx="365.9" cy="88.7" r="2.75" fill="#102410" opacity="0.9"/><circle cx="365.9" cy="88.7" r="2.0" fill="#14e014"/><circle cx="365.7" cy="88.5" r="0.85" fill="#b8ffb8"/><circle cx="380" cy="88.7" r="3.0" fill="none" stroke="#a050b0" stroke-width="0.5" opacity="0.6"/><circle cx="380" cy="88.7" r="2.75" fill="#102410" opacity="0.9"/><circle cx="380" cy="88.7" r="2.0" fill="#14e014"/><circle cx="379.8" cy="88.5" r="0.85" fill="#b8ffb8"/>
</g>
<g font-family='"Liberation Serif", "Times New Roman", serif' font-size="11.4" fill="#000">
<radialGradient id="g1" cx="0.5" cy="0.5" r="0.5"><stop offset="0" stop-color="#e8ffe8"/><stop offset="0.4" stop-color="#22cc22"/><stop offset="0.72" stop-color="#22cc22"/><stop offset="1" stop-color="#1a5a1a"/></radialGradient><circle cx="236.6" cy="97" r="4.2" fill="url(#g1)"/>
<text x="243.0" y="100.2">La</text>
<radialGradient id="g2" cx="0.5" cy="0.5" r="0.5"><stop offset="0" stop-color="#e8ffe8"/><stop offset="0.4" stop-color="#8a2be2"/><stop offset="0.72" stop-color="#8a2be2"/><stop offset="1" stop-color="#4a1a90"/></radialGradient><circle cx="268.6" cy="97" r="3.2" fill="url(#g2)"/>
<text x="272.6" y="100.2">Mn</text>
<radialGradient id="g3" cx="0.5" cy="0.5" r="0.5"><stop offset="0" stop-color="#e8ffe8"/><stop offset="0.4" stop-color="#22dd22"/><stop offset="0.72" stop-color="#22dd22"/><stop offset="1" stop-color="#1a5a1a"/></radialGradient><circle cx="303.3" cy="97" r="3.6" fill="url(#g3)"/>
<text x="307.8" y="100.2">Sr</text>
<radialGradient id="g4" cx="0.5" cy="0.5" r="0.5"><stop offset="0" stop-color="#e8ffe8"/><stop offset="0.4" stop-color="#f08020"/><stop offset="0.72" stop-color="#f08020"/><stop offset="1" stop-color="#7a3a08"/></radialGradient><circle cx="333.5" cy="97" r="2.8" fill="url(#g4)"/>
<text x="338.3" y="100.2">Cu</text>
<radialGradient id="g5" cx="0.5" cy="0.5" r="0.5"><stop offset="0" stop-color="#e8ffe8"/><stop offset="0.4" stop-color="#f01010"/><stop offset="0.72" stop-color="#f01010"/><stop offset="1" stop-color="#a00000"/></radialGradient><circle cx="362.1" cy="97" r="2.1" fill="url(#g5)"/>
<text x="366.4" y="100.2">O</text>
</g>
</svg>
</body></html>
